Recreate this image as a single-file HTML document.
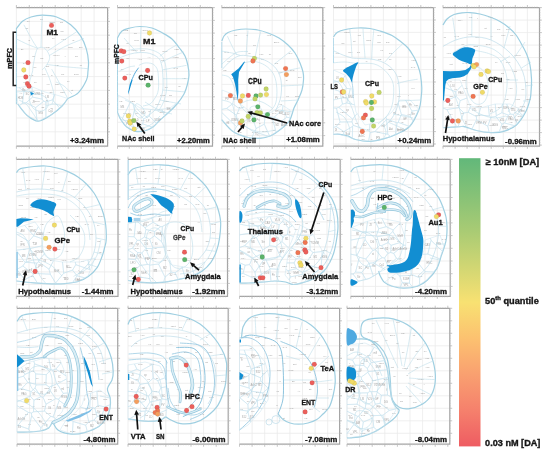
<!DOCTYPE html>
<html><head><meta charset="utf-8"><title>Figure</title>
<style>
html,body{margin:0;padding:0;background:#fff;}
svg{display:block;}
.tl text{font-weight:normal;fill:#a4a4a4;stroke:none;}
text{font-family:"Liberation Sans",Arial,sans-serif;font-weight:bold;fill:#151515;stroke:#151515;stroke-width:0.34px;}
</style></head><body>
<svg width="550" height="456" viewBox="0 0 550 456">
<defs>
<linearGradient id="cb" x1="0" y1="0" x2="0" y2="1">
<stop offset="0" stop-color="#62b87a"/>
<stop offset="0.25" stop-color="#a8cb74"/>
<stop offset="0.5" stop-color="#f8e172"/>
<stop offset="0.63" stop-color="#fcc070"/>
<stop offset="0.75" stop-color="#f9a070"/>
<stop offset="0.88" stop-color="#f57f6c"/>
<stop offset="1" stop-color="#ee5c62"/>
</linearGradient>
</defs>
<rect width="550" height="456" fill="#fff"/>
<rect x="16.4" y="7.6" width="91.2" height="138.6" fill="#fff"/>
<path d="M16.4,7.6V146.2M29.3,7.6V146.2M42.3,7.6V146.2M55.2,7.6V146.2M68.2,7.6V146.2M81.2,7.6V146.2M94.1,7.6V146.2M16.4,21.4H107.6M16.4,35.2H107.6M16.4,49.0H107.6M16.4,62.8H107.6M16.4,76.6H107.6M16.4,90.4H107.6M16.4,104.2H107.6M16.4,118.0H107.6M16.4,131.8H107.6" stroke="#ebebeb" stroke-width="0.8" fill="none"/>
<rect x="117.5" y="7.6" width="95.0" height="138.6" fill="#fff"/>
<path d="M117.5,7.6V146.2M129.3,7.6V146.2M141.2,7.6V146.2M153.0,7.6V146.2M164.8,7.6V146.2M176.7,7.6V146.2M188.5,7.6V146.2M200.3,7.6V146.2M117.5,20.4H212.5M117.5,33.1H212.5M117.5,45.9H212.5M117.5,58.6H212.5M117.5,71.3H212.5M117.5,84.1H212.5M117.5,96.8H212.5M117.5,109.6H212.5M117.5,122.3H212.5M117.5,135.1H212.5" stroke="#ebebeb" stroke-width="0.8" fill="none"/>
<rect x="221.8" y="7.6" width="101.0" height="138.6" fill="#fff"/>
<path d="M221.8,7.6V146.2M234.4,7.6V146.2M247.0,7.6V146.2M259.6,7.6V146.2M272.2,7.6V146.2M284.8,7.6V146.2M297.4,7.6V146.2M310.0,7.6V146.2M221.8,20.4H322.8M221.8,33.2H322.8M221.8,46.0H322.8M221.8,58.8H322.8M221.8,71.6H322.8M221.8,84.4H322.8M221.8,97.2H322.8M221.8,110.0H322.8M221.8,122.8H322.8M221.8,135.6H322.8" stroke="#ebebeb" stroke-width="0.8" fill="none"/>
<rect x="333.5" y="7.6" width="100.0" height="138.6" fill="#fff"/>
<path d="M333.5,7.6V146.2M346.0,7.6V146.2M358.4,7.6V146.2M370.9,7.6V146.2M383.4,7.6V146.2M395.9,7.6V146.2M408.3,7.6V146.2M420.8,7.6V146.2M333.5,20.0H433.5M333.5,32.4H433.5M333.5,44.8H433.5M333.5,57.2H433.5M333.5,69.6H433.5M333.5,82.0H433.5M333.5,94.4H433.5M333.5,106.8H433.5M333.5,119.2H433.5M333.5,131.6H433.5M333.5,144.0H433.5" stroke="#ebebeb" stroke-width="0.8" fill="none"/>
<rect x="443.0" y="7.6" width="96.5" height="138.6" fill="#fff"/>
<path d="M443.0,7.6V146.2M455.1,7.6V146.2M467.1,7.6V146.2M479.2,7.6V146.2M491.2,7.6V146.2M503.3,7.6V146.2M515.3,7.6V146.2M527.4,7.6V146.2M443.0,20.1H539.5M443.0,32.6H539.5M443.0,45.1H539.5M443.0,57.6H539.5M443.0,70.1H539.5M443.0,82.6H539.5M443.0,95.1H539.5M443.0,107.6H539.5M443.0,120.1H539.5M443.0,132.6H539.5" stroke="#ebebeb" stroke-width="0.8" fill="none"/>
<path d="M16.2,29.0 C17.2,27.7 20.0,23.2 22.5,21.2 C25.0,19.2 27.7,18.0 31.0,17.0 C34.3,16.0 38.1,15.1 42.4,15.1 C46.7,15.1 51.9,15.4 56.6,17.0 C61.3,18.6 66.7,21.6 70.7,24.8 C74.7,28.0 78.1,32.1 80.7,36.1 C83.3,40.1 85.0,44.6 86.3,48.9 C87.6,53.1 88.2,57.8 88.5,61.6 C88.8,65.5 88.2,68.9 87.9,72.0 C87.6,75.1 88.1,76.5 86.5,80.0 C84.9,83.5 81.3,89.7 78.2,92.8 C75.1,95.9 69.5,97.5 67.8,98.5" stroke="#9fcfe1" stroke-width="1.20" fill="none"/>
<path d="M67.8,98.5 C66.8,99.8 64.8,103.3 62.1,106.0 C59.4,108.7 55.6,112.0 51.7,114.5 C47.8,117.0 42.6,120.9 38.5,121.1 C34.4,121.3 30.6,118.3 27.2,115.5 C23.8,112.7 19.4,106.1 17.8,104.2" stroke="#9fcfe1" stroke-width="1.20" fill="none"/>
<path d="M16.4,29.0 C16.4,41.5 16.4,91.7 16.4,104.2" stroke="#9fcfe1" stroke-width="0.90" fill="none"/>
<g class="tl" font-size="2.3"><text x="26.8" y="21.7">Pn</text><text x="39.9" y="20.1">mlf</text><text x="49.5" y="22.7">S1BF</text><text x="59.9" y="22.9">S2</text><text x="25.4" y="29.4">S1</text><text x="48.0" y="29.9">RSG</text><text x="60.6" y="32.2">sm</text><text x="28.5" y="41.2">ic</text><text x="51.9" y="39.3">LV</text><text x="61.4" y="40.3">LPO</text><text x="72.0" y="40.8">IC</text><text x="20.8" y="49.5">S1</text><text x="44.6" y="48.4">HDB</text><text x="55.2" y="50.0">f</text><text x="67.9" y="48.3">MnR</text><text x="79.0" y="48.4">Ect</text><text x="32.2" y="56.9">sm</text><text x="40.2" y="58.7">SC</text><text x="52.7" y="55.7">V2MM</text><text x="64.7" y="56.6">f</text><text x="74.9" y="57.3">S1</text><text x="22.8" y="64.1">CA3</text><text x="33.3" y="67.5">M1</text><text x="45.9" y="66.7">Ect</text><text x="55.6" y="66.2">LSI</text><text x="79.7" y="66.3">cp</text><text x="28.8" y="75.7">CA3</text><text x="42.0" y="74.5">CM</text><text x="51.1" y="76.4">fr</text><text x="61.0" y="75.4">GP</text><text x="74.1" y="74.7">DLG</text><text x="23.3" y="82.9">cp</text><text x="34.3" y="83.0">DI</text><text x="46.6" y="84.8">VP</text><text x="54.9" y="85.1">PBP</text><text x="66.9" y="81.8">LV</text><text x="19.5" y="93.6">AV</text><text x="29.3" y="91.6">VPM</text><text x="40.5" y="93.7">Str</text><text x="49.6" y="92.8">Str</text><text x="60.3" y="92.5">LEnt</text><text x="71.3" y="90.9">st</text><text x="33.0" y="102.4">V2MM</text><text x="45.7" y="101.0">ac</text><text x="41.4" y="108.2">S2</text><text x="50.1" y="109.3">ICj</text></g>
<path d="M45.9,101.9 L52.4,99.9 L54.8,94.6 L45.0,92.0 L41.6,90.6 L42.0,99.1 L43.9,101.2 L45.9,101.9ZM45.9,101.9 L43.9,101.2 L35.6,107.6 L37.0,120.3 L38.5,121.0 L45.9,117.4 L45.9,101.9ZM32.0,87.5 L24.0,91.4 L22.3,103.6 L26.2,102.7 L32.5,97.1 L32.0,87.5ZM22.3,103.6 L19.0,105.7 L27.0,115.5 L37.0,120.3 L35.6,107.6 L26.2,102.7 L22.3,103.6ZM22.3,103.6 L24.0,91.4 L19.1,87.6 L16.4,88.0 L17.8,104.2 L19.0,105.7 L22.3,103.6ZM42.0,99.1 L32.5,97.1 L26.2,102.7 L35.6,107.6 L43.9,101.2 L42.0,99.1ZM41.6,90.6 L32.3,86.9 L32.0,87.5 L32.5,97.1 L42.0,99.1 L41.6,90.6ZM52.4,99.9 L45.9,101.9 L45.9,117.4 L51.7,114.5 L59.6,107.9 L52.4,99.9ZM52.4,99.9 L59.6,107.9 L62.0,106.0 L67.8,98.5 L60.0,96.0 L54.8,94.6 L52.4,99.9ZM24.0,91.4 L32.0,87.5 L32.3,86.9 L30.0,86.0 L19.1,87.6 L24.0,91.4Z" stroke="#c9e3ee" stroke-width="0.50" fill="none" stroke-linejoin="round"/>
<g class="tl" font-size="2.6"><text x="45.3" y="97.9">LSI</text><text x="38.5" y="113.5">MG</text><text x="25.5" y="95.3">SC</text><text x="17.7" y="98.5">HDB</text><text x="32.5" y="103.0">ZI</text><text x="34.5" y="94.9">MPA</text><text x="48.3" y="112.2">Cg1</text><text x="22.2" y="90.5">Re</text></g>
<path d="M23.9,24.8 C25.3,27.4 30.1,36.5 32.4,40.4 C34.6,44.3 36.6,46.9 37.4,48.2" stroke="#bedde9" stroke-width="0.60" fill="none"/>
<path d="M42.4,15.5 C42.2,17.9 41.7,24.7 41.5,30.0 C41.3,35.3 41.1,44.6 41.0,47.5" stroke="#bedde9" stroke-width="0.60" fill="none"/>
<path d="M16.4,39.0 C18.4,39.9 24.7,43.1 28.2,44.6 C31.7,46.1 35.9,47.6 37.4,48.2" stroke="#bedde9" stroke-width="0.60" fill="none"/>
<path d="M37.4,48.2 C38.2,48.1 40.9,46.9 42.4,47.3 C43.9,47.6 45.4,48.8 46.6,50.3 C47.8,51.8 49.1,54.2 49.5,56.0 C49.9,57.8 49.4,59.4 48.8,61.0 C48.2,62.6 47.0,64.4 45.9,65.9 C44.8,67.4 42.6,69.3 42.0,70.0" stroke="#bedde9" stroke-width="0.60" fill="none"/>
<path d="M37.4,48.2 C37.0,49.3 36.0,51.6 35.3,54.6 C34.6,57.6 33.6,63.0 33.1,65.9 C32.6,68.8 32.9,69.7 32.4,72.0 C31.9,74.3 30.6,77.2 30.0,80.0 C29.4,82.8 29.2,87.5 29.0,89.0" stroke="#bedde9" stroke-width="0.60" fill="none"/>
<path d="M47.5,51.0 C50.2,49.2 58.8,43.6 63.6,40.4 C68.4,37.2 74.3,33.3 76.4,31.9" stroke="#bedde9" stroke-width="0.60" fill="none"/>
<path d="M49.3,55.5 C52.1,53.9 60.2,48.8 66.0,46.0 C71.8,43.2 81.0,39.8 84.0,38.5" stroke="#bedde9" stroke-width="0.60" fill="none"/>
<path d="M47.0,64.5 C49.8,64.8 56.8,65.9 63.6,66.6 C70.4,67.3 83.9,68.3 88.0,68.7" stroke="#bedde9" stroke-width="0.60" fill="none"/>
<path d="M51.7,69.2 C53.1,71.7 57.3,79.1 60.0,84.0 C62.7,88.9 66.5,96.1 67.8,98.5" stroke="#bedde9" stroke-width="0.60" fill="none"/>
<path d="M45.0,68.0 C45.8,70.0 48.5,75.5 50.0,80.0 C51.5,84.5 53.7,91.0 54.0,95.0 C54.3,99.0 52.3,102.5 52.0,104.0" stroke="#bedde9" stroke-width="0.60" fill="none"/>
<path d="M16.4,91.9 C18.0,91.8 22.9,91.5 26.0,91.5 C29.1,91.5 33.5,91.9 35.0,92.0" stroke="#bedde9" stroke-width="0.60" fill="none"/>
<path d="M30.0,96.0 C31.3,94.7 35.3,93.7 38.0,94.0 C40.7,94.3 44.3,96.0 46.0,98.0 C47.7,100.0 48.7,103.8 48.0,106.0 C47.3,108.2 44.3,110.5 42.0,111.0 C39.7,111.5 36.0,110.5 34.0,109.0 C32.0,107.5 30.7,104.2 30.0,102.0 C29.3,99.8 28.7,97.3 30.0,96.0Z" stroke="#bedde9" stroke-width="0.60" fill="none"/>
<path d="M19.0,100.0 C20.2,100.7 23.8,102.0 26.0,104.0 C28.2,106.0 30.0,109.2 32.0,112.0 C34.0,114.8 37.0,119.5 38.0,121.0" stroke="#bedde9" stroke-width="0.60" fill="none"/>
<path d="M46.0,106.0 C47.3,105.7 51.3,104.0 54.0,104.0 C56.7,104.0 60.7,105.7 62.0,106.0" stroke="#bedde9" stroke-width="0.60" fill="none"/>
<path d="M56.0,82.0 C57.3,82.7 61.3,84.0 64.0,86.0 C66.7,88.0 70.7,92.7 72.0,94.0" stroke="#bedde9" stroke-width="0.60" fill="none"/>
<polygon points="30.3,91.8 34.2,93.6 30.8,95.6" fill="#128ed2"/>
<text x="46.4" y="35.0" font-size="8.0" textLength="11.6" lengthAdjust="spacingAndGlyphs">M1</text>
<text transform="translate(11.6,68.8) rotate(-90)" font-size="8.0" textLength="20.8" lengthAdjust="spacingAndGlyphs">mPFC</text>
<path d="M16.2,32.2H13.2V85.6H16.2" stroke="#222" stroke-width="1.5" fill="none"/>
<circle cx="51.5" cy="25.4" r="2.4" fill="#eb5f5b" stroke="#000" stroke-opacity="0.12" stroke-width="0.5"/>
<circle cx="28.0" cy="62.7" r="2.4" fill="#eb5f5b" stroke="#000" stroke-opacity="0.12" stroke-width="0.5"/>
<circle cx="23.8" cy="70.0" r="2.4" fill="#f0db68" stroke="#000" stroke-opacity="0.12" stroke-width="0.5"/>
<circle cx="25.8" cy="77.0" r="2.4" fill="#eb5f5b" stroke="#000" stroke-opacity="0.12" stroke-width="0.5"/>
<circle cx="27.4" cy="83.7" r="2.4" fill="#eb5f5b" stroke="#000" stroke-opacity="0.12" stroke-width="0.5"/>
<circle cx="29.0" cy="86.2" r="2.4" fill="#eb5f5b" stroke="#000" stroke-opacity="0.12" stroke-width="0.5"/>
<text x="70.0" y="143.0" font-size="8.0" textLength="34.0" lengthAdjust="spacingAndGlyphs">+3.24mm</text>
<path d="M117.5,38.0 C118.2,36.8 119.9,32.7 122.0,31.0 C124.1,29.3 127.0,28.8 130.0,28.0 C133.0,27.2 136.3,26.5 140.0,26.5 C143.7,26.5 148.2,26.9 152.0,28.0 C155.8,29.1 159.2,31.2 162.5,33.0 C165.8,34.8 169.2,36.5 172.0,39.0 C174.8,41.5 177.2,45.2 179.4,48.0 C181.6,50.8 183.6,53.2 185.0,56.0 C186.4,58.8 187.1,61.8 187.8,65.0 C188.5,68.2 189.1,71.8 189.0,75.0 C188.9,78.2 188.3,80.8 187.5,84.0 C186.7,87.2 185.8,90.7 184.0,94.0 C182.2,97.3 179.7,100.8 177.0,104.0 C174.3,107.2 170.8,110.3 168.0,113.0 C165.2,115.7 162.5,117.7 160.0,120.0 C157.5,122.3 155.6,125.2 153.0,127.0 C150.4,128.8 147.2,130.3 144.3,131.0 C141.4,131.7 138.4,132.0 135.5,131.3 C132.6,130.6 129.2,128.9 126.8,127.0 C124.4,125.1 122.5,122.3 121.0,120.0 C119.5,117.7 118.3,114.2 117.8,113.0" stroke="#9fcfe1" stroke-width="1.20" fill="none"/>
<path d="M117.5,38.0 C117.5,50.5 117.5,100.5 117.5,113.0" stroke="#9fcfe1" stroke-width="0.90" fill="none"/>
<g class="tl" font-size="2.3"><text x="123.5" y="31.3">HDB</text><text x="133.7" y="33.8">CM</text><text x="142.6" y="31.2">S1FL</text><text x="126.3" y="43.5">ns</text><text x="134.3" y="40.6">LPO</text><text x="145.9" y="40.4">ZI</text><text x="121.0" y="52.5">MG</text><text x="130.9" y="50.5">V2MM</text><text x="140.2" y="50.7">PnO</text><text x="162.5" y="51.6">RSG</text><text x="174.0" y="49.6">HDB</text><text x="126.3" y="58.7">GP</text><text x="137.6" y="59.5">APT</text><text x="147.6" y="58.3">AV</text><text x="160.9" y="60.6">M2</text><text x="172.0" y="58.3">AcbSh</text><text x="120.8" y="70.0">Tu</text><text x="173.2" y="69.2">CA3</text><text x="126.3" y="75.1">CA1</text><text x="182.3" y="78.5">V2L</text><text x="164.8" y="87.8">sm</text><text x="178.6" y="86.6">DI</text><text x="160.0" y="95.5">RMC</text><text x="168.9" y="95.7">mlf</text><text x="119.6" y="101.9">LD</text><text x="130.1" y="101.6">RSG</text><text x="155.3" y="105.4">S1FL</text><text x="164.4" y="101.6">PBP</text><text x="123.2" y="114.1">SC</text><text x="135.3" y="114.2">M1</text><text x="148.6" y="111.9">Rt</text><text x="159.5" y="113.0">S1BF</text><text x="130.4" y="122.0">V2MM</text><text x="141.0" y="121.4">RSA</text></g>
<path d="M134.5,109.8 L132.9,103.3 L130.6,101.7 L121.7,119.9 L131.7,121.6 L134.5,109.8ZM161.8,109.1 L155.0,110.0 L150.8,109.4 L149.3,116.2 L156.7,123.5 L164.7,116.1 L161.8,109.1ZM121.7,119.9 L130.6,101.7 L128.0,100.0 L118.0,95.0 L118.0,113.0 L121.0,120.0 L121.1,120.1 L121.7,119.9ZM135.0,130.7 L131.7,121.6 L121.7,119.9 L121.1,120.1 L127.0,127.0 L134.9,131.0 L135.0,130.7ZM134.5,109.8 L143.7,118.8 L149.3,116.2 L150.8,109.4 L140.0,108.0 L132.9,103.3 L134.5,109.8ZM143.7,118.8 L134.5,109.8 L131.7,121.6 L135.0,130.7 L142.7,123.9 L143.7,118.8ZM152.5,127.2 L153.0,127.0 L156.7,123.5 L149.3,116.2 L143.7,118.8 L142.7,123.9 L152.5,127.2ZM135.0,130.7 L134.9,131.0 L135.0,131.0 L144.0,131.0 L152.5,127.2 L142.7,123.9 L135.0,130.7ZM164.7,116.1 L168.0,113.0 L178.0,102.0 L170.0,108.0 L161.8,109.1 L164.7,116.1Z" stroke="#c9e3ee" stroke-width="0.50" fill="none" stroke-linejoin="round"/>
<g class="tl" font-size="2.6"><text x="126.2" y="115.8">LPO</text><text x="154.3" y="120.9">S1BF</text><text x="120.4" y="108.4">MS</text><text x="126.2" y="125.3">PBP</text><text x="141.4" y="114.0">MD</text><text x="135.2" y="121.2">LD</text><text x="146.3" y="122.1">LP</text><text x="140.3" y="130.0">SHi</text><text x="166.5" y="109.5">SHi</text></g>
<path d="M138.9,65.3 C139.9,64.9 142.7,63.2 144.9,63.0 C147.1,62.8 150.3,62.9 152.3,63.8 C154.3,64.7 155.8,66.3 156.8,68.3 C157.8,70.3 158.1,72.1 158.3,75.7 C158.6,79.3 158.9,86.3 158.3,90.0 C157.8,93.7 156.4,95.7 155.0,98.0 C153.6,100.3 152.0,102.7 150.0,104.0 C148.0,105.3 144.2,105.7 143.0,106.0" stroke="#bedde9" stroke-width="0.60" fill="none"/>
<path d="M119.5,57.8 C121.2,57.2 126.7,55.0 129.9,54.1 C133.1,53.2 135.7,52.7 138.9,52.6 C142.1,52.5 146.1,52.4 149.3,53.3 C152.5,54.2 156.3,56.0 158.3,57.8 C160.3,59.5 160.6,61.1 161.3,63.8 C162.1,66.5 162.6,69.8 162.8,74.2 C163.1,78.6 163.3,85.7 162.8,90.0 C162.3,94.3 161.3,96.7 160.0,100.0 C158.7,103.3 157.3,107.2 155.0,110.0 C152.7,112.8 147.5,115.8 146.0,117.0" stroke="#bedde9" stroke-width="0.70" fill="none"/>
<path d="M119.5,53.5 C121.2,52.9 126.8,50.8 130.0,50.0 C133.2,49.2 135.7,48.9 139.0,48.8 C142.3,48.7 146.5,48.6 150.0,49.5 C153.5,50.4 157.5,51.9 160.0,54.0 C162.5,56.1 163.7,58.7 164.8,62.0 C165.9,65.3 166.2,69.3 166.5,74.0 C166.8,78.7 167.0,85.3 166.5,90.0 C166.0,94.7 164.9,98.3 163.5,102.0 C162.1,105.7 158.9,110.3 158.0,112.0" stroke="#bedde9" stroke-width="0.60" fill="none"/>
<path d="M124.0,38.0 C125.2,39.3 128.8,43.5 131.0,46.0 C133.2,48.5 136.3,51.7 137.4,52.8" stroke="#bedde9" stroke-width="0.60" fill="none"/>
<path d="M141.0,27.0 C140.9,29.2 140.6,35.8 140.5,40.0 C140.4,44.2 140.4,50.0 140.4,52.0" stroke="#bedde9" stroke-width="0.60" fill="none"/>
<path d="M159.8,56.3 C161.2,55.2 165.0,52.0 168.0,50.0 C171.0,48.0 176.1,45.3 177.7,44.4" stroke="#bedde9" stroke-width="0.60" fill="none"/>
<path d="M161.6,62.3 C163.3,61.4 168.3,58.7 172.0,57.0 C175.7,55.3 181.8,52.8 183.7,51.9" stroke="#bedde9" stroke-width="0.60" fill="none"/>
<path d="M163.0,69.8 C165.0,69.4 171.1,68.2 175.0,67.5 C178.9,66.8 184.7,65.7 186.6,65.3" stroke="#bedde9" stroke-width="0.60" fill="none"/>
<path d="M163.0,78.7 C167.2,78.7 183.9,78.7 188.1,78.7" stroke="#bedde9" stroke-width="0.60" fill="none"/>
<path d="M162.8,90.0 C166.7,90.3 182.1,91.7 186.0,92.0" stroke="#bedde9" stroke-width="0.60" fill="none"/>
<path d="M160.0,100.0 C163.5,100.7 177.5,103.3 181.0,104.0" stroke="#bedde9" stroke-width="0.60" fill="none"/>
<path d="M155.0,110.0 C157.8,110.7 169.2,113.3 172.0,114.0" stroke="#bedde9" stroke-width="0.60" fill="none"/>
<path d="M119.5,71.3 C120.2,70.9 122.3,69.8 124.0,69.0 C125.7,68.2 128.1,67.3 129.9,66.8 C131.7,66.3 134.2,66.1 135.0,66.0" stroke="#bedde9" stroke-width="0.60" fill="none"/>
<path d="M120.6,116.4 C122.3,118.0 127.3,124.1 131.0,126.0 C134.7,127.9 139.2,128.1 142.6,127.8 C146.0,127.5 148.4,126.3 151.3,124.3 C154.2,122.3 158.6,117.4 160.0,116.0" stroke="#bedde9" stroke-width="0.60" fill="none"/>
<path d="M125.0,100.0 C126.3,100.7 130.5,102.0 133.0,104.0 C135.5,106.0 137.5,109.7 140.0,112.0 C142.5,114.3 146.7,117.0 148.0,118.0" stroke="#bedde9" stroke-width="0.60" fill="none"/>
<path d="M136.0,104.0 C137.2,103.0 140.5,105.3 142.0,107.0 C143.5,108.7 145.3,112.2 145.0,114.0 C144.7,115.8 141.7,118.2 140.0,118.0 C138.3,117.8 135.7,115.3 135.0,113.0 C134.3,110.7 134.8,105.0 136.0,104.0Z" stroke="#bedde9" stroke-width="0.60" fill="none"/>
<path d="M145.0,102.0 C146.7,103.0 151.7,106.3 155.0,108.0 C158.3,109.7 163.3,111.3 165.0,112.0" stroke="#bedde9" stroke-width="0.60" fill="none"/>
<path d="M138.6,67.7 C138.0,68.6 136.1,71.0 135.0,73.0 C133.9,75.0 132.5,78.4 132.0,79.5" stroke="#4aa3d6" stroke-width="0.90" fill="none"/>
<polygon points="131.8,79.0 129.8,84.0 128.2,92.0 128.0,94.8 129.6,90.0 131.2,84.5 132.6,80.0" fill="#128ed2"/>
<text x="143.0" y="44.3" font-size="8.0" textLength="12.4" lengthAdjust="spacingAndGlyphs">M1</text>
<text transform="translate(119.1,63.9) rotate(-90)" font-size="8.0" textLength="19.7" lengthAdjust="spacingAndGlyphs">mPFC</text>
<text x="138.6" y="79.7" font-size="8.0" textLength="14.4" lengthAdjust="spacingAndGlyphs">CPu</text>
<circle cx="149.5" cy="33.0" r="2.4" fill="#f0db68" stroke="#000" stroke-opacity="0.12" stroke-width="0.5"/>
<circle cx="121.2" cy="50.8" r="2.4" fill="#eb5f5b" stroke="#000" stroke-opacity="0.12" stroke-width="0.5"/>
<circle cx="123.8" cy="51.7" r="2.4" fill="#eb5f5b" stroke="#000" stroke-opacity="0.12" stroke-width="0.5"/>
<circle cx="121.8" cy="61.1" r="2.4" fill="#eb5f5b" stroke="#000" stroke-opacity="0.12" stroke-width="0.5"/>
<circle cx="147.6" cy="70.5" r="2.4" fill="#eb5f5b" stroke="#000" stroke-opacity="0.12" stroke-width="0.5"/>
<circle cx="124.8" cy="78.1" r="2.4" fill="#eb5f5b" stroke="#000" stroke-opacity="0.12" stroke-width="0.5"/>
<circle cx="148.1" cy="85.2" r="2.4" fill="#5bb36a" stroke="#000" stroke-opacity="0.12" stroke-width="0.5"/>
<circle cx="128.4" cy="116.0" r="2.4" fill="#f0db68" stroke="#000" stroke-opacity="0.12" stroke-width="0.5"/>
<circle cx="129.8" cy="121.2" r="2.4" fill="#f0db68" stroke="#000" stroke-opacity="0.12" stroke-width="0.5"/>
<circle cx="130.3" cy="123.0" r="2.4" fill="#f0db68" stroke="#000" stroke-opacity="0.12" stroke-width="0.5"/>
<circle cx="133.8" cy="120.6" r="2.4" fill="#9cc967" stroke="#000" stroke-opacity="0.12" stroke-width="0.5"/>
<circle cx="134.2" cy="129.1" r="2.4" fill="#f0db68" stroke="#000" stroke-opacity="0.12" stroke-width="0.5"/>
<path d="M144.8,133.5L139.0,125.4" stroke="#111" stroke-width="1.70"/>
<polygon points="136.4,121.7 141.2,124.4 137.4,127.1" fill="#111"/>
<text x="122.0" y="141.4" font-size="8.0" textLength="32.4" lengthAdjust="spacingAndGlyphs">NAc shell</text>
<text x="177.0" y="142.6" font-size="8.0" textLength="32.8" lengthAdjust="spacingAndGlyphs">+2.20mm</text>
<path d="M221.8,41.0 C222.2,40.2 223.0,37.4 224.0,36.0 C225.0,34.6 226.0,33.5 228.0,32.5 C230.0,31.5 233.0,30.6 236.0,30.0 C239.0,29.4 242.3,29.0 246.0,29.0 C249.7,29.0 254.3,29.3 258.0,30.0 C261.7,30.7 264.5,31.7 268.0,33.0 C271.5,34.3 275.7,36.0 279.0,38.0 C282.3,40.0 285.3,42.5 288.0,45.0 C290.7,47.5 293.0,50.0 295.0,53.0 C297.0,56.0 298.7,59.8 300.0,63.0 C301.3,66.2 302.4,69.2 303.0,72.0 C303.6,74.8 303.7,77.0 303.5,80.0 C303.3,83.0 302.9,86.7 302.0,90.0 C301.1,93.3 299.3,97.0 298.0,100.0 C296.7,103.0 295.4,104.6 294.0,108.0 C292.6,111.4 291.8,116.9 289.6,120.4 C287.4,124.0 283.9,126.7 280.7,129.3 C277.5,131.9 273.7,134.5 270.2,136.0 C266.7,137.5 263.5,138.1 259.8,138.3 C256.1,138.6 252.4,138.6 247.9,137.5 C243.4,136.4 237.4,134.6 233.0,131.6 C228.6,128.6 223.6,121.6 221.7,119.6" stroke="#9fcfe1" stroke-width="1.20" fill="none"/>
<g class="tl" font-size="2.3"><text x="234.2" y="36.1">M2</text><text x="246.4" y="35.5">ic</text><text x="266.7" y="36.2">VLG</text><text x="253.0" y="45.6">Re</text><text x="273.8" y="42.9">S1FL</text><text x="224.4" y="52.8">PAG</text><text x="248.2" y="53.9">cp</text><text x="259.1" y="54.8">VPL</text><text x="268.8" y="55.2">GI</text><text x="288.6" y="54.4">SHi</text><text x="227.5" y="62.4">Pn</text><text x="261.3" y="60.3">LV</text><text x="274.8" y="63.9">DG</text><text x="223.2" y="70.9">MD</text><text x="279.5" y="72.7">Pn</text><text x="289.8" y="71.3">DLG</text><text x="231.7" y="78.7">PV</text><text x="285.7" y="80.7">st</text><text x="298.0" y="78.1">Ect</text><text x="231.3" y="98.4">DI</text><text x="286.2" y="97.2">Po</text><text x="294.9" y="97.0">Sub</text><text x="238.4" y="107.9">CA1</text><text x="279.6" y="105.2">ns</text><text x="237.0" y="113.7">GI</text><text x="262.0" y="116.1">DLG</text><text x="272.0" y="114.4">CA1</text><text x="281.8" y="114.9">V2L</text><text x="226.6" y="121.8">V1</text><text x="238.4" y="125.0">GP</text><text x="247.4" y="122.2">mlf</text><text x="259.1" y="123.9">ic</text><text x="271.4" y="123.3">Cg1</text><text x="281.3" y="123.1">LPO</text><text x="239.2" y="132.9">ml</text><text x="251.7" y="133.2">CA1</text><text x="261.9" y="131.5">RMC</text><text x="272.9" y="130.9">cp</text></g>
<path d="M289.7,117.8 L290.0,110.0 L283.0,105.6 L282.5,109.7 L286.8,117.2 L289.7,117.8ZM272.1,117.3 L265.2,114.9 L264.3,124.2 L269.6,136.1 L270.0,136.0 L276.1,132.2 L272.1,117.3ZM254.2,132.1 L241.4,124.0 L238.1,124.9 L236.4,126.6 L233.7,131.9 L248.0,137.5 L251.9,137.7 L254.2,132.1ZM226.6,108.4 L232.7,103.7 L234.8,94.9 L222.0,90.0 L221.8,109.4 L226.6,108.4ZM236.4,115.2 L226.6,108.4 L221.8,109.4 L221.8,112.5 L236.4,126.6 L238.1,124.9 L236.4,115.2ZM239.3,108.7 L232.7,103.7 L226.6,108.4 L236.4,115.2 L239.3,108.7ZM268.4,136.3 L269.6,136.1 L264.3,124.2 L256.1,128.5 L254.8,131.8 L268.4,136.3ZM232.7,103.7 L239.3,108.7 L244.2,107.1 L240.0,104.0 L235.0,95.0 L234.8,94.9 L232.7,103.7ZM251.8,115.8 L256.1,128.5 L264.3,124.2 L265.2,114.9 L264.1,113.4 L255.0,115.0 L253.2,113.7 L251.8,115.8ZM239.3,108.7 L236.4,115.2 L238.1,124.9 L241.4,124.0 L251.8,115.8 L253.2,113.7 L244.2,107.1 L239.3,108.7ZM281.5,121.1 L274.2,117.1 L272.1,117.3 L276.1,132.2 L280.7,129.3 L282.1,127.9 L281.5,121.1ZM254.2,132.1 L254.8,131.8 L256.1,128.5 L251.8,115.8 L241.4,124.0 L254.2,132.1ZM236.4,126.6 L221.8,112.5 L221.7,119.6 L233.0,131.6 L233.7,131.9 L236.4,126.6ZM282.5,109.7 L274.2,117.1 L281.5,121.1 L286.8,117.2 L282.5,109.7ZM254.8,131.8 L254.2,132.1 L251.9,137.7 L260.0,138.0 L268.4,136.3 L254.8,131.8ZM286.8,117.2 L281.5,121.1 L282.1,127.9 L289.6,120.4 L289.7,117.8 L286.8,117.2ZM265.2,114.9 L272.1,117.3 L274.2,117.1 L282.5,109.7 L283.0,105.6 L282.0,105.0 L272.0,112.0 L264.1,113.4 L265.2,114.9Z" stroke="#c9e3ee" stroke-width="0.50" fill="none" stroke-linejoin="round"/>
<g class="tl" font-size="2.6"><text x="284.8" y="114.6">S1J</text><text x="239.9" y="130.2">f</text><text x="225.3" y="100.3">PV</text><text x="230.9" y="121.1">V2MM</text><text x="233.1" y="100.3">MD</text><text x="256.5" y="121.0">Pn</text><text x="275.4" y="125.5">M2</text><text x="247.4" y="120.9">MD</text><text x="226.4" y="124.1">mt</text><text x="279.0" y="114.4">AM</text><text x="255.2" y="135.2">ICj</text><text x="281.2" y="125.5">AcbC</text><text x="274.9" y="111.8">sm</text></g>
<path d="M221.9,69.8 C223.4,68.2 228.1,62.8 231.2,60.4 C234.3,58.0 237.1,56.1 240.5,55.5 C243.9,54.9 248.4,56.0 251.7,56.5 C254.9,57.0 257.2,57.6 260.0,58.5 C262.8,59.4 265.8,60.3 268.5,62.0 C271.2,63.7 274.0,65.8 276.0,68.5 C278.0,71.2 279.6,74.4 280.5,78.0 C281.4,81.6 281.6,86.3 281.5,90.0 C281.4,93.7 280.9,96.7 280.0,100.0 C279.1,103.3 276.7,108.3 276.0,110.0" stroke="#bedde9" stroke-width="0.70" fill="none"/>
<path d="M242.4,63.2 C244.3,62.9 249.9,61.1 253.6,61.4 C257.3,61.7 261.5,63.1 264.8,65.1 C268.1,67.1 271.2,70.2 273.2,73.5 C275.1,76.8 275.9,80.4 276.5,84.7 C277.1,89.0 277.1,95.7 276.5,99.6 C275.9,103.5 274.8,105.6 273.0,108.0 C271.2,110.4 267.2,113.0 266.0,114.0" stroke="#bedde9" stroke-width="0.60" fill="none"/>
<path d="M221.9,51.1 C223.6,51.4 228.9,52.3 232.0,53.0 C235.1,53.7 239.1,55.1 240.5,55.5" stroke="#bedde9" stroke-width="0.60" fill="none"/>
<path d="M221.9,64.0 C223.2,62.8 227.3,59.0 230.0,57.0 C232.7,55.0 235.0,52.9 238.0,52.0 C241.0,51.1 246.3,51.6 248.0,51.5" stroke="#bedde9" stroke-width="0.60" fill="none"/>
<path d="M227.5,36.2 C228.2,37.8 230.4,42.9 232.0,46.0 C233.6,49.1 236.0,53.4 236.8,54.9" stroke="#bedde9" stroke-width="0.60" fill="none"/>
<path d="M248.0,30.6 C247.8,32.5 247.3,37.9 247.0,42.0 C246.7,46.1 246.2,53.0 246.1,55.2" stroke="#bedde9" stroke-width="0.60" fill="none"/>
<path d="M261.0,30.6 C260.5,32.7 258.9,38.8 258.0,43.0 C257.1,47.2 255.8,53.8 255.4,56.0" stroke="#bedde9" stroke-width="0.60" fill="none"/>
<path d="M290.9,51.1 C289.4,52.2 284.8,55.8 282.0,58.0 C279.2,60.2 275.4,63.2 274.1,64.2" stroke="#bedde9" stroke-width="0.60" fill="none"/>
<path d="M300.2,67.9 C298.5,68.2 293.6,69.1 290.0,70.0 C286.4,70.9 280.7,72.9 278.8,73.5" stroke="#bedde9" stroke-width="0.60" fill="none"/>
<path d="M302.0,85.0 C298.6,85.2 284.9,85.8 281.5,86.0" stroke="#bedde9" stroke-width="0.60" fill="none"/>
<path d="M299.0,100.0 C296.0,100.2 284.0,100.8 281.0,101.0" stroke="#bedde9" stroke-width="0.60" fill="none"/>
<path d="M293.0,112.0 C290.5,111.7 280.5,110.3 278.0,110.0" stroke="#bedde9" stroke-width="0.60" fill="none"/>
<path d="M221.8,42.0 C221.8,46.3 221.8,63.7 221.8,68.0" stroke="#b5daea" stroke-width="1.00" fill="none"/>
<path d="M222.0,75.0 C223.3,75.5 227.7,75.2 230.0,78.0 C232.3,80.8 234.3,87.7 236.0,92.0 C237.7,96.3 238.3,100.7 240.0,104.0 C241.7,107.3 243.3,109.7 246.0,112.0 C248.7,114.3 254.3,117.0 256.0,118.0" stroke="#bedde9" stroke-width="0.60" fill="none"/>
<path d="M240.0,104.0 C241.7,103.3 246.3,100.3 250.0,100.0 C253.7,99.7 258.3,100.7 262.0,102.0 C265.7,103.3 270.3,107.0 272.0,108.0" stroke="#bedde9" stroke-width="0.60" fill="none"/>
<path d="M250.0,108.0 C250.5,106.3 256.0,105.3 258.0,106.0 C260.0,106.7 262.5,110.3 262.0,112.0 C261.5,113.7 257.0,116.7 255.0,116.0 C253.0,115.3 249.5,109.7 250.0,108.0Z" stroke="#bedde9" stroke-width="0.60" fill="none"/>
<path d="M222.0,100.0 C223.7,100.7 229.7,101.0 232.0,104.0 C234.3,107.0 233.3,114.0 236.0,118.0 C238.7,122.0 243.7,125.7 248.0,128.0 C252.3,130.3 257.5,131.7 262.0,132.0 C266.5,132.3 272.8,130.3 275.0,130.0" stroke="#bedde9" stroke-width="0.60" fill="none"/>
<polygon points="244.3,61.4 238.5,68.5 231.2,74.2 233.0,77.0 235.0,84.0 236.5,92.0 237.7,101.0 238.4,92.0 238.2,80.0 239.0,72.0 244.9,62.0" fill="#128ed2"/>
<text x="248.0" y="83.7" font-size="8.6" textLength="13.6" lengthAdjust="spacingAndGlyphs">CPu</text>
<circle cx="254.4" cy="58.5" r="2.4" fill="#c2d567" stroke="#000" stroke-opacity="0.12" stroke-width="0.5"/>
<circle cx="252.9" cy="61.0" r="2.4" fill="#ef7552" stroke="#000" stroke-opacity="0.12" stroke-width="0.5"/>
<circle cx="285.6" cy="68.6" r="2.4" fill="#ef7552" stroke="#000" stroke-opacity="0.12" stroke-width="0.5"/>
<circle cx="286.4" cy="74.6" r="2.4" fill="#f39e5e" stroke="#000" stroke-opacity="0.12" stroke-width="0.5"/>
<circle cx="230.4" cy="95.6" r="2.4" fill="#ef7552" stroke="#000" stroke-opacity="0.12" stroke-width="0.5"/>
<circle cx="242.5" cy="96.0" r="2.4" fill="#f0db68" stroke="#000" stroke-opacity="0.12" stroke-width="0.5"/>
<circle cx="248.3" cy="95.4" r="2.4" fill="#eb5f5b" stroke="#000" stroke-opacity="0.12" stroke-width="0.5"/>
<circle cx="240.4" cy="101.0" r="2.4" fill="#f39e5e" stroke="#000" stroke-opacity="0.12" stroke-width="0.5"/>
<circle cx="256.0" cy="96.0" r="2.4" fill="#5bb36a" stroke="#000" stroke-opacity="0.12" stroke-width="0.5"/>
<circle cx="255.0" cy="98.9" r="2.4" fill="#c2d567" stroke="#000" stroke-opacity="0.12" stroke-width="0.5"/>
<circle cx="260.6" cy="95.1" r="2.4" fill="#c2d567" stroke="#000" stroke-opacity="0.12" stroke-width="0.5"/>
<circle cx="266.4" cy="94.6" r="2.4" fill="#f0db68" stroke="#000" stroke-opacity="0.12" stroke-width="0.5"/>
<circle cx="266.1" cy="89.0" r="2.4" fill="#c2d567" stroke="#000" stroke-opacity="0.12" stroke-width="0.5"/>
<circle cx="257.8" cy="106.8" r="2.4" fill="#5bb36a" stroke="#000" stroke-opacity="0.12" stroke-width="0.5"/>
<circle cx="257.0" cy="112.6" r="2.4" fill="#c2d567" stroke="#000" stroke-opacity="0.12" stroke-width="0.5"/>
<circle cx="260.4" cy="112.9" r="2.4" fill="#c2d567" stroke="#000" stroke-opacity="0.12" stroke-width="0.5"/>
<circle cx="267.5" cy="114.6" r="2.4" fill="#5bb36a" stroke="#000" stroke-opacity="0.12" stroke-width="0.5"/>
<circle cx="248.2" cy="116.4" r="2.4" fill="#c2d567" stroke="#000" stroke-opacity="0.12" stroke-width="0.5"/>
<circle cx="253.9" cy="119.9" r="2.4" fill="#5bb36a" stroke="#000" stroke-opacity="0.12" stroke-width="0.5"/>
<circle cx="240.5" cy="123.0" r="2.4" fill="#f39e5e" stroke="#000" stroke-opacity="0.12" stroke-width="0.5"/>
<circle cx="242.0" cy="121.0" r="2.4" fill="#c2d567" stroke="#000" stroke-opacity="0.12" stroke-width="0.5"/>
<path d="M287.0,123.0L251.6,113.0" stroke="#111" stroke-width="1.70"/>
<polygon points="247.3,111.8 252.7,110.9 251.5,115.4" fill="#111"/>
<text x="289.0" y="126.0" font-size="8.0" textLength="32.0" lengthAdjust="spacingAndGlyphs">NAc core</text>
<path d="M238.0,132.0L242.1,127.1" stroke="#111" stroke-width="1.70"/>
<polygon points="245.0,123.6 243.6,128.9 240.0,126.0" fill="#111"/>
<text x="223.0" y="142.6" font-size="8.0" textLength="32.9" lengthAdjust="spacingAndGlyphs">NAc shell</text>
<text x="286.2" y="142.3" font-size="8.0" textLength="33.6" lengthAdjust="spacingAndGlyphs">+1.08mm</text>
<path d="M333.5,37.0 C333.9,36.4 334.9,34.5 336.0,33.5 C337.1,32.5 338.0,31.8 340.0,31.0 C342.0,30.2 345.0,29.5 348.0,29.0 C351.0,28.5 354.3,28.1 358.0,28.0 C361.7,27.9 366.3,28.0 370.0,28.5 C373.7,29.0 376.3,29.8 380.0,31.0 C383.7,32.2 388.7,33.8 392.0,35.5 C395.3,37.2 397.3,38.9 400.0,41.0 C402.7,43.1 405.7,45.3 408.0,48.0 C410.3,50.7 412.3,54.0 414.0,57.0 C415.7,60.0 416.9,63.0 418.0,66.0 C419.1,69.0 419.9,71.3 420.5,75.0 C421.1,78.7 421.7,84.3 421.8,88.0 C421.9,91.7 421.7,93.4 421.2,97.0 C420.7,100.6 420.9,104.7 419.0,109.5 C417.1,114.3 413.7,121.9 410.0,126.0 C406.3,130.1 401.2,131.9 397.0,134.0 C392.8,136.1 389.0,137.4 384.5,138.6 C380.0,139.8 374.8,141.2 370.0,141.4 C365.2,141.6 359.2,140.4 355.5,139.5 C351.8,138.6 350.6,136.9 348.0,136.0 C345.4,135.1 342.4,134.6 340.0,134.3 C337.6,134.0 334.6,134.3 333.5,134.3" stroke="#9fcfe1" stroke-width="1.20" fill="none"/>
<g class="tl" font-size="2.3"><text x="344.2" y="32.9">MEnt</text><text x="357.7" y="35.7">opt</text><text x="377.6" y="36.4">DG</text><text x="341.2" y="43.8">GP</text><text x="352.9" y="42.4">mt</text><text x="366.2" y="41.4">SNC</text><text x="377.3" y="43.4">MD</text><text x="386.0" y="43.2">DG</text><text x="334.9" y="54.2">APT</text><text x="348.2" y="52.7">MPA</text><text x="357.0" y="53.2">sm</text><text x="380.4" y="51.3">LP</text><text x="389.1" y="53.9">S1</text><text x="365.7" y="62.3">ic</text><text x="377.8" y="60.2">MD</text><text x="389.1" y="60.3">ac</text><text x="411.2" y="61.3">VPM</text><text x="345.5" y="68.4">V2MM</text><text x="388.5" y="69.8">S1J</text><text x="410.8" y="67.9">CA1</text><text x="397.6" y="77.3">V2L</text><text x="411.6" y="88.9">Pn</text><text x="343.1" y="97.7">CM</text><text x="397.3" y="97.3">M2</text><text x="408.1" y="95.6">f</text><text x="394.5" y="104.9">sm</text><text x="402.5" y="106.5">SHi</text><text x="414.1" y="106.4">Cg1</text><text x="340.1" y="113.0">V2MM</text><text x="397.3" y="115.4">st</text><text x="407.3" y="115.3">AM</text><text x="335.0" y="124.5">S1FL</text><text x="355.3" y="124.2">Re</text><text x="388.9" y="122.1">M1</text><text x="401.0" y="122.7">IG</text><text x="341.8" y="131.7">Re</text><text x="367.1" y="130.1">Po</text><text x="376.7" y="132.7">MG</text><text x="388.7" y="130.3">Po</text><text x="397.4" y="130.3">DLG</text><text x="361.4" y="140.0">SC</text><text x="370.4" y="139.8">ZI</text></g>
<path d="M352.6,119.1 L352.0,121.9 L353.2,125.3 L369.2,131.0 L369.8,124.0 L365.0,125.0 L357.1,113.6 L352.6,119.1ZM343.9,131.6 L343.5,135.5 L352.3,138.4 L352.6,126.4 L343.9,131.6ZM352.6,119.1 L338.8,107.4 L336.4,108.2 L340.1,122.0 L352.0,121.9 L352.6,119.1ZM401.4,114.5 L410.4,116.4 L412.0,111.0 L405.5,100.0 L400.0,100.0 L398.1,102.9 L401.4,114.5ZM357.1,113.6 L356.0,112.0 L354.7,104.9 L346.8,103.0 L342.5,104.1 L338.8,107.4 L352.6,119.1 L357.1,113.6ZM397.1,122.8 L395.4,134.6 L397.0,134.0 L409.4,126.4 L398.1,122.3 L397.1,122.8ZM390.5,136.4 L395.4,134.6 L397.1,122.8 L386.7,119.2 L386.6,119.5 L387.8,134.3 L390.5,136.4ZM336.4,108.2 L338.8,107.4 L342.5,104.1 L339.9,91.4 L333.5,89.3 L333.5,107.9 L336.4,108.2ZM341.5,80.7 L347.1,88.5 L350.3,88.8 L351.3,88.4 L345.2,75.5 L341.5,80.7ZM386.7,119.2 L397.1,122.8 L398.1,122.3 L401.4,114.5 L398.1,102.9 L392.0,112.0 L385.8,117.1 L386.7,119.2ZM410.4,116.4 L401.4,114.5 L398.1,122.3 L409.4,126.4 L410.0,126.0 L412.8,120.9 L410.4,116.4ZM386.7,119.2 L385.8,117.1 L380.0,122.0 L369.8,124.0 L369.2,131.0 L370.1,132.7 L374.8,131.6 L386.6,119.5 L386.7,119.2ZM386.6,119.5 L374.8,131.6 L387.8,134.3 L386.6,119.5ZM387.8,134.3 L374.8,131.6 L370.1,132.7 L368.6,141.2 L370.0,141.4 L384.5,138.6 L390.5,136.4 L387.8,134.3ZM333.5,107.9 L333.5,127.5 L336.2,126.5 L340.1,122.0 L336.4,108.2 L333.5,107.9ZM339.9,91.4 L347.1,88.5 L341.5,80.7 L333.5,82.1 L333.5,89.3 L339.9,91.4ZM343.9,131.6 L336.2,126.5 L333.5,127.5 L333.5,134.3 L340.0,134.3 L343.5,135.5 L343.9,131.6ZM354.7,104.9 L352.0,90.0 L351.3,88.4 L350.3,88.8 L346.8,103.0 L354.7,104.9ZM370.1,132.7 L369.2,131.0 L353.2,125.3 L352.6,126.4 L352.3,138.4 L355.5,139.5 L368.6,141.2 L370.1,132.7ZM339.9,91.4 L342.5,104.1 L346.8,103.0 L350.3,88.8 L347.1,88.5 L339.9,91.4ZM352.0,121.9 L340.1,122.0 L336.2,126.5 L343.9,131.6 L352.6,126.4 L353.2,125.3 L352.0,121.9ZM345.2,75.5 L345.0,75.0 L333.5,70.0 L333.5,82.1 L341.5,80.7 L345.2,75.5ZM412.8,120.9 L418.7,110.1 L412.0,111.0 L410.4,116.4 L412.8,120.9ZM418.7,110.1 L419.0,109.5 L410.0,100.0 L405.5,100.0 L412.0,111.0 L418.7,110.1Z" stroke="#c9e3ee" stroke-width="0.50" fill="none" stroke-linejoin="round"/>
<g class="tl" font-size="2.6"><text x="345.6" y="134.5">Sub</text><text x="401.9" y="107.9">V2L</text><text x="346.1" y="110.7">cp</text><text x="397.1" y="131.2">AcbSh</text><text x="389.3" y="129.5">Ect</text><text x="334.9" y="98.8">PV</text><text x="393.3" y="114.2">ml</text><text x="403.1" y="119.6">GP</text><text x="381.4" y="126.6">mlf</text><text x="375.9" y="138.5">IPN</text><text x="334.7" y="130.6">DI</text><text x="348.3" y="97.5">SNC</text><text x="358.5" y="136.6">AcbC</text><text x="342.2" y="98.2">ic</text><text x="335.9" y="79.1">LV</text><text x="411.5" y="114.7">Str</text><text x="408.9" y="105.8">Pir</text></g>
<path d="M333.5,50.7 C335.1,51.4 340.1,53.9 343.2,55.1 C346.3,56.3 349.4,57.4 352.0,58.0 C354.6,58.6 354.9,58.2 358.5,58.5 C362.1,58.8 369.1,58.5 373.9,59.5 C378.6,60.5 383.2,61.9 387.0,64.5 C390.8,67.1 394.4,70.3 396.5,75.0 C398.6,79.7 399.4,87.0 399.5,92.4 C399.6,97.9 398.2,103.4 397.0,107.7 C395.8,112.0 394.2,114.8 392.0,118.0 C389.8,121.2 385.3,125.5 384.0,127.0" stroke="#bedde9" stroke-width="0.70" fill="none"/>
<path d="M333.5,62.8 C335.4,62.7 341.2,61.9 345.0,62.0 C348.8,62.1 351.5,63.0 356.3,63.3 C361.1,63.6 369.1,62.7 373.9,63.9 C378.6,65.1 381.7,67.5 384.8,70.4 C387.9,73.3 391.0,77.4 392.5,81.4 C394.0,85.4 393.8,90.2 393.6,94.6 C393.4,99.0 392.7,104.0 391.4,107.7 C390.1,111.4 388.2,114.3 386.0,117.0 C383.8,119.7 379.3,122.8 378.0,124.0" stroke="#bedde9" stroke-width="0.60" fill="none"/>
<path d="M349.7,28.8 C349.9,30.7 350.6,35.3 351.0,40.0 C351.4,44.7 351.8,54.2 352.0,57.0" stroke="#bedde9" stroke-width="0.60" fill="none"/>
<path d="M362.9,27.7 C363.1,30.4 363.6,38.9 364.0,44.0 C364.4,49.1 364.9,56.1 365.1,58.5" stroke="#bedde9" stroke-width="0.60" fill="none"/>
<path d="M373.9,28.8 C373.7,31.3 372.9,38.9 372.5,44.0 C372.1,49.1 371.8,56.7 371.7,59.2" stroke="#bedde9" stroke-width="0.60" fill="none"/>
<path d="M402.4,44.1 C400.8,45.6 395.9,50.0 393.0,53.0 C390.1,56.0 386.2,60.5 384.8,62.0" stroke="#bedde9" stroke-width="0.60" fill="none"/>
<path d="M417.7,79.2 C415.9,79.5 410.4,80.3 407.0,81.0 C403.6,81.7 398.7,83.2 397.0,83.6" stroke="#bedde9" stroke-width="0.60" fill="none"/>
<path d="M420.5,100.0 C416.8,100.2 402.2,100.8 398.5,101.0" stroke="#bedde9" stroke-width="0.60" fill="none"/>
<path d="M413.0,118.0 C409.7,117.3 396.3,114.7 393.0,114.0" stroke="#bedde9" stroke-width="0.60" fill="none"/>
<path d="M404.0,129.0 C401.3,127.8 390.7,123.2 388.0,122.0" stroke="#bedde9" stroke-width="0.60" fill="none"/>
<path d="M333.5,38.0 C333.5,42.2 333.5,58.8 333.5,63.0" stroke="#b5daea" stroke-width="1.00" fill="none"/>
<path d="M333.5,80.0 C334.6,80.7 337.9,81.3 340.0,84.0 C342.1,86.7 344.0,92.0 346.0,96.0 C348.0,100.0 350.3,104.0 352.0,108.0 C353.7,112.0 354.3,116.0 356.0,120.0 C357.7,124.0 361.0,130.0 362.0,132.0" stroke="#bedde9" stroke-width="0.60" fill="none"/>
<path d="M333.5,100.0 C335.4,99.7 341.9,97.3 345.0,98.0 C348.1,98.7 350.8,103.0 352.0,104.0" stroke="#bedde9" stroke-width="0.60" fill="none"/>
<path d="M336.0,112.0 C337.5,113.0 342.7,115.0 345.0,118.0 C347.3,121.0 349.5,127.0 350.0,130.0 C350.5,133.0 348.3,135.0 348.0,136.0" stroke="#bedde9" stroke-width="0.60" fill="none"/>
<path d="M383.0,124.0 C383.5,125.3 385.8,129.7 386.0,132.0 C386.2,134.3 384.3,137.0 384.0,138.0" stroke="#bedde9" stroke-width="0.60" fill="none"/>
<path d="M343.0,70.5 C343.3,69.4 346.3,68.0 348.0,67.0 C349.7,66.0 351.3,65.3 353.0,64.5 C354.7,63.7 357.7,61.9 358.2,62.3 C358.7,62.7 356.7,65.2 356.0,67.0 C355.3,68.8 354.6,71.0 354.0,73.0 C353.4,75.0 352.8,77.4 352.5,79.0 C352.2,80.6 352.5,82.8 352.0,82.5 C351.5,82.2 350.5,79.0 349.5,77.5 C348.5,76.0 347.1,74.7 346.0,73.5 C344.9,72.3 342.7,71.6 343.0,70.5Z" fill="#128ed2"/>
<path d="M352.0,82.0 C352.2,83.3 352.8,87.3 353.0,90.0 C353.2,92.7 353.0,96.7 353.0,98.0" stroke="#9fcde4" stroke-width="0.80" fill="none"/>
<text x="330.4" y="88.6" font-size="8.0" textLength="7.6" lengthAdjust="spacingAndGlyphs">LS</text>
<text x="365.0" y="86.0" font-size="8.0" textLength="14.0" lengthAdjust="spacingAndGlyphs">CPu</text>
<circle cx="341.6" cy="80.0" r="2.4" fill="#f0db68" stroke="#000" stroke-opacity="0.12" stroke-width="0.5"/>
<circle cx="342.4" cy="92.0" r="2.4" fill="#ef7552" stroke="#000" stroke-opacity="0.12" stroke-width="0.5"/>
<circle cx="343.6" cy="92.0" r="2.4" fill="#f0db68" stroke="#000" stroke-opacity="0.12" stroke-width="0.5"/>
<circle cx="379.1" cy="92.4" r="2.4" fill="#c2d567" stroke="#000" stroke-opacity="0.12" stroke-width="0.5"/>
<circle cx="371.8" cy="96.0" r="2.4" fill="#f0db68" stroke="#000" stroke-opacity="0.12" stroke-width="0.5"/>
<circle cx="365.6" cy="101.6" r="2.4" fill="#f0db68" stroke="#000" stroke-opacity="0.12" stroke-width="0.5"/>
<circle cx="366.3" cy="103.1" r="2.4" fill="#f0db68" stroke="#000" stroke-opacity="0.12" stroke-width="0.5"/>
<circle cx="374.5" cy="102.0" r="2.4" fill="#f0db68" stroke="#000" stroke-opacity="0.12" stroke-width="0.5"/>
<circle cx="371.4" cy="102.5" r="2.4" fill="#5bb36a" stroke="#000" stroke-opacity="0.12" stroke-width="0.5"/>
<circle cx="371.6" cy="108.5" r="2.4" fill="#c2d567" stroke="#000" stroke-opacity="0.12" stroke-width="0.5"/>
<circle cx="365.4" cy="115.1" r="2.4" fill="#eb5f5b" stroke="#000" stroke-opacity="0.12" stroke-width="0.5"/>
<circle cx="363.5" cy="117.9" r="2.4" fill="#ef7552" stroke="#000" stroke-opacity="0.12" stroke-width="0.5"/>
<circle cx="372.3" cy="120.0" r="2.4" fill="#5bb36a" stroke="#000" stroke-opacity="0.12" stroke-width="0.5"/>
<circle cx="373.6" cy="126.1" r="2.4" fill="#c2d567" stroke="#000" stroke-opacity="0.12" stroke-width="0.5"/>
<circle cx="362.3" cy="131.5" r="2.4" fill="#ef7552" stroke="#000" stroke-opacity="0.12" stroke-width="0.5"/>
<text x="397.6" y="143.0" font-size="8.0" textLength="33.6" lengthAdjust="spacingAndGlyphs">+0.24mm</text>
<path d="M443.0,25.0 C443.7,24.0 445.2,20.8 447.0,19.0 C448.8,17.2 451.5,15.5 454.0,14.5 C456.5,13.5 459.3,13.1 462.0,12.8 C464.7,12.5 467.0,12.4 470.0,12.6 C473.0,12.8 476.7,13.3 480.0,14.0 C483.3,14.7 486.7,15.8 490.0,17.0 C493.3,18.2 497.0,19.8 500.0,21.5 C503.0,23.2 505.3,24.8 508.0,27.0 C510.7,29.2 513.7,32.0 516.0,35.0 C518.3,38.0 520.2,41.7 522.0,45.0 C523.8,48.3 525.7,51.7 527.0,55.0 C528.3,58.3 529.2,61.0 530.0,65.0 C530.8,69.0 531.3,74.5 531.5,79.0 C531.7,83.5 531.2,88.6 531.0,92.0 C530.8,95.4 530.9,96.1 530.0,99.5 C529.1,102.9 527.8,108.0 525.5,112.3 C523.2,116.5 520.0,121.8 516.4,125.0 C512.8,128.2 507.8,130.1 503.6,131.4 C499.4,132.7 495.5,132.8 491.0,132.6 C486.5,132.4 480.6,131.5 476.4,130.5 C472.1,129.5 467.9,127.5 465.5,126.8 C463.1,126.1 464.1,126.4 461.8,126.5 C459.6,126.6 455.0,127.0 452.0,127.2 C449.0,127.4 445.0,127.6 443.6,127.7" stroke="#9fcfe1" stroke-width="1.20" fill="none"/>
<g class="tl" font-size="2.3"><text x="457.7" y="20.9">RSA</text><text x="468.8" y="18.2">MS</text><text x="477.2" y="19.1">f</text><text x="488.1" y="18.2">APT</text><text x="484.4" y="28.7">Rt</text><text x="497.1" y="29.6">SC</text><text x="505.9" y="29.7">IPN</text><text x="443.7" y="38.1">ml</text><text x="454.2" y="36.7">CA3</text><text x="468.4" y="34.9">MG</text><text x="475.6" y="38.0">Rh</text><text x="489.9" y="36.6">AV</text><text x="501.3" y="35.6">RSA</text><text x="509.9" y="36.2">RSA</text><text x="461.4" y="45.0">ICj</text><text x="473.4" y="47.3">SNC</text><text x="485.8" y="44.8">DLG</text><text x="446.5" y="54.1">VLG</text><text x="514.0" y="56.3">V2MM</text><text x="449.6" y="64.8">opt</text><text x="462.5" y="63.7">PAG</text><text x="494.9" y="62.6">LV</text><text x="505.7" y="62.7">PRh</text><text x="455.4" y="73.1">PRh</text><text x="500.9" y="73.5">SC</text><text x="512.3" y="72.1">HDB</text><text x="448.1" y="81.5">AM</text><text x="461.9" y="81.1">PBP</text><text x="505.8" y="79.5">V2L</text><text x="525.2" y="82.7">mt</text><text x="454.6" y="90.0">IC</text><text x="463.2" y="89.2">APT</text><text x="508.3" y="89.0">APT</text><text x="521.4" y="90.2">ICj</text><text x="449.4" y="96.9">Cg1</text><text x="505.1" y="99.8">MD</text><text x="515.6" y="100.3">PBP</text><text x="525.7" y="100.2">LEnt</text><text x="456.5" y="106.2">Tu</text><text x="466.9" y="105.3">PRh</text><text x="475.6" y="107.1">V2MM</text><text x="497.8" y="107.6">CM</text><text x="511.2" y="108.8">DI</text><text x="519.8" y="107.3">MEnt</text><text x="449.8" y="115.4">PV</text><text x="461.2" y="114.0">S2</text><text x="475.3" y="116.2">RMC</text><text x="506.6" y="116.7">MEnt</text><text x="517.6" y="117.0">Cg1</text><text x="445.4" y="126.4">V1</text><text x="466.4" y="124.5">AcbC</text><text x="489.4" y="125.5">RMC</text><text x="501.2" y="126.8">AcbC</text><text x="508.8" y="123.3">AID</text></g>
<path d="M476.5,119.7 L476.4,116.6 L468.2,112.3 L463.8,113.0 L457.9,126.8 L462.0,126.5 L471.8,129.3 L476.5,119.7ZM463.8,113.0 L458.8,107.7 L446.8,109.5 L456.7,126.8 L457.9,126.8 L463.8,113.0ZM471.8,129.3 L476.0,130.5 L489.1,132.3 L487.8,126.2 L476.5,119.7 L471.8,129.3ZM517.8,110.5 L522.6,115.4 L525.0,112.0 L518.4,108.5 L517.8,110.5ZM504.6,123.0 L514.5,125.7 L516.0,125.0 L517.0,123.6 L513.3,114.4 L510.3,114.1 L508.4,115.1 L504.6,123.0ZM468.2,112.3 L476.4,116.6 L478.6,114.9 L480.7,107.8 L480.0,108.0 L470.6,106.1 L468.2,112.3ZM487.8,126.2 L490.9,117.2 L489.4,116.0 L478.6,114.9 L476.4,116.6 L476.5,119.7 L487.8,126.2ZM501.9,124.2 L495.9,116.5 L490.9,117.2 L487.8,126.2 L489.1,132.3 L491.0,132.6 L499.4,131.5 L501.9,124.2ZM488.3,105.8 L480.7,107.8 L478.6,114.9 L489.4,116.0 L488.3,105.8ZM517.8,110.5 L513.3,114.4 L517.0,123.6 L522.6,115.4 L517.8,110.5ZM446.8,109.5 L458.8,107.7 L460.1,100.6 L456.2,96.4 L443.0,102.1 L443.0,108.1 L446.8,109.5ZM455.8,91.8 L462.1,85.2 L460.0,80.0 L446.0,80.0 L444.9,87.7 L455.8,91.8ZM501.9,124.2 L499.4,131.5 L503.0,131.0 L514.5,125.7 L504.6,123.0 L501.9,124.2ZM513.3,114.4 L517.8,110.5 L518.4,108.5 L510.0,104.0 L506.7,104.0 L510.3,114.1 L513.3,114.4ZM501.9,112.7 L508.4,115.1 L510.3,114.1 L506.7,104.0 L503.1,104.0 L501.9,112.7ZM446.8,109.5 L443.0,108.1 L443.0,127.7 L456.7,126.8 L446.8,109.5ZM455.8,91.8 L456.2,96.4 L460.1,100.6 L467.1,98.0 L466.0,95.0 L462.1,85.2 L455.8,91.8ZM456.2,96.4 L455.8,91.8 L444.9,87.7 L443.0,100.0 L443.0,102.1 L456.2,96.4ZM501.9,112.7 L503.1,104.0 L495.2,104.0 L496.3,115.7 L501.9,112.7ZM495.9,116.5 L496.3,115.7 L495.2,104.0 L495.0,104.0 L488.3,105.8 L489.4,116.0 L490.9,117.2 L495.9,116.5ZM501.9,124.2 L504.6,123.0 L508.4,115.1 L501.9,112.7 L496.3,115.7 L495.9,116.5 L501.9,124.2ZM460.1,100.6 L458.8,107.7 L463.8,113.0 L468.2,112.3 L470.6,106.1 L470.0,106.0 L467.1,98.0 L460.1,100.6Z" stroke="#c9e3ee" stroke-width="0.50" fill="none" stroke-linejoin="round"/>
<g class="tl" font-size="2.6"><text x="464.7" y="124.1">ZI</text><text x="454.3" y="120.9">opt</text><text x="476.0" y="123.9">VPM</text><text x="518.5" y="112.2">MEnt</text><text x="508.3" y="120.0">PAG</text><text x="472.1" y="111.1">V2L</text><text x="483.1" y="123.9">PV</text><text x="492.4" y="126.2">RSG</text><text x="515.1" y="120.5">cp</text><text x="448.7" y="105.9">AM</text><text x="450.5" y="87.4">LSI</text><text x="502.1" y="129.3">RMC</text><text x="510.9" y="110.5">V2L</text><text x="502.9" y="109.4">S1FL</text><text x="444.9" y="119.2">DLG</text><text x="458.2" y="94.4">PAG</text><text x="489.8" y="111.8">V1</text><text x="499.8" y="120.7">V2L</text></g>
<path d="M443.0,46.4 C445.1,45.3 451.1,41.6 455.9,40.0 C460.7,38.4 465.9,36.8 471.8,36.8 C477.7,36.8 484.6,37.3 491.0,40.0 C497.4,42.7 504.7,47.5 510.0,52.8 C515.3,58.1 520.1,65.0 522.8,71.9 C525.5,78.8 526.1,88.2 526.0,94.2 C525.9,100.2 524.0,104.0 522.0,108.0 C520.0,112.0 515.3,116.3 514.0,118.0" stroke="#bedde9" stroke-width="0.70" fill="none"/>
<path d="M452.7,52.8 C454.2,51.9 458.8,48.8 462.0,47.5 C465.2,46.2 466.4,44.4 471.8,44.8 C477.2,45.1 487.7,46.1 494.1,49.6 C500.5,53.1 506.3,59.7 510.0,65.5 C513.7,71.3 515.6,78.8 516.4,84.6 C517.2,90.4 516.2,95.9 514.8,100.5 C513.4,105.1 509.1,110.1 508.0,112.0" stroke="#bedde9" stroke-width="0.60" fill="none"/>
<path d="M476.0,50.5 C478.3,51.1 485.9,52.3 490.0,54.0 C494.1,55.7 497.7,56.7 500.5,60.7 C503.3,64.7 506.1,72.1 506.9,78.2 C507.7,84.3 506.4,92.4 505.3,97.4 C504.2,102.4 502.6,105.2 500.0,108.0 C497.4,110.8 491.7,113.0 490.0,114.0" stroke="#bedde9" stroke-width="0.60" fill="none"/>
<path d="M470.0,70.0 C472.3,67.7 477.2,66.7 480.0,68.0 C482.8,69.3 485.7,74.0 487.0,78.0 C488.3,82.0 488.5,88.0 488.0,92.0 C487.5,96.0 486.0,100.0 484.0,102.0 C482.0,104.0 478.5,105.0 476.0,104.0 C473.5,103.0 470.7,99.7 469.0,96.0 C467.3,92.3 465.8,86.3 466.0,82.0 C466.2,77.7 467.7,72.3 470.0,70.0Z" stroke="#bedde9" stroke-width="0.60" fill="none"/>
<path d="M452.7,17.7 C453.2,21.4 455.4,36.3 455.9,40.0" stroke="#bedde9" stroke-width="0.60" fill="none"/>
<path d="M471.8,13.0 C471.8,17.0 471.8,32.8 471.8,36.8" stroke="#bedde9" stroke-width="0.60" fill="none"/>
<path d="M491.0,17.0 C491.0,20.8 491.0,36.2 491.0,40.0" stroke="#bedde9" stroke-width="0.60" fill="none"/>
<path d="M510.0,26.0 C509.0,29.7 505.0,44.3 504.0,48.0" stroke="#bedde9" stroke-width="0.60" fill="none"/>
<path d="M525.0,42.0 C523.2,44.7 515.8,55.3 514.0,58.0" stroke="#bedde9" stroke-width="0.60" fill="none"/>
<path d="M531.0,62.0 C529.4,63.0 523.1,67.0 521.5,68.0" stroke="#bedde9" stroke-width="0.60" fill="none"/>
<path d="M533.0,85.0 C531.8,85.2 526.8,85.8 525.5,86.0" stroke="#bedde9" stroke-width="0.60" fill="none"/>
<path d="M530.0,101.0 C528.8,101.0 524.2,101.0 523.0,101.0" stroke="#bedde9" stroke-width="0.60" fill="none"/>
<path d="M522.0,116.0 C520.7,115.3 515.3,112.7 514.0,112.0" stroke="#bedde9" stroke-width="0.60" fill="none"/>
<path d="M510.0,56.0 C508.3,57.0 501.7,61.0 500.0,62.0" stroke="#bedde9" stroke-width="0.60" fill="none"/>
<path d="M518.0,80.0 C516.2,80.0 508.8,80.0 507.0,80.0" stroke="#bedde9" stroke-width="0.60" fill="none"/>
<path d="M446.0,82.0 C447.0,83.3 450.0,86.3 452.0,90.0 C454.0,93.7 456.3,99.3 458.0,104.0 C459.7,108.7 460.7,114.3 462.0,118.0 C463.3,121.7 465.3,124.7 466.0,126.0" stroke="#bedde9" stroke-width="0.60" fill="none"/>
<path d="M470.0,108.0 C471.7,109.0 476.0,112.3 480.0,114.0 C484.0,115.7 489.7,117.7 494.0,118.0 C498.3,118.3 504.0,116.3 506.0,116.0" stroke="#bedde9" stroke-width="0.60" fill="none"/>
<path d="M452.7,54.1 C452.9,52.8 456.1,51.4 457.8,50.3 C459.5,49.2 461.0,48.2 462.9,47.7 C464.8,47.2 467.3,47.2 469.3,47.5 C471.3,47.8 474.1,48.6 475.0,49.6 C475.9,50.6 474.8,52.0 474.4,53.5 C474.0,55.0 472.9,56.7 472.4,58.5 C471.9,60.3 472.4,63.5 471.6,64.3 C470.8,65.0 469.1,63.5 467.4,63.0 C465.7,62.5 463.4,62.0 461.6,61.1 C459.8,60.2 458.0,59.1 456.5,57.9 C455.0,56.7 452.5,55.4 452.7,54.1Z" fill="#128ed2"/>
<polygon points="471.8,63.5 469.3,67.4 465.4,70.0 459.1,71.1 450.2,71.2 443.0,71.0 443.0,100.5 444.0,100.5 444.6,92.0 445.3,85.0 446.3,81.2 448.5,79.3 452.2,78.3 459.9,77.6 464.0,76.2 467.6,74.0 470.5,69.6 472.6,65.0" fill="#128ed2"/>
<text x="488.3" y="82.2" font-size="8.0" textLength="13.9" lengthAdjust="spacingAndGlyphs">CPu</text>
<text x="473.3" y="89.1" font-size="8.0" textLength="14.4" lengthAdjust="spacingAndGlyphs">GPe</text>
<circle cx="473.3" cy="65.5" r="2.4" fill="#f0db68" stroke="#000" stroke-opacity="0.12" stroke-width="0.5"/>
<circle cx="476.6" cy="64.6" r="2.4" fill="#f39e5e" stroke="#000" stroke-opacity="0.12" stroke-width="0.5"/>
<circle cx="474.1" cy="66.8" r="2.4" fill="#f0db68" stroke="#000" stroke-opacity="0.12" stroke-width="0.5"/>
<circle cx="487.1" cy="71.0" r="2.4" fill="#f0db68" stroke="#000" stroke-opacity="0.12" stroke-width="0.5"/>
<circle cx="488.5" cy="71.6" r="2.4" fill="#f0db68" stroke="#000" stroke-opacity="0.12" stroke-width="0.5"/>
<circle cx="481.0" cy="74.4" r="2.4" fill="#f0db68" stroke="#000" stroke-opacity="0.12" stroke-width="0.5"/>
<circle cx="482.4" cy="92.3" r="2.4" fill="#f0db68" stroke="#000" stroke-opacity="0.12" stroke-width="0.5"/>
<circle cx="473.1" cy="96.4" r="2.4" fill="#ef7552" stroke="#000" stroke-opacity="0.12" stroke-width="0.5"/>
<circle cx="447.8" cy="100.5" r="2.4" fill="#eb5f5b" stroke="#000" stroke-opacity="0.12" stroke-width="0.5"/>
<circle cx="452.4" cy="121.0" r="2.4" fill="#eb5f5b" stroke="#000" stroke-opacity="0.12" stroke-width="0.5"/>
<circle cx="458.2" cy="121.0" r="2.4" fill="#f39e5e" stroke="#000" stroke-opacity="0.12" stroke-width="0.5"/>
<path d="M445.5,133.0L447.6,119.4" stroke="#111" stroke-width="1.70"/>
<polygon points="448.3,115.0 449.8,120.3 445.3,119.6" fill="#111"/>
<text x="442.7" y="141.4" font-size="8.0" textLength="52.2" lengthAdjust="spacingAndGlyphs">Hypothalamus</text>
<text x="505.1" y="143.6" font-size="8.0" textLength="31.6" lengthAdjust="spacingAndGlyphs">-0.96mm</text>
<rect x="16.4" y="159.4" width="101.6" height="136.9" fill="#fff"/>
<path d="M16.4,159.4V296.3M29.0,159.4V296.3M41.6,159.4V296.3M54.2,159.4V296.3M66.8,159.4V296.3M79.4,159.4V296.3M92.0,159.4V296.3M104.6,159.4V296.3M16.4,171.9H118.0M16.4,184.4H118.0M16.4,196.9H118.0M16.4,209.4H118.0M16.4,221.9H118.0M16.4,234.4H118.0M16.4,246.9H118.0M16.4,259.4H118.0M16.4,271.9H118.0M16.4,284.4H118.0" stroke="#ebebeb" stroke-width="0.8" fill="none"/>
<rect x="128.0" y="159.4" width="99.5" height="136.9" fill="#fff"/>
<path d="M128.0,159.4V296.3M140.5,159.4V296.3M153.0,159.4V296.3M165.5,159.4V296.3M178.0,159.4V296.3M190.5,159.4V296.3M203.0,159.4V296.3M215.5,159.4V296.3M128.0,171.8H227.5M128.0,184.2H227.5M128.0,196.6H227.5M128.0,209.0H227.5M128.0,221.4H227.5M128.0,233.8H227.5M128.0,246.2H227.5M128.0,258.6H227.5M128.0,271.0H227.5M128.0,283.4H227.5" stroke="#ebebeb" stroke-width="0.8" fill="none"/>
<rect x="239.5" y="159.4" width="100.7" height="136.9" fill="#fff"/>
<path d="M239.5,159.4V296.3M252.0,159.4V296.3M264.5,159.4V296.3M277.0,159.4V296.3M289.5,159.4V296.3M302.0,159.4V296.3M314.5,159.4V296.3M327.0,159.4V296.3M239.5,171.9H340.2M239.5,184.4H340.2M239.5,196.9H340.2M239.5,209.4H340.2M239.5,221.9H340.2M239.5,234.4H340.2M239.5,246.9H340.2M239.5,259.4H340.2M239.5,271.9H340.2M239.5,284.4H340.2" stroke="#ebebeb" stroke-width="0.8" fill="none"/>
<rect x="350.8" y="159.4" width="99.4" height="136.9" fill="#fff"/>
<path d="M350.8,159.4V296.3M363.2,159.4V296.3M375.5,159.4V296.3M387.9,159.4V296.3M400.2,159.4V296.3M412.6,159.4V296.3M425.0,159.4V296.3M437.3,159.4V296.3M350.8,172.1H450.2M350.8,184.8H450.2M350.8,197.5H450.2M350.8,210.2H450.2M350.8,222.9H450.2M350.8,235.6H450.2M350.8,248.3H450.2M350.8,261.0H450.2M350.8,273.7H450.2M350.8,286.4H450.2" stroke="#ebebeb" stroke-width="0.8" fill="none"/>
<path d="M16.4,172.7 C16.8,172.2 17.9,170.2 19.0,169.5 C20.1,168.8 20.2,168.7 22.7,168.2 C25.2,167.7 30.2,166.9 34.0,166.5 C37.8,166.1 41.7,165.8 45.5,166.0 C49.3,166.2 53.2,167.1 57.0,168.0 C60.8,168.9 64.5,170.1 68.0,171.6 C71.5,173.1 74.9,174.9 78.0,177.0 C81.1,179.1 83.7,181.3 86.4,184.0 C89.1,186.7 91.7,189.6 94.0,193.0 C96.3,196.4 98.4,201.0 100.0,204.5 C101.6,208.0 102.5,210.6 103.5,214.0 C104.5,217.4 105.2,220.7 105.7,225.0 C106.2,229.3 106.4,236.2 106.2,240.0 C106.0,243.8 105.1,245.6 104.5,248.0 C103.9,250.4 103.9,251.3 102.7,254.5 C101.5,257.7 99.7,263.7 97.3,267.3 C94.9,270.9 91.5,274.0 88.2,276.4 C84.9,278.8 81.2,280.6 77.3,281.8 C73.3,283.0 69.7,283.3 64.5,283.6 C59.4,283.9 51.9,283.8 46.4,283.6 C40.9,283.5 36.8,283.1 31.8,282.7 C26.8,282.3 19.0,281.3 16.4,281.0" stroke="#9fcfe1" stroke-width="1.20" fill="none"/>
<g class="tl" font-size="2.3"><text x="21.2" y="172.5">Cg1</text><text x="42.8" y="171.9">V2MM</text><text x="54.1" y="173.5">opt</text><text x="25.7" y="180.8">CA3</text><text x="34.5" y="179.8">VLG</text><text x="47.0" y="179.8">Rt</text><text x="58.1" y="183.1">ic</text><text x="67.8" y="182.0">GP</text><text x="18.3" y="190.3">Ect</text><text x="27.0" y="189.0">Tu</text><text x="49.9" y="189.0">IPN</text><text x="61.0" y="190.9">IC</text><text x="71.3" y="189.8">V2MM</text><text x="81.0" y="189.9">fr</text><text x="26.0" y="198.8">Pn</text><text x="36.7" y="199.1">APT</text><text x="48.3" y="197.8">S1BF</text><text x="57.5" y="200.1">M1</text><text x="78.3" y="199.0">Sub</text><text x="18.4" y="206.4">SNC</text><text x="30.0" y="207.7">MS</text><text x="42.4" y="209.5">CM</text><text x="83.2" y="208.2">IC</text><text x="20.9" y="218.4">RMC</text><text x="34.4" y="217.8">VP</text><text x="44.0" y="215.0">ICj</text><text x="75.4" y="216.5">LSI</text><text x="88.7" y="217.4">Pir</text><text x="97.8" y="217.1">S1BF</text><text x="28.4" y="227.1">S1J</text><text x="40.4" y="224.5">LSI</text><text x="84.4" y="224.9">CA1</text><text x="96.9" y="226.0">LV</text><text x="37.1" y="235.2">S1FL</text><text x="46.5" y="232.5">AID</text><text x="89.9" y="235.2">mlf</text><text x="20.3" y="241.5">ml</text><text x="32.4" y="243.2">st</text><text x="97.2" y="241.5">M2</text><text x="23.1" y="250.3">cc</text><text x="33.8" y="252.2">Po</text><text x="45.2" y="250.7">MEnt</text><text x="53.4" y="250.1">AcbSh</text><text x="64.7" y="252.4">AID</text><text x="98.8" y="252.6">LD</text><text x="18.7" y="261.7">VPL</text><text x="27.4" y="258.7">IPN</text><text x="40.4" y="259.0">LV</text><text x="49.7" y="261.4">S1</text><text x="60.7" y="261.4">AcbC</text><text x="71.7" y="258.7">V2MM</text><text x="81.3" y="261.9">PV</text><text x="94.8" y="259.5">f</text><text x="24.0" y="269.7">V1</text><text x="36.3" y="268.4">LV</text><text x="67.6" y="267.9">V2L</text><text x="78.5" y="270.9">f</text><text x="21.9" y="279.6">CA3</text><text x="30.7" y="277.3">SC</text><text x="41.3" y="279.3">APT</text><text x="62.8" y="277.7">ICj</text><text x="75.5" y="280.0">V2MM</text></g>
<path d="M63.7,273.2 L55.6,283.0 L55.6,283.6 L64.5,283.6 L72.7,282.4 L77.1,275.8 L72.5,270.1 L63.7,273.2ZM16.4,269.4 L16.4,281.0 L24.3,281.9 L24.6,279.6 L16.8,269.4 L16.4,269.4ZM89.7,269.5 L75.8,264.7 L72.5,270.1 L77.1,275.8 L84.6,277.8 L88.0,276.0 L90.3,270.1 L89.7,269.5ZM24.6,279.6 L24.3,281.9 L31.8,282.7 L37.4,283.0 L32.8,275.5 L24.6,279.6ZM75.8,264.7 L75.3,262.0 L62.5,262.0 L63.7,273.2 L72.5,270.1 L75.8,264.7ZM29.8,248.6 L29.9,248.9 L39.0,260.2 L44.7,253.4 L42.0,250.0 L42.0,245.8 L29.8,248.6ZM29.7,248.5 L28.8,241.3 L16.4,234.0 L16.4,250.2 L29.7,248.5ZM25.8,262.3 L25.2,262.7 L22.8,266.0 L33.3,274.0 L33.9,273.4 L36.8,263.1 L25.8,262.3ZM28.8,241.3 L33.7,235.8 L33.6,235.5 L24.5,225.4 L16.4,228.0 L16.4,234.0 L28.8,241.3ZM33.7,235.8 L28.8,241.3 L29.7,248.5 L29.8,248.6 L42.0,245.8 L42.0,238.7 L33.7,235.8ZM22.8,266.0 L16.8,269.4 L24.6,279.6 L32.8,275.5 L33.3,274.0 L22.8,266.0ZM25.2,262.7 L25.8,262.3 L29.9,248.9 L29.8,248.6 L29.7,248.5 L16.4,250.2 L16.4,250.4 L25.2,262.7ZM33.9,273.4 L50.3,274.2 L49.0,269.2 L38.7,261.9 L36.8,263.1 L33.9,273.4ZM33.6,235.5 L33.7,235.8 L42.0,238.7 L42.0,232.0 L38.3,226.7 L33.6,235.5ZM55.6,283.0 L63.7,273.2 L62.5,262.0 L62.0,262.0 L53.6,260.6 L49.0,269.2 L50.3,274.2 L55.6,283.0ZM29.9,248.9 L25.8,262.3 L36.8,263.1 L38.7,261.9 L39.0,260.2 L29.9,248.9ZM38.7,261.9 L49.0,269.2 L53.6,260.6 L50.0,260.0 L44.7,253.4 L39.0,260.2 L38.7,261.9ZM33.3,274.0 L32.8,275.5 L37.4,283.0 L46.4,283.6 L55.6,283.6 L55.6,283.0 L50.3,274.2 L33.9,273.4 L33.3,274.0ZM77.1,275.8 L72.7,282.4 L77.0,281.8 L84.6,277.8 L77.1,275.8ZM16.8,269.4 L22.8,266.0 L25.2,262.7 L16.4,250.4 L16.4,269.4 L16.8,269.4ZM33.6,235.5 L38.3,226.7 L35.0,222.0 L24.5,225.4 L33.6,235.5ZM90.3,270.1 L95.0,258.0 L88.0,259.9 L89.7,269.5 L90.3,270.1ZM89.7,269.5 L88.0,259.9 L80.0,262.0 L75.3,262.0 L75.8,264.7 L89.7,269.5Z" stroke="#c9e3ee" stroke-width="0.50" fill="none" stroke-linejoin="round"/>
<g class="tl" font-size="2.6"><text x="64.3" y="280.1">AID</text><text x="16.0" y="275.5">IPN</text><text x="79.5" y="274.0">MG</text><text x="66.1" y="268.4">M1</text><text x="35.3" y="252.7">V2MM</text><text x="20.3" y="245.9">IPN</text><text x="28.8" y="270.7">mlf</text><text x="20.5" y="232.0">AM</text><text x="33.0" y="244.6">CM</text><text x="21.9" y="272.7">V2MM</text><text x="21.7" y="257.3">MS</text><text x="37.8" y="267.2">LPO</text><text x="35.8" y="234.7">V2MM</text><text x="54.0" y="272.2">MnR</text><text x="28.8" y="255.5">V2MM</text><text x="43.5" y="262.3">GI</text><text x="75.1" y="280.8">CA1</text><text x="30.3" y="232.1">RMC</text></g>
<path d="M16.4,192.0 C18.0,191.7 22.4,190.5 26.0,190.0 C29.6,189.5 33.7,189.0 38.0,189.0 C42.3,189.0 47.3,189.3 52.0,190.0 C56.7,190.7 61.7,191.3 66.0,193.0 C70.3,194.7 74.3,197.0 78.0,200.0 C81.7,203.0 85.3,207.0 88.0,211.0 C90.7,215.0 92.7,219.5 94.0,224.0 C95.3,228.5 96.0,233.3 96.0,238.0 C96.0,242.7 95.3,247.7 94.0,252.0 C92.7,256.3 90.7,260.3 88.0,264.0 C85.3,267.7 79.7,272.3 78.0,274.0" stroke="#bedde9" stroke-width="0.70" fill="none"/>
<path d="M16.4,196.0 C18.7,195.7 25.1,194.3 30.0,194.0 C34.9,193.7 41.0,193.7 46.0,194.0 C51.0,194.3 55.7,194.7 60.0,196.0 C64.3,197.3 68.3,199.3 72.0,202.0 C75.7,204.7 79.3,208.0 82.0,212.0 C84.7,216.0 86.7,221.3 88.0,226.0 C89.3,230.7 89.7,237.7 90.0,240.0" stroke="#bedde9" stroke-width="0.60" fill="none"/>
<path d="M51.8,218.6 C53.9,217.4 56.9,214.4 59.0,216.8 C61.1,219.2 63.9,227.4 64.5,233.2 C65.1,239.0 64.2,247.2 62.7,251.4 C61.2,255.6 58.2,257.7 55.5,258.6 C52.8,259.5 48.5,258.6 46.4,256.8 C44.3,255.0 43.2,251.6 42.7,247.7 C42.2,243.8 43.0,237.1 43.6,233.2 C44.2,229.2 45.0,226.4 46.4,224.0 C47.8,221.6 49.7,219.8 51.8,218.6Z" stroke="#bedde9" stroke-width="0.60" fill="none"/>
<path d="M70.0,215.0 C72.1,217.4 80.3,224.7 82.7,229.5 C85.1,234.3 85.1,239.4 84.5,244.0 C83.9,248.6 81.4,253.8 79.0,256.8 C76.6,259.8 71.5,261.1 70.0,262.0" stroke="#bedde9" stroke-width="0.60" fill="none"/>
<path d="M22.7,168.2 C23.2,171.8 25.4,186.4 26.0,190.0" stroke="#bedde9" stroke-width="0.60" fill="none"/>
<path d="M45.5,166.0 C44.9,169.8 42.6,185.2 42.0,189.0" stroke="#bedde9" stroke-width="0.60" fill="none"/>
<path d="M68.0,171.6 C67.0,175.0 63.0,188.6 62.0,192.0" stroke="#bedde9" stroke-width="0.60" fill="none"/>
<path d="M86.4,184.0 C84.3,186.3 76.1,195.7 74.0,198.0" stroke="#bedde9" stroke-width="0.60" fill="none"/>
<path d="M100.0,204.5 C97.5,205.1 87.5,207.4 85.0,208.0" stroke="#bedde9" stroke-width="0.60" fill="none"/>
<path d="M105.7,225.0 C103.6,224.5 95.1,222.5 93.0,222.0" stroke="#bedde9" stroke-width="0.60" fill="none"/>
<path d="M106.0,240.0 C104.3,239.7 97.7,238.3 96.0,238.0" stroke="#bedde9" stroke-width="0.60" fill="none"/>
<path d="M102.7,254.5 C101.2,254.1 95.5,252.4 94.0,252.0" stroke="#bedde9" stroke-width="0.60" fill="none"/>
<path d="M97.0,267.0 C95.5,266.5 89.5,264.5 88.0,264.0" stroke="#bedde9" stroke-width="0.60" fill="none"/>
<path d="M16.4,232.0 C17.7,232.7 21.7,233.3 24.0,236.0 C26.3,238.7 28.3,243.7 30.0,248.0 C31.7,252.3 32.3,257.3 34.0,262.0 C35.7,266.7 38.0,272.4 40.0,276.0 C42.0,279.6 45.0,282.3 46.0,283.6" stroke="#bedde9" stroke-width="0.60" fill="none"/>
<path d="M26.0,262.0 C28.0,261.7 33.7,259.3 38.0,260.0 C42.3,260.7 48.0,263.3 52.0,266.0 C56.0,268.7 60.3,274.3 62.0,276.0" stroke="#bedde9" stroke-width="0.60" fill="none"/>
<path d="M100.9,240.0 C100.4,242.0 98.9,249.0 98.0,252.0 C97.1,255.0 97.2,255.3 95.5,258.0 C93.8,260.7 91.7,264.9 88.0,268.0 C84.3,271.1 76.0,275.0 73.6,276.4" stroke="#bedde9" stroke-width="0.60" fill="none"/>
<path d="M30.4,204.8 C30.8,203.8 33.1,201.9 34.8,201.0 C36.4,200.1 38.3,199.5 40.3,199.3 C42.3,199.1 44.7,199.4 46.9,199.9 C49.1,200.4 52.0,201.4 53.5,202.1 C55.0,202.8 55.9,203.4 56.2,204.3 C56.5,205.2 55.6,206.2 55.1,207.5 C54.6,208.8 53.7,210.5 53.5,211.9 C53.3,213.3 54.4,215.3 54.0,215.8 C53.6,216.3 52.7,215.4 51.3,214.7 C49.9,214.0 48.0,212.4 45.8,211.4 C43.6,210.4 40.3,209.3 38.1,208.6 C35.9,207.9 33.9,207.6 32.6,207.0 C31.3,206.4 30.0,205.8 30.4,204.8Z" fill="#128ed2"/>
<polygon points="16.4,219.0 20.6,218.3 27.2,218.5 33.7,219.6 28.3,220.7 23.9,221.8 20.0,225.1 17.8,226.7 16.4,226.7" fill="#128ed2"/>
<rect x="16.4" y="252" width="1.4" height="26" fill="#8cc6e6"/>
<text x="66.4" y="232.0" font-size="8.0" textLength="13.6" lengthAdjust="spacingAndGlyphs">CPu</text>
<text x="54.5" y="243.1" font-size="8.0" textLength="15.5" lengthAdjust="spacingAndGlyphs">GPe</text>
<circle cx="54.4" cy="225.1" r="2.4" fill="#f0db68" stroke="#000" stroke-opacity="0.12" stroke-width="0.5"/>
<circle cx="45.6" cy="238.4" r="2.4" fill="#f0db68" stroke="#000" stroke-opacity="0.12" stroke-width="0.5"/>
<circle cx="49.1" cy="247.3" r="2.4" fill="#f39e5e" stroke="#000" stroke-opacity="0.12" stroke-width="0.5"/>
<circle cx="54.9" cy="249.1" r="2.4" fill="#eb5f5b" stroke="#000" stroke-opacity="0.12" stroke-width="0.5"/>
<circle cx="35.1" cy="271.5" r="2.4" fill="#eb5f5b" stroke="#000" stroke-opacity="0.12" stroke-width="0.5"/>
<path d="M22.7,285.5L25.1,274.6" stroke="#111" stroke-width="1.70"/>
<polygon points="26.0,270.2 27.2,275.6 22.7,274.6" fill="#111"/>
<text x="18.2" y="294.2" font-size="8.0" textLength="52.7" lengthAdjust="spacingAndGlyphs">Hypothalamus</text>
<text x="81.8" y="294.2" font-size="8.0" textLength="31.8" lengthAdjust="spacingAndGlyphs">-1.44mm</text>
<path d="M128.0,175.0 C128.5,174.2 129.8,171.7 131.0,170.5 C132.2,169.3 132.8,168.8 135.5,168.0 C138.2,167.2 142.8,166.0 147.0,165.5 C151.2,165.0 155.8,164.6 160.5,164.8 C165.2,165.0 170.1,165.4 175.0,166.5 C179.9,167.6 186.2,169.7 190.0,171.6 C193.8,173.5 195.3,175.5 198.0,178.0 C200.7,180.5 203.7,183.4 206.0,186.4 C208.3,189.4 210.1,192.6 212.0,196.0 C213.9,199.4 215.9,202.6 217.3,206.8 C218.7,211.1 220.2,216.2 220.6,221.5 C221.0,226.8 220.2,233.7 219.5,238.7 C218.8,243.7 217.7,247.6 216.3,251.5 C214.9,255.4 213.2,259.1 210.9,262.3 C208.6,265.5 205.5,268.6 202.3,270.9 C199.1,273.2 195.5,274.8 191.6,276.2 C187.7,277.6 182.6,278.6 178.7,279.5 C174.8,280.4 171.6,281.1 168.0,281.6 C164.4,282.1 160.8,282.5 157.2,282.7 C153.6,282.9 150.1,282.9 146.5,282.7 C142.9,282.5 138.8,282.0 135.7,281.6 C132.6,281.2 129.3,280.7 128.0,280.5" stroke="#9fcfe1" stroke-width="1.20" fill="none"/>
<g class="tl" font-size="2.3"><text x="138.7" y="171.5">AcbSh</text><text x="153.1" y="170.3">PBP</text><text x="160.7" y="169.8">st</text><text x="171.9" y="170.3">AcbSh</text><text x="136.1" y="178.9">VLG</text><text x="144.6" y="178.6">st</text><text x="155.1" y="179.0">RMC</text><text x="178.3" y="179.2">CA1</text><text x="188.2" y="179.4">PAG</text><text x="130.9" y="187.6">ac</text><text x="142.7" y="187.3">ml</text><text x="151.2" y="188.4">RSG</text><text x="161.1" y="187.4">LSI</text><text x="172.1" y="189.8">S1BF</text><text x="184.0" y="188.5">M1</text><text x="197.6" y="188.4">Str</text><text x="136.7" y="196.1">mt</text><text x="145.3" y="196.3">mt</text><text x="156.3" y="197.5">Pn</text><text x="170.1" y="196.4">LD</text><text x="188.9" y="196.9">opt</text><text x="142.8" y="208.1">fr</text><text x="152.3" y="206.2">MG</text><text x="162.0" y="204.9">MS</text><text x="173.2" y="207.0">st</text><text x="184.3" y="205.0">S1</text><text x="195.0" y="205.4">VLG</text><text x="206.7" y="206.0">GI</text><text x="137.7" y="214.6">PAG</text><text x="149.8" y="215.3">Sub</text><text x="157.9" y="217.2">ICj</text><text x="203.2" y="214.3">GP</text><text x="144.3" y="223.1">PnO</text><text x="155.3" y="226.2">V2L</text><text x="197.2" y="223.0">AV</text><text x="211.3" y="224.6">MnR</text><text x="138.0" y="234.1">V1</text><text x="149.0" y="232.7">IG</text><text x="159.6" y="234.9">MG</text><text x="212.0" y="233.2">S2</text><text x="142.6" y="240.6">MEnt</text><text x="152.3" y="242.9">f</text><text x="205.4" y="241.6">Cg1</text><text x="134.6" y="249.1">Sub</text><text x="145.2" y="250.5">sm</text><text x="154.4" y="249.4">cc</text><text x="167.2" y="250.8">LSI</text><text x="138.7" y="257.9">VP</text><text x="151.8" y="259.1">SNR</text><text x="163.3" y="261.0">SC</text><text x="183.0" y="261.2">V2MM</text><text x="193.8" y="260.1">S1FL</text><text x="208.1" y="259.0">PnO</text><text x="133.8" y="268.0">IPN</text><text x="154.0" y="269.9">S2</text><text x="199.2" y="268.3">Str</text><text x="129.0" y="276.7">M1</text><text x="139.8" y="278.2">Po</text><text x="148.5" y="278.5">PAG</text><text x="172.7" y="275.2">AID</text><text x="185.1" y="276.0">SNC</text></g>
<path d="M141.8,253.0 L147.5,264.4 L149.6,264.9 L152.3,248.4 L145.9,248.5 L141.8,253.0ZM162.3,226.5 L161.6,241.7 L164.1,247.1 L165.1,247.6 L166.0,230.0 L168.6,223.2 L162.3,226.5ZM154.7,231.4 L160.6,226.7 L153.1,222.3 L145.0,227.7 L145.9,229.5 L154.7,231.4ZM175.0,272.8 L171.0,272.1 L165.0,277.1 L163.7,282.0 L168.0,281.6 L178.3,279.6 L175.0,272.8ZM153.1,222.3 L160.6,226.7 L162.3,226.5 L168.6,223.2 L172.0,214.0 L165.0,215.0 L151.8,217.6 L153.1,222.3ZM137.2,240.3 L132.7,248.2 L137.7,252.6 L141.8,253.0 L145.9,248.5 L139.6,240.2 L137.2,240.3ZM134.2,236.8 L137.2,240.3 L139.6,240.2 L144.5,237.0 L145.9,229.5 L145.0,227.7 L137.1,221.5 L135.6,221.9 L134.2,236.8ZM145.9,248.5 L152.3,248.4 L152.9,247.9 L149.7,239.2 L144.5,237.0 L139.6,240.2 L145.9,248.5ZM144.5,237.0 L149.7,239.2 L154.5,235.9 L154.7,231.4 L145.9,229.5 L144.5,237.0ZM182.2,267.6 L185.2,277.7 L191.6,276.0 L194.2,274.5 L191.9,267.2 L190.0,268.0 L182.4,266.7 L182.2,267.6ZM182.4,266.7 L172.0,265.0 L169.7,260.1 L171.0,272.1 L175.0,272.8 L182.2,267.6 L182.4,266.7ZM194.2,274.5 L202.0,270.0 L205.0,262.0 L191.9,267.2 L194.2,274.5ZM165.0,277.1 L171.0,272.1 L169.7,260.1 L168.0,256.4 L158.5,264.0 L165.0,277.1ZM149.7,239.2 L152.9,247.9 L164.1,247.1 L161.6,241.7 L154.5,235.9 L149.7,239.2ZM132.7,248.2 L137.2,240.3 L134.2,236.8 L128.0,236.5 L128.0,249.6 L132.7,248.2ZM165.0,277.1 L158.5,264.0 L149.7,265.1 L149.6,278.7 L151.5,282.7 L157.2,282.7 L163.7,282.0 L165.0,277.1ZM175.0,272.8 L178.3,279.6 L178.7,279.5 L185.2,277.7 L182.2,267.6 L175.0,272.8ZM161.6,241.7 L162.3,226.5 L160.6,226.7 L154.7,231.4 L154.5,235.9 L161.6,241.7ZM139.4,276.9 L136.2,269.0 L128.0,270.6 L128.0,280.5 L134.5,281.4 L139.4,276.9ZM135.5,259.7 L140.1,265.5 L147.5,264.4 L141.8,253.0 L137.7,252.6 L135.5,259.7ZM140.1,265.5 L135.5,259.7 L128.0,259.0 L128.0,270.6 L136.2,269.0 L140.1,265.5ZM128.0,249.6 L128.0,259.0 L135.5,259.7 L137.7,252.6 L132.7,248.2 L128.0,249.6ZM149.6,278.7 L139.4,276.9 L134.5,281.4 L135.7,281.6 L146.5,282.7 L151.5,282.7 L149.6,278.7ZM140.1,265.5 L136.2,269.0 L139.4,276.9 L149.6,278.7 L149.7,265.1 L149.6,264.9 L147.5,264.4 L140.1,265.5ZM149.7,265.1 L158.5,264.0 L168.0,256.4 L165.0,250.0 L165.1,247.6 L164.1,247.1 L152.9,247.9 L152.3,248.4 L149.6,264.9 L149.7,265.1ZM153.1,222.3 L151.8,217.6 L150.0,218.0 L137.1,221.5 L145.0,227.7 L153.1,222.3ZM134.2,236.8 L135.6,221.9 L128.0,224.0 L128.0,236.5 L134.2,236.8Z" stroke="#c9e3ee" stroke-width="0.50" fill="none" stroke-linejoin="round"/>
<g class="tl" font-size="2.6"><text x="145.1" y="259.7">PBP</text><text x="161.3" y="236.9">f</text><text x="169.4" y="275.9">S2</text><text x="158.6" y="221.0">AV</text><text x="136.3" y="245.3">cp</text><text x="137.4" y="234.2">MG</text><text x="144.5" y="245.1">DG</text><text x="185.7" y="272.3">Str</text><text x="194.9" y="269.6">PBP</text><text x="163.0" y="269.1">M2</text><text x="154.7" y="245.4">IG</text><text x="129.0" y="245.3">VPL</text><text x="153.4" y="272.1">MS</text><text x="155.8" y="234.7">MPA</text><text x="130.6" y="274.7">S2</text><text x="137.5" y="257.4">M2</text><text x="130.4" y="263.6">LPO</text><text x="129.9" y="256.8">RSA</text><text x="141.2" y="273.9">MnR</text><text x="156.5" y="254.2">CM</text><text x="142.8" y="226.0">MG</text><text x="128.9" y="231.3">Po</text></g>
<path d="M128.0,186.0 C130.0,185.7 135.3,184.3 140.0,184.0 C144.7,183.7 150.7,183.5 156.0,184.0 C161.3,184.5 167.0,185.7 172.0,187.0 C177.0,188.3 181.7,189.8 186.0,192.0 C190.3,194.2 194.7,197.0 198.0,200.0 C201.3,203.0 204.0,206.0 206.0,210.0 C208.0,214.0 209.3,219.3 210.0,224.0 C210.7,228.7 210.7,233.7 210.0,238.0 C209.3,242.3 208.0,246.3 206.0,250.0 C204.0,253.7 199.3,258.3 198.0,260.0" stroke="#bedde9" stroke-width="0.70" fill="none"/>
<path d="M128.0,190.0 C130.3,189.8 137.0,189.2 142.0,189.0 C147.0,188.8 153.0,188.5 158.0,189.0 C163.0,189.5 167.7,190.5 172.0,192.0 C176.3,193.5 180.3,195.7 184.0,198.0 C187.7,200.3 191.3,202.7 194.0,206.0 C196.7,209.3 198.7,213.7 200.0,218.0 C201.3,222.3 201.7,229.7 202.0,232.0" stroke="#bedde9" stroke-width="0.60" fill="none"/>
<path d="M134.0,206.0 C134.9,204.5 137.8,202.7 140.0,201.5 C142.2,200.3 145.1,199.0 147.0,198.8 C148.9,198.6 150.6,199.4 151.3,200.3 C152.0,201.2 152.1,202.9 151.0,204.2 C149.9,205.4 147.1,206.7 145.0,207.8 C142.9,208.9 140.2,210.6 138.5,211.0 C136.8,211.4 135.2,211.3 134.5,210.5 C133.8,209.7 133.1,207.5 134.0,206.0Z" stroke="#93c6dc" stroke-width="3.00" fill="none" stroke-linecap="round"/>
<path d="M134.0,206.0 C134.9,204.5 137.8,202.7 140.0,201.5 C142.2,200.3 145.1,199.0 147.0,198.8 C148.9,198.6 150.6,199.4 151.3,200.3 C152.0,201.2 152.1,202.9 151.0,204.2 C149.9,205.4 147.1,206.7 145.0,207.8 C142.9,208.9 140.2,210.6 138.5,211.0 C136.8,211.4 135.2,211.3 134.5,210.5 C133.8,209.7 133.1,207.5 134.0,206.0Z" stroke="#d9edf5" stroke-width="1.70" fill="none" stroke-linecap="round"/>
<path d="M128.2,208.0 C128.8,207.0 129.7,204.1 131.5,202.0 C133.3,199.9 136.4,197.1 139.2,195.4 C141.9,193.8 145.1,192.8 148.0,192.1 C150.9,191.4 155.2,191.6 156.7,191.5" stroke="#9ccbe2" stroke-width="0.90" fill="none"/>
<path d="M129.3,198.7 C131.5,197.3 137.6,192.0 142.5,190.4 C147.4,188.8 154.1,189.0 159.0,189.3 C163.9,189.6 168.5,190.6 172.0,192.0 C175.5,193.4 178.7,197.0 180.0,198.0" stroke="#b0d6e8" stroke-width="0.80" fill="none"/>
<path d="M130.4,213.0 C131.9,213.4 135.4,215.5 139.2,215.7 C143.0,215.9 149.6,214.1 153.4,214.0 C157.2,213.9 159.4,214.9 162.2,215.1 C164.9,215.3 168.6,215.1 169.9,215.1" stroke="#9ccbe2" stroke-width="0.90" fill="none"/>
<rect x="133.7" y="217.9" width="6.6" height="3.3" fill="#a9d3ec"/>
<path d="M128.2,160V200" stroke="#b5daea" stroke-width="1.2"/>
<path d="M128.0,222.0 C130.0,222.0 136.0,222.7 140.0,222.0 C144.0,221.3 148.3,219.7 152.0,218.0 C155.7,216.3 158.7,213.3 162.0,212.0 C165.3,210.7 170.3,210.3 172.0,210.0" stroke="#bedde9" stroke-width="0.60" fill="none"/>
<path d="M166.0,226.0 C168.0,222.0 172.7,222.0 176.0,222.0 C179.3,222.0 183.3,223.0 186.0,226.0 C188.7,229.0 191.0,235.0 192.0,240.0 C193.0,245.0 193.0,251.7 192.0,256.0 C191.0,260.3 188.7,264.0 186.0,266.0 C183.3,268.0 179.0,269.0 176.0,268.0 C173.0,267.0 170.0,263.7 168.0,260.0 C166.0,256.3 164.3,251.7 164.0,246.0 C163.7,240.3 164.0,230.0 166.0,226.0Z" stroke="#bedde9" stroke-width="0.60" fill="none"/>
<path d="M148.0,232.0 C149.7,229.0 153.3,227.3 156.0,228.0 C158.7,228.7 162.3,232.0 164.0,236.0 C165.7,240.0 166.7,247.7 166.0,252.0 C165.3,256.3 162.7,261.0 160.0,262.0 C157.3,263.0 152.3,260.7 150.0,258.0 C147.7,255.3 146.3,250.3 146.0,246.0 C145.7,241.7 146.3,235.0 148.0,232.0Z" stroke="#bedde9" stroke-width="0.60" fill="none"/>
<path d="M135.5,168.0 C135.9,170.7 137.6,181.3 138.0,184.0" stroke="#bedde9" stroke-width="0.60" fill="none"/>
<path d="M160.5,164.8 C160.1,168.0 158.4,180.8 158.0,184.0" stroke="#bedde9" stroke-width="0.60" fill="none"/>
<path d="M190.0,171.6 C188.3,174.7 181.7,186.9 180.0,190.0" stroke="#bedde9" stroke-width="0.60" fill="none"/>
<path d="M206.0,186.4 C204.0,188.3 196.0,196.1 194.0,198.0" stroke="#bedde9" stroke-width="0.60" fill="none"/>
<path d="M217.3,206.8 C215.1,207.3 206.2,209.5 204.0,210.0" stroke="#bedde9" stroke-width="0.60" fill="none"/>
<path d="M220.6,221.5 C218.8,221.9 211.8,223.6 210.0,224.0" stroke="#bedde9" stroke-width="0.60" fill="none"/>
<path d="M219.5,238.7 C217.9,238.6 211.6,238.1 210.0,238.0" stroke="#bedde9" stroke-width="0.60" fill="none"/>
<path d="M216.3,251.5 C214.6,251.2 207.7,250.2 206.0,250.0" stroke="#bedde9" stroke-width="0.60" fill="none"/>
<path d="M215.2,243.0 C213.8,245.8 210.2,255.5 206.6,260.1 C203.0,264.8 198.1,268.6 193.7,270.9 C189.3,273.2 182.3,273.5 180.0,274.0" stroke="#bedde9" stroke-width="0.60" fill="none"/>
<path d="M128.0,250.0 C129.3,251.0 133.7,253.3 136.0,256.0 C138.3,258.7 139.7,262.7 142.0,266.0 C144.3,269.3 147.7,273.3 150.0,276.0 C152.3,278.7 155.0,281.0 156.0,282.0" stroke="#bedde9" stroke-width="0.60" fill="none"/>
<path d="M150.7,194.3 C151.8,194.2 156.2,194.7 159.0,195.4 C161.8,196.1 165.3,197.4 167.7,198.7 C170.1,200.0 172.2,201.6 173.2,203.0 C174.2,204.4 173.9,205.9 173.7,207.4 C173.5,208.9 172.3,210.8 172.1,211.8 C171.9,212.8 173.0,213.3 172.7,213.5 C172.4,213.7 171.5,213.6 170.5,212.9 C169.5,212.2 168.2,210.4 166.6,209.1 C165.0,207.8 162.8,206.8 161.1,205.2 C159.4,203.6 158.2,201.4 156.7,199.8 C155.2,198.2 153.3,196.8 152.3,195.9 C151.3,195.0 149.6,194.4 150.7,194.3Z" fill="#128ed2"/>
<polygon points="128.0,216.8 131.5,217.0 132.2,219.5 131.8,222.3 128.0,222.3" fill="#128ed2"/>
<text x="180.6" y="230.8" font-size="8.0" textLength="13.5" lengthAdjust="spacingAndGlyphs">CPu</text>
<text x="173.0" y="240.4" font-size="8.0" textLength="12.5" lengthAdjust="spacingAndGlyphs" style="fill:#3a3a3a;stroke:#3a3a3a">GPe</text>
<circle cx="184.5" cy="252.2" r="2.4" fill="#eb5f5b" stroke="#000" stroke-opacity="0.12" stroke-width="0.5"/>
<circle cx="184.7" cy="259.7" r="2.4" fill="#5bb36a" stroke="#000" stroke-opacity="0.12" stroke-width="0.5"/>
<circle cx="134.0" cy="269.8" r="2.4" fill="#5bb36a" stroke="#000" stroke-opacity="0.12" stroke-width="0.5"/>
<circle cx="138.3" cy="279.5" r="2.4" fill="#eb5f5b" stroke="#000" stroke-opacity="0.12" stroke-width="0.5"/>
<path d="M199.0,270.2L193.4,265.3" stroke="#111" stroke-width="1.70"/>
<polygon points="190.0,262.3 195.3,263.9 192.2,267.3" fill="#111"/>
<text x="185.0" y="279.0" font-size="8.0" textLength="35.7" lengthAdjust="spacingAndGlyphs">Amygdala</text>
<path d="M132.7,285.0L134.3,278.9" stroke="#111" stroke-width="1.70"/>
<polygon points="135.5,274.6 136.4,280.0 132.0,278.8" fill="#111"/>
<text x="130.5" y="293.6" font-size="8.0" textLength="52.2" lengthAdjust="spacingAndGlyphs">Hypothalamus</text>
<text x="192.3" y="293.6" font-size="8.0" textLength="32.9" lengthAdjust="spacingAndGlyphs">-1.92mm</text>
<path d="M239.5,171.0 C239.9,170.6 241.0,169.2 242.0,168.5 C243.0,167.8 243.0,167.3 245.7,166.6 C248.4,165.8 253.6,164.6 258.0,164.0 C262.4,163.4 267.7,163.2 272.4,163.3 C277.1,163.4 281.7,163.7 286.0,164.3 C290.3,164.9 293.6,165.1 298.0,167.0 C302.4,168.9 308.2,172.7 312.4,176.0 C316.6,179.3 319.9,182.9 323.2,186.8 C326.5,190.7 329.9,195.2 332.2,199.4 C334.4,203.6 335.7,207.6 336.7,212.0 C337.7,216.4 338.0,221.3 338.0,226.0 C338.0,230.7 337.2,235.7 336.5,240.0 C335.8,244.3 335.1,248.3 334.0,252.0 C332.9,255.7 331.7,258.8 330.0,262.0 C328.3,265.2 326.7,268.2 324.0,271.0 C321.3,273.8 317.7,276.5 314.0,278.5 C310.3,280.5 305.5,281.9 302.0,282.9 C298.5,283.9 295.8,284.6 293.0,284.5 C290.2,284.4 288.6,282.6 285.5,282.0 C282.4,281.4 278.3,281.0 274.7,281.0 C271.1,281.0 268.3,281.7 264.0,282.0 C259.7,282.3 253.0,282.8 248.9,283.0 C244.8,283.2 241.1,283.0 239.5,283.0" stroke="#9fcfe1" stroke-width="1.20" fill="none"/>
<path d="M290.8,168.8 C293.2,169.8 300.8,172.6 305.0,175.0 C309.2,177.4 312.4,179.7 316.0,183.2 C319.6,186.7 324.0,191.0 326.8,195.8 C329.6,200.6 331.6,206.3 333.0,212.0 C334.4,217.7 334.9,224.5 334.9,230.0 C334.9,235.5 334.0,240.7 333.0,245.0 C332.0,249.3 330.7,252.5 329.0,256.0 C327.3,259.5 325.8,262.8 323.0,266.0 C320.2,269.2 313.8,273.5 312.0,275.0" stroke="#b0d6e8" stroke-width="0.80" fill="none"/>
<g class="tl" font-size="2.3"><text x="242.3" y="168.4">Pir</text><text x="250.0" y="171.1">MG</text><text x="263.1" y="169.7">Str</text><text x="273.8" y="171.5">V2MM</text><text x="283.4" y="168.0">APT</text><text x="295.4" y="171.5">DG</text><text x="244.4" y="180.3">VPM</text><text x="257.4" y="177.3">LV</text><text x="299.6" y="179.8">ml</text><text x="240.0" y="189.1">f</text><text x="251.6" y="186.5">PAG</text><text x="262.6" y="185.6">SNR</text><text x="276.1" y="189.1">fr</text><text x="294.8" y="189.4">AID</text><text x="305.8" y="188.6">HDB</text><text x="319.0" y="189.1">st</text><text x="246.7" y="194.7">S2</text><text x="259.6" y="196.4">GP</text><text x="269.5" y="194.9">ic</text><text x="278.7" y="194.9">Re</text><text x="290.1" y="195.5">SC</text><text x="300.6" y="197.6">AV</text><text x="311.7" y="198.2">Rh</text><text x="323.3" y="195.7">GI</text><text x="241.6" y="203.7">Rh</text><text x="253.6" y="205.7">ZI</text><text x="264.6" y="206.0">fr</text><text x="276.0" y="204.9">AcbC</text><text x="285.5" y="203.5">MD</text><text x="297.1" y="203.2">S1FL</text><text x="307.8" y="207.0">MD</text><text x="318.7" y="205.9">LD</text><text x="329.0" y="204.6">Rt</text><text x="245.5" y="215.5">MG</text><text x="254.9" y="213.1">IC</text><text x="268.3" y="214.9">SNR</text><text x="278.5" y="215.7">MEnt</text><text x="289.6" y="212.3">Pn</text><text x="301.9" y="215.3">MEnt</text><text x="322.1" y="214.7">CM</text><text x="241.7" y="222.7">MS</text><text x="249.6" y="223.6">PBP</text><text x="283.4" y="224.7">CA1</text><text x="294.8" y="224.6">RSG</text><text x="305.4" y="224.0">Rt</text><text x="316.8" y="223.8">mlf</text><text x="326.7" y="221.4">RMC</text><text x="250.2" y="230.0">DG</text><text x="272.7" y="233.2">CM</text><text x="281.5" y="233.4">LV</text><text x="294.4" y="229.8">SC</text><text x="306.0" y="229.8">LV</text><text x="315.4" y="230.8">PnO</text><text x="240.0" y="241.9">LSI</text><text x="250.8" y="239.2">LPO</text><text x="272.6" y="241.4">HDB</text><text x="297.4" y="240.2">Pir</text><text x="309.4" y="242.0">cp</text><text x="317.3" y="239.0">S1J</text><text x="327.7" y="241.8">AM</text><text x="247.5" y="248.8">IC</text><text x="258.0" y="251.0">SC</text><text x="269.2" y="250.2">Ect</text><text x="280.0" y="249.0">PRh</text><text x="290.3" y="251.0">ZI</text><text x="300.4" y="248.0">Tu</text><text x="313.6" y="249.7">fr</text><text x="321.4" y="250.6">MEnt</text><text x="240.8" y="258.7">MPA</text><text x="253.0" y="259.7">RMC</text><text x="295.7" y="257.2">HDB</text><text x="308.8" y="257.8">IC</text><text x="320.2" y="257.6">LV</text><text x="259.0" y="266.6">LPO</text><text x="269.1" y="267.3">S1J</text><text x="281.9" y="267.0">MEnt</text><text x="291.1" y="268.1">DLG</text><text x="301.3" y="268.3">Tu</text><text x="314.2" y="267.6">MD</text><text x="242.2" y="276.6">LV</text><text x="251.2" y="276.7">VPL</text><text x="276.0" y="277.3">S1J</text><text x="286.7" y="274.3">Cg1</text><text x="297.7" y="276.5">VLG</text><text x="307.0" y="273.7">ml</text><text x="291.9" y="282.9">MnR</text></g>
<path d="M255.0,272.3 L249.6,264.6 L245.2,265.2 L243.0,273.4 L255.3,278.9 L255.7,277.5 L255.0,272.3ZM288.4,247.8 L290.0,245.0 L293.5,236.4 L287.5,234.6 L282.8,236.5 L282.0,241.6 L288.4,247.8ZM248.8,222.7 L250.0,233.1 L253.5,237.2 L256.4,237.6 L259.0,235.1 L258.0,226.6 L248.8,222.7ZM250.0,233.1 L248.8,222.7 L247.3,220.0 L239.5,222.0 L239.5,234.9 L250.0,233.1ZM253.5,237.2 L250.0,233.1 L239.5,234.9 L239.5,247.6 L244.6,245.7 L253.5,237.2ZM278.9,269.3 L280.0,262.0 L282.5,257.7 L280.4,256.5 L265.6,259.2 L270.2,268.8 L278.9,269.3ZM272.4,222.4 L279.2,224.7 L282.8,221.3 L283.4,219.4 L275.0,216.0 L269.9,216.5 L272.4,222.4ZM259.0,235.1 L256.4,237.6 L262.7,249.9 L269.6,245.7 L270.2,233.7 L268.2,232.2 L259.0,235.1ZM293.5,236.4 L296.0,230.0 L292.7,225.6 L288.4,227.9 L287.5,234.6 L293.5,236.4ZM282.0,241.6 L275.8,246.5 L280.4,256.5 L282.5,257.7 L288.4,247.8 L282.0,241.6ZM269.9,269.3 L255.7,277.5 L255.3,278.9 L255.6,282.6 L264.0,282.0 L271.0,281.5 L269.9,269.3ZM282.8,221.3 L288.4,227.9 L292.7,225.6 L290.0,222.0 L283.4,219.4 L282.8,221.3ZM261.8,252.6 L262.7,249.9 L256.4,237.6 L253.5,237.2 L244.6,245.7 L261.8,252.6ZM270.2,233.7 L269.6,245.7 L275.8,246.5 L282.0,241.6 L282.8,236.5 L278.1,232.8 L270.2,233.7ZM278.1,232.8 L282.8,236.5 L287.5,234.6 L288.4,227.9 L282.8,221.3 L279.2,224.7 L278.1,232.8ZM280.4,256.5 L275.8,246.5 L269.6,245.7 L262.7,249.9 L261.8,252.6 L261.7,253.9 L264.6,258.5 L265.6,259.2 L280.4,256.5ZM239.5,262.7 L239.5,274.3 L243.0,273.4 L245.2,265.2 L239.5,262.7ZM252.2,258.3 L261.7,253.9 L261.8,252.6 L244.6,245.7 L239.5,247.6 L239.5,250.4 L252.2,258.3ZM271.0,281.5 L277.0,281.0 L278.9,269.3 L270.2,268.8 L269.9,269.3 L271.0,281.5ZM239.5,274.3 L239.5,283.0 L249.0,283.0 L255.6,282.6 L255.3,278.9 L243.0,273.4 L239.5,274.3ZM270.2,268.8 L265.6,259.2 L264.6,258.5 L255.0,272.3 L255.7,277.5 L269.9,269.3 L270.2,268.8ZM262.8,223.6 L258.0,226.6 L259.0,235.1 L268.2,232.2 L267.8,229.6 L262.8,223.6ZM262.8,223.0 L268.7,216.6 L257.3,217.8 L262.8,223.0ZM261.7,253.9 L252.2,258.3 L249.6,264.6 L255.0,272.3 L264.6,258.5 L261.7,253.9ZM245.2,265.2 L249.6,264.6 L252.2,258.3 L239.5,250.4 L239.5,262.7 L245.2,265.2ZM269.9,216.5 L268.7,216.6 L262.8,223.0 L262.8,223.6 L267.8,229.6 L272.4,222.4 L269.9,216.5ZM262.8,223.0 L257.3,217.8 L255.0,218.0 L247.3,220.0 L248.8,222.7 L258.0,226.6 L262.8,223.6 L262.8,223.0ZM267.8,229.6 L268.2,232.2 L270.2,233.7 L278.1,232.8 L279.2,224.7 L272.4,222.4 L267.8,229.6Z" stroke="#c9e3ee" stroke-width="0.50" fill="none" stroke-linejoin="round"/>
<g class="tl" font-size="2.6"><text x="284.9" y="240.0">M1</text><text x="241.8" y="242.5">PBP</text><text x="271.5" y="266.4">AID</text><text x="274.8" y="221.3">VLG</text><text x="261.6" y="242.7">Str</text><text x="288.9" y="233.3">ic</text><text x="279.6" y="253.2">APT</text><text x="264.0" y="274.4">DLG</text><text x="285.7" y="224.8">f</text><text x="251.2" y="242.7">MD</text><text x="273.7" y="240.0">LPO</text><text x="267.6" y="252.3">AID</text><text x="239.3" y="270.3">Pn</text><text x="247.6" y="252.5">ac</text><text x="271.7" y="276.2">Pn</text><text x="261.9" y="265.0">VP</text><text x="259.9" y="229.1">AcbC</text><text x="260.1" y="221.4">Pn</text><text x="254.2" y="262.5">Po</text><text x="240.2" y="255.4">Rh</text><text x="264.8" y="224.3">CA3</text><text x="271.6" y="228.1">LV</text></g>
<path d="M304.7,248.5 L310.2,250.1 L309.5,236.1 L297.3,235.0 L297.0,236.2 L304.7,248.5ZM312.8,234.7 L310.0,230.0 L300.0,225.0 L297.3,235.0 L309.5,236.1 L312.8,234.7ZM303.0,274.2 L290.6,276.9 L289.1,279.9 L293.0,284.5 L302.0,282.9 L306.1,281.4 L303.0,274.2ZM290.6,276.9 L303.0,274.2 L302.8,272.6 L296.4,268.7 L288.0,270.6 L290.6,276.9ZM321.0,268.7 L307.1,264.7 L302.8,272.6 L303.0,274.2 L306.1,281.4 L314.0,278.5 L322.8,271.9 L321.0,268.7ZM299.7,251.7 L304.7,248.5 L297.0,236.2 L296.0,240.0 L291.7,248.1 L299.7,251.7ZM309.5,236.1 L310.2,250.1 L313.0,252.5 L322.2,251.5 L322.7,251.1 L322.0,250.0 L312.8,234.7 L309.5,236.1ZM302.8,272.6 L307.1,264.7 L307.0,261.9 L299.1,258.0 L296.1,258.8 L294.1,262.9 L296.4,268.7 L302.8,272.6ZM304.7,248.5 L299.7,251.7 L299.1,258.0 L307.0,261.9 L313.0,252.5 L310.2,250.1 L304.7,248.5ZM288.0,270.6 L296.4,268.7 L294.1,262.9 L286.8,262.9 L285.8,269.5 L288.0,270.6ZM321.0,268.7 L322.2,251.5 L313.0,252.5 L307.0,261.9 L307.1,264.7 L321.0,268.7ZM290.6,276.9 L288.0,270.6 L285.8,269.5 L285.0,275.0 L289.1,279.9 L290.6,276.9ZM294.1,262.9 L296.1,258.8 L289.1,253.0 L288.0,255.0 L286.8,262.9 L294.1,262.9ZM322.8,271.9 L324.0,271.0 L330.0,262.0 L322.7,251.1 L322.2,251.5 L321.0,268.7 L322.8,271.9ZM296.1,258.8 L299.1,258.0 L299.7,251.7 L291.7,248.1 L289.1,253.0 L296.1,258.8Z" stroke="#c9e3ee" stroke-width="0.50" fill="none" stroke-linejoin="round"/>
<g class="tl" font-size="2.6"><text x="302.8" y="243.4">AV</text><text x="302.2" y="233.3">PRh</text><text x="294.8" y="279.4">f</text><text x="293.5" y="274.4">MnR</text><text x="295.4" y="245.0">MEnt</text><text x="311.3" y="244.0">V2MM</text><text x="298.3" y="267.7">sm</text><text x="313.4" y="258.2">M1</text><text x="288.3" y="257.9">PV</text><text x="321.7" y="257.7">RSG</text></g>
<path d="M330.6,206.5 C330.5,208.8 330.4,215.1 330.0,220.0 C329.6,224.9 328.6,232.2 328.0,236.0 C327.4,239.8 327.3,239.7 326.3,243.0 C325.3,246.3 324.1,252.2 322.0,256.0 C319.9,259.8 317.0,263.3 314.0,266.0 C311.0,268.7 305.7,271.0 304.0,272.0" stroke="#bedde9" stroke-width="0.70" fill="none"/>
<path d="M294.0,196.0 C295.1,198.8 299.1,207.9 300.5,212.9 C301.9,217.9 303.1,221.5 302.7,225.8 C302.3,230.1 300.9,234.4 298.4,238.7 C295.9,243.0 290.8,247.3 287.6,251.6 C284.4,255.9 280.8,260.6 279.0,264.5 C277.2,268.4 276.9,272.4 276.9,275.3 C276.9,278.2 278.6,280.6 279.0,281.7" stroke="#bedde9" stroke-width="0.80" fill="none"/>
<path d="M239.5,196.0 C241.3,194.3 246.2,188.4 250.3,186.1 C254.4,183.8 259.0,182.8 264.1,182.3 C269.2,181.8 275.9,181.8 281.0,183.0 C286.1,184.2 290.8,187.3 294.8,189.5 C298.8,191.7 301.5,193.2 305.0,196.0 C308.5,198.8 312.8,202.0 316.0,206.0 C319.2,210.0 322.7,217.7 324.0,220.0" stroke="#a8d2e6" stroke-width="0.80" fill="none"/>
<path d="M242.6,201.5 C244.4,199.6 249.1,192.4 253.4,190.0 C257.8,187.6 263.6,187.3 268.7,187.2 C273.8,187.1 280.2,188.2 284.1,189.5 C288.0,190.8 289.9,193.2 292.0,195.0 C294.1,196.8 296.2,199.2 297.0,200.0" stroke="#b0d6e8" stroke-width="0.60" fill="none"/>
<path d="M244.1,206.1 C244.6,204.8 245.4,200.7 247.0,198.5 C248.6,196.3 251.1,194.3 253.4,193.0 C255.7,191.7 258.4,191.2 261.0,190.8 C263.6,190.4 266.0,190.3 268.7,190.5 C271.4,190.7 274.4,191.4 277.0,192.0 C279.6,192.6 282.2,193.3 284.1,194.3 C286.0,195.3 287.5,196.6 288.5,197.8 C289.5,199.0 290.0,200.0 290.2,201.3 C290.4,202.6 290.5,204.5 289.5,205.5 C288.5,206.5 285.9,207.4 284.0,207.5 C282.1,207.6 279.0,206.2 278.0,206.0" stroke="#93c6dc" stroke-width="3.30" fill="none" stroke-linecap="round"/>
<path d="M244.1,206.1 C244.6,204.8 245.4,200.7 247.0,198.5 C248.6,196.3 251.1,194.3 253.4,193.0 C255.7,191.7 258.4,191.2 261.0,190.8 C263.6,190.4 266.0,190.3 268.7,190.5 C271.4,190.7 274.4,191.4 277.0,192.0 C279.6,192.6 282.2,193.3 284.1,194.3 C286.0,195.3 287.5,196.6 288.5,197.8 C289.5,199.0 290.0,200.0 290.2,201.3 C290.4,202.6 290.5,204.5 289.5,205.5 C288.5,206.5 285.9,207.4 284.0,207.5 C282.1,207.6 279.0,206.2 278.0,206.0" stroke="#d9edf5" stroke-width="2.00" fill="none" stroke-linecap="round"/>
<path d="M257.0,207.5 C257.9,207.0 260.7,205.2 262.6,204.3 C264.6,203.4 266.6,202.4 268.7,201.8 C270.8,201.2 273.0,200.7 274.9,201.0 C276.8,201.3 279.1,203.1 280.0,203.5" stroke="#93c6dc" stroke-width="2.70" fill="none" stroke-linecap="round"/>
<path d="M257.0,207.5 C257.9,207.0 260.7,205.2 262.6,204.3 C264.6,203.4 266.6,202.4 268.7,201.8 C270.8,201.2 273.0,200.7 274.9,201.0 C276.8,201.3 279.1,203.1 280.0,203.5" stroke="#d9edf5" stroke-width="1.40" fill="none" stroke-linecap="round"/>
<path d="M245.7,212.2 C248.2,211.7 256.1,209.4 261.0,209.2 C265.9,208.9 270.3,209.7 274.9,210.7 C279.5,211.7 285.2,213.4 288.7,215.3 C292.2,217.2 294.8,220.9 296.0,222.0" stroke="#9ccbe2" stroke-width="0.90" fill="none"/>
<path d="M244.0,214.0 C245.7,214.0 250.7,214.3 254.0,214.0 C257.3,213.7 260.3,212.0 264.0,212.0 C267.7,212.0 272.3,212.7 276.0,214.0 C279.7,215.3 283.3,218.0 286.0,220.0 C288.7,222.0 291.0,225.0 292.0,226.0" stroke="#bedde9" stroke-width="0.60" fill="none"/>
<path d="M239.5,224.0 C241.2,224.3 246.2,225.7 250.0,226.0 C253.8,226.3 258.0,225.3 262.0,226.0 C266.0,226.7 270.3,228.0 274.0,230.0 C277.7,232.0 282.3,236.7 284.0,238.0" stroke="#bedde9" stroke-width="0.60" fill="none"/>
<path d="M254.0,236.0 C256.7,234.0 262.0,231.7 266.0,232.0 C270.0,232.3 275.3,235.0 278.0,238.0 C280.7,241.0 282.3,246.7 282.0,250.0 C281.7,253.3 279.0,256.3 276.0,258.0 C273.0,259.7 267.7,260.7 264.0,260.0 C260.3,259.3 256.3,256.7 254.0,254.0 C251.7,251.3 250.0,247.0 250.0,244.0 C250.0,241.0 251.3,238.0 254.0,236.0Z" stroke="#bedde9" stroke-width="0.60" fill="none"/>
<path d="M239.5,250.0 C241.2,251.0 246.9,253.7 250.0,256.0 C253.1,258.3 256.0,260.7 258.0,264.0 C260.0,267.3 261.0,273.2 262.0,276.0 C263.0,278.8 263.7,280.2 264.0,281.0" stroke="#bedde9" stroke-width="0.60" fill="none"/>
<path d="M245.7,166.6 C246.4,169.2 249.3,179.4 250.0,182.0" stroke="#bedde9" stroke-width="0.60" fill="none"/>
<path d="M272.4,163.3 C272.0,166.1 270.4,177.2 270.0,180.0" stroke="#bedde9" stroke-width="0.60" fill="none"/>
<path d="M299.0,167.7 C297.8,170.6 293.2,182.1 292.0,185.0" stroke="#bedde9" stroke-width="0.60" fill="none"/>
<path d="M321.2,183.3 C319.0,185.1 310.2,192.2 308.0,194.0" stroke="#bedde9" stroke-width="0.60" fill="none"/>
<path d="M334.5,207.7 C332.4,208.1 324.1,209.6 322.0,210.0" stroke="#bedde9" stroke-width="0.60" fill="none"/>
<path d="M335.5,230.0 C334.2,230.3 329.2,231.7 328.0,232.0" stroke="#bedde9" stroke-width="0.60" fill="none"/>
<path d="M331.7,253.8 C330.4,253.2 325.3,250.6 324.0,250.0" stroke="#bedde9" stroke-width="0.60" fill="none"/>
<path d="M295.2,199.5 C295.5,198.6 296.8,199.8 297.5,200.5 C298.2,201.2 298.9,202.4 299.5,204.0 C300.1,205.6 300.7,207.9 301.0,210.0 C301.3,212.1 301.7,215.2 301.5,216.5 C301.3,217.8 300.7,218.6 300.0,218.0 C299.3,217.4 298.2,215.0 297.5,213.0 C296.8,211.0 295.9,208.2 295.5,206.0 C295.1,203.8 294.9,200.4 295.2,199.5Z" fill="#128ed2"/>
<path d="M239.5,211.5 C239.8,209.8 241.0,211.2 241.5,212.0 C242.0,212.8 242.5,214.4 242.5,216.0 C242.5,217.6 242.0,220.5 241.5,221.5 C241.0,222.5 239.8,223.7 239.5,222.0 C239.2,220.3 239.2,213.2 239.5,211.5Z" fill="#128ed2"/>
<rect x="239.5" y="264.5" width="1.3" height="18" fill="#128ed2"/>
<text x="318.5" y="187.0" font-size="8.0" textLength="13.8" lengthAdjust="spacingAndGlyphs">CPu</text>
<path d="M323.8,192.6L311.6,230.1" stroke="#111" stroke-width="1.70"/>
<polygon points="310.2,234.4 309.6,228.9 313.9,230.4" fill="#111"/>
<text x="247.8" y="234.0" font-size="8.0" textLength="35.1" lengthAdjust="spacingAndGlyphs">Thalamus</text>
<circle cx="273.6" cy="239.8" r="2.4" fill="#eb5f5b" stroke="#000" stroke-opacity="0.12" stroke-width="0.5"/>
<circle cx="305.9" cy="238.3" r="2.4" fill="#f0db68" stroke="#000" stroke-opacity="0.12" stroke-width="0.5"/>
<circle cx="305.2" cy="242.6" r="2.4" fill="#ef7552" stroke="#000" stroke-opacity="0.12" stroke-width="0.5"/>
<circle cx="297.9" cy="252.7" r="2.4" fill="#ef7552" stroke="#000" stroke-opacity="0.12" stroke-width="0.5"/>
<circle cx="304.8" cy="249.9" r="2.4" fill="#eb5f5b" stroke="#000" stroke-opacity="0.12" stroke-width="0.5"/>
<circle cx="305.9" cy="252.0" r="2.4" fill="#eb5f5b" stroke="#000" stroke-opacity="0.12" stroke-width="0.5"/>
<circle cx="262.2" cy="257.0" r="2.4" fill="#5bb36a" stroke="#000" stroke-opacity="0.12" stroke-width="0.5"/>
<circle cx="299.9" cy="262.8" r="2.4" fill="#f0db68" stroke="#000" stroke-opacity="0.12" stroke-width="0.5"/>
<circle cx="301.0" cy="265.2" r="2.4" fill="#f0db68" stroke="#000" stroke-opacity="0.12" stroke-width="0.5"/>
<circle cx="321.0" cy="267.7" r="2.4" fill="#eb5f5b" stroke="#000" stroke-opacity="0.12" stroke-width="0.5"/>
<circle cx="260.3" cy="277.8" r="2.4" fill="#eb5f5b" stroke="#000" stroke-opacity="0.12" stroke-width="0.5"/>
<circle cx="262.9" cy="277.8" r="2.4" fill="#eb5f5b" stroke="#000" stroke-opacity="0.12" stroke-width="0.5"/>
<path d="M314.5,272.0L307.8,264.3" stroke="#111" stroke-width="1.70"/>
<polygon points="304.8,260.9 309.8,263.2 306.4,266.2" fill="#111"/>
<text x="302.2" y="279.4" font-size="8.0" textLength="36.0" lengthAdjust="spacingAndGlyphs">Amygdala</text>
<path d="M258.6,286.0L256.3,281.4" stroke="#111" stroke-width="1.70"/>
<polygon points="254.3,277.4 258.6,280.8 254.5,282.9" fill="#111"/>
<text x="306.4" y="294.0" font-size="8.0" textLength="31.8" lengthAdjust="spacingAndGlyphs">-3.12mm</text>
<path d="M350.8,171.8 C351.2,171.3 352.1,169.8 353.0,169.0 C353.9,168.2 353.6,167.6 356.4,167.0 C359.2,166.4 365.5,165.6 370.0,165.2 C374.5,164.8 379.1,164.5 383.6,164.8 C388.1,165.1 392.4,165.5 397.0,166.8 C401.6,168.1 407.1,170.6 411.4,172.8 C415.7,175.0 419.4,177.5 422.8,180.2 C426.2,182.9 429.2,185.9 431.9,188.8 C434.6,191.8 436.9,194.7 438.8,197.9 C440.7,201.1 442.1,205.0 443.3,208.2 C444.5,211.4 445.4,214.0 446.0,217.0 C446.6,220.0 446.9,222.9 447.0,226.4 C447.1,229.9 446.9,234.6 446.5,238.0 C446.1,241.4 445.2,244.1 444.3,247.0 C443.4,249.9 442.7,251.8 441.4,255.4 C440.1,259.1 439.0,264.7 436.6,268.9 C434.2,273.1 430.1,277.6 426.9,280.5 C423.7,283.4 421.1,284.9 417.3,286.2 C413.5,287.5 408.0,288.2 403.8,288.2 C399.6,288.2 395.4,287.2 392.2,286.2 C389.0,285.2 386.6,284.3 384.5,282.4 C382.4,280.5 380.6,276.6 379.7,274.7 C378.8,272.8 378.9,271.4 378.8,270.8" stroke="#9fcfe1" stroke-width="1.20" fill="none"/>
<g class="tl" font-size="2.3"><text x="373.2" y="171.6">ac</text><text x="398.6" y="171.1">AcbC</text><text x="358.3" y="181.1">IG</text><text x="369.7" y="181.8">PAG</text><text x="392.1" y="178.4">V2MM</text><text x="400.1" y="179.1">AID</text><text x="414.4" y="178.2">Rt</text><text x="361.9" y="188.6">IG</text><text x="385.1" y="187.2">CM</text><text x="396.6" y="190.0">Re</text><text x="408.2" y="187.5">LP</text><text x="415.8" y="189.0">Sub</text><text x="428.5" y="190.1">MnR</text><text x="370.7" y="198.8">CM</text><text x="379.2" y="197.5">S1J</text><text x="390.0" y="199.1">LEnt</text><text x="400.3" y="198.9">sm</text><text x="414.1" y="197.8">CA1</text><text x="424.2" y="196.1">cc</text><text x="364.8" y="205.6">LPO</text><text x="373.5" y="205.3">ICj</text><text x="383.5" y="204.8">mlf</text><text x="395.6" y="204.7">LEnt</text><text x="406.0" y="206.8">IG</text><text x="419.4" y="205.8">PBP</text><text x="429.2" y="207.4">mlf</text><text x="380.3" y="213.9">Pir</text><text x="402.0" y="215.3">f</text><text x="413.8" y="214.1">DG</text><text x="425.4" y="217.2">Rh</text><text x="437.8" y="215.6">opt</text><text x="373.9" y="223.1">cc</text><text x="387.4" y="224.0">VLG</text><text x="398.5" y="224.9">CA1</text><text x="428.8" y="224.6">APT</text><text x="441.2" y="222.5">CM</text><text x="371.1" y="233.2">VP</text><text x="380.9" y="234.1">S1BF</text><text x="404.9" y="231.4">LD</text><text x="424.0" y="231.2">Pir</text><text x="436.1" y="234.0">Sub</text><text x="374.4" y="239.9">AM</text><text x="382.8" y="240.2">AcbSh</text><text x="397.3" y="241.7">Po</text><text x="407.2" y="242.5">LV</text><text x="418.9" y="243.7">MG</text><text x="441.6" y="240.2">CA1</text><text x="379.9" y="248.9">RSA</text><text x="391.6" y="250.9">MPA</text><text x="401.5" y="248.8">ml</text><text x="413.3" y="249.4">Tu</text><text x="387.9" y="260.6">RSA</text><text x="398.7" y="258.5">VP</text><text x="407.8" y="261.3">IG</text><text x="418.5" y="258.1">MG</text><text x="392.6" y="266.2">M1</text><text x="402.5" y="268.3">RMC</text><text x="416.0" y="269.2">ICj</text><text x="388.6" y="278.0">PAG</text><text x="407.7" y="275.8">RMC</text><text x="417.8" y="277.2">PnO</text></g>
<path d="M359.4,257.2 L365.8,259.0 L372.8,250.4 L365.1,239.6 L356.9,255.4 L359.4,257.2ZM381.8,218.4 L380.0,218.0 L374.2,219.5 L378.8,228.7 L386.2,226.7 L381.8,218.4ZM379.5,245.3 L375.5,249.6 L382.1,257.7 L384.5,258.0 L387.9,253.3 L381.5,245.7 L379.5,245.3ZM393.7,253.4 L403.8,245.1 L399.9,242.6 L391.1,245.3 L390.7,252.5 L393.7,253.4ZM369.0,263.2 L361.8,272.4 L365.7,279.3 L369.0,278.5 L373.3,276.0 L369.0,263.2ZM361.8,272.4 L355.5,272.1 L353.0,274.0 L358.4,281.2 L365.7,279.3 L361.8,272.4ZM396.4,258.3 L401.4,260.2 L405.0,258.0 L405.7,245.4 L403.8,245.1 L393.7,253.4 L396.4,258.3ZM355.5,272.1 L361.8,272.4 L369.0,263.2 L369.0,263.2 L365.8,259.0 L359.4,257.2 L355.5,272.1ZM387.9,253.3 L384.5,258.0 L388.0,266.2 L396.4,258.3 L393.7,253.4 L390.7,252.5 L387.9,253.3ZM391.1,245.3 L388.1,242.6 L381.5,245.7 L387.9,253.3 L390.7,252.5 L391.1,245.3ZM378.8,228.7 L374.2,219.5 L367.6,221.3 L365.8,233.6 L366.3,235.0 L376.2,236.0 L378.8,228.7ZM353.0,274.0 L350.8,274.0 L350.8,283.4 L357.6,281.4 L358.4,281.2 L353.0,274.0ZM372.8,250.4 L375.5,249.6 L379.5,245.3 L377.0,236.7 L376.2,236.0 L366.3,235.0 L365.1,237.3 L365.1,239.6 L372.8,250.4ZM400.3,222.8 L400.0,222.0 L381.8,218.4 L386.2,226.7 L393.2,230.0 L400.3,222.8ZM369.0,263.2 L373.2,262.9 L382.1,257.7 L375.5,249.6 L372.8,250.4 L365.8,259.0 L369.0,263.2ZM373.2,262.9 L369.0,263.2 L369.0,263.2 L373.3,276.0 L380.0,272.0 L385.0,269.5 L373.2,262.9ZM399.9,242.6 L392.9,231.5 L389.5,234.6 L388.1,242.6 L391.1,245.3 L399.9,242.6ZM377.0,236.7 L389.5,234.6 L392.9,231.5 L393.2,230.0 L386.2,226.7 L378.8,228.7 L376.2,236.0 L377.0,236.7ZM388.0,266.2 L388.0,268.0 L392.0,266.0 L401.4,260.2 L396.4,258.3 L388.0,266.2ZM389.5,234.6 L377.0,236.7 L379.5,245.3 L381.5,245.7 L388.1,242.6 L389.5,234.6ZM365.1,237.3 L366.3,235.0 L365.8,233.6 L351.7,227.6 L350.8,228.0 L350.8,240.1 L365.1,237.3ZM405.7,245.4 L406.0,240.0 L400.3,222.8 L393.2,230.0 L392.9,231.5 L399.9,242.6 L403.8,245.1 L405.7,245.4ZM350.8,254.2 L350.8,274.0 L353.0,274.0 L355.5,272.1 L359.4,257.2 L356.9,255.4 L350.8,254.2ZM365.8,233.6 L367.6,221.3 L365.0,222.0 L351.7,227.6 L365.8,233.6ZM356.9,255.4 L365.1,239.6 L365.1,237.3 L350.8,240.1 L350.8,254.2 L356.9,255.4ZM388.0,266.2 L384.5,258.0 L382.1,257.7 L373.2,262.9 L385.0,269.5 L388.0,268.0 L388.0,266.2Z" stroke="#c9e3ee" stroke-width="0.50" fill="none" stroke-linejoin="round"/>
<g class="tl" font-size="2.6"><text x="363.1" y="246.0">LD</text><text x="377.7" y="224.1">Ect</text><text x="392.5" y="249.9">AcbC</text><text x="365.5" y="268.8">Po</text><text x="357.1" y="277.7">Str</text><text x="399.5" y="250.4">AcbSh</text><text x="358.6" y="268.7">SC</text><text x="386.8" y="263.2">Pn</text><text x="385.1" y="250.1">S2</text><text x="369.5" y="226.0">ZI</text><text x="370.4" y="243.4">DG</text><text x="389.3" y="225.8">Re</text><text x="372.0" y="255.0">st</text><text x="372.2" y="267.4">Re</text><text x="390.6" y="239.6">MS</text><text x="381.7" y="234.1">PAG</text><text x="380.7" y="240.6">AcbC</text><text x="355.9" y="235.3">M1</text><text x="397.6" y="236.7">MnR</text><text x="351.6" y="265.6">f</text><text x="360.2" y="225.8">PV</text><text x="353.5" y="248.1">ac</text><text x="379.2" y="265.6">Cg1</text></g>
<path d="M399.8,275.9 L402.2,282.6 L409.4,283.2 L409.9,275.5 L399.8,275.9ZM431.0,240.4 L430.4,238.2 L425.0,240.0 L424.0,250.0 L422.6,254.3 L427.8,254.1 L431.0,240.4ZM431.0,240.4 L427.8,254.1 L439.8,258.9 L441.0,255.0 L442.4,251.2 L431.0,240.4ZM431.0,240.4 L442.4,251.2 L444.0,247.0 L440.0,235.0 L430.4,238.2 L431.0,240.4ZM402.2,282.6 L400.3,287.4 L404.0,288.0 L412.4,286.7 L409.4,283.2 L402.2,282.6ZM427.8,254.1 L422.6,254.3 L420.0,262.0 L418.5,263.5 L425.0,271.7 L433.7,272.0 L437.0,268.0 L439.8,258.9 L427.8,254.1ZM411.2,274.4 L419.7,277.8 L425.0,271.7 L418.5,263.5 L412.0,270.0 L411.1,270.2 L411.2,274.4ZM402.2,282.6 L399.8,275.9 L396.7,273.6 L395.0,274.0 L385.0,282.0 L392.0,286.0 L400.3,287.4 L402.2,282.6ZM399.8,275.9 L409.9,275.5 L411.2,274.4 L411.1,270.2 L396.7,273.6 L399.8,275.9ZM409.4,283.2 L412.4,286.7 L417.0,286.0 L419.5,284.5 L419.7,277.8 L411.2,274.4 L409.9,275.5 L409.4,283.2ZM419.7,277.8 L419.5,284.5 L427.0,280.0 L433.7,272.0 L425.0,271.7 L419.7,277.8Z" stroke="#c9e3ee" stroke-width="0.50" fill="none" stroke-linejoin="round"/>
<g class="tl" font-size="2.6"><text x="402.8" y="280.3">S1BF</text><text x="424.7" y="246.2">CA3</text><text x="436.2" y="244.7">PRh</text><text x="403.6" y="286.0">VPL</text><text x="426.4" y="263.8">RMC</text><text x="392.3" y="280.0">Po</text><text x="405.0" y="272.9">ZI</text></g>
<path d="M378.8,272.8 C377.2,273.8 372.6,277.1 369.1,278.5 C365.6,279.9 360.7,280.6 357.6,281.4 C354.6,282.2 351.9,283.1 350.8,283.4" stroke="#bedde9" stroke-width="0.60" fill="none"/>
<path d="M350.8,186.0 C353.0,185.3 359.1,183.0 364.0,182.0 C368.9,181.0 374.7,180.0 380.0,180.0 C385.3,180.0 391.0,180.7 396.0,182.0 C401.0,183.3 405.7,185.7 410.0,188.0 C414.3,190.3 418.3,192.7 422.0,196.0 C425.7,199.3 429.3,203.7 432.0,208.0 C434.7,212.3 437.0,217.0 438.0,222.0 C439.0,227.0 438.7,232.7 438.0,238.0 C437.3,243.3 435.7,249.3 434.0,254.0 C432.3,258.7 430.7,262.3 428.0,266.0 C425.3,269.7 419.7,274.3 418.0,276.0" stroke="#bedde9" stroke-width="0.70" fill="none"/>
<path d="M350.8,190.0 C353.3,189.5 360.8,187.7 366.0,187.0 C371.2,186.3 376.7,185.8 382.0,186.0 C387.3,186.2 393.3,186.7 398.0,188.0 C402.7,189.3 408.0,193.0 410.0,194.0" stroke="#bedde9" stroke-width="0.60" fill="none"/>
<path d="M352.0,201.0 C352.5,201.8 354.0,204.5 355.0,206.0 C356.0,207.5 356.8,209.2 358.1,210.0 C359.4,210.8 361.3,211.8 362.8,211.1 C364.3,210.4 366.0,208.3 367.0,206.0 C368.0,203.7 367.8,199.5 368.6,197.1 C369.5,194.7 370.4,192.7 372.1,191.3 C373.9,190.0 376.0,189.2 379.1,189.0 C382.2,188.8 387.2,189.1 390.7,190.1 C394.2,191.1 397.3,192.9 400.0,194.8 C402.7,196.8 405.2,199.3 407.0,201.8 C408.8,204.3 410.0,207.4 410.5,209.9 C411.0,212.4 410.6,215.3 410.0,216.9 C409.4,218.5 407.5,218.9 407.0,219.3" stroke="#93c6dc" stroke-width="3.60" fill="none" stroke-linecap="round"/>
<path d="M352.0,201.0 C352.5,201.8 354.0,204.5 355.0,206.0 C356.0,207.5 356.8,209.2 358.1,210.0 C359.4,210.8 361.3,211.8 362.8,211.1 C364.3,210.4 366.0,208.3 367.0,206.0 C368.0,203.7 367.8,199.5 368.6,197.1 C369.5,194.7 370.4,192.7 372.1,191.3 C373.9,190.0 376.0,189.2 379.1,189.0 C382.2,188.8 387.2,189.1 390.7,190.1 C394.2,191.1 397.3,192.9 400.0,194.8 C402.7,196.8 405.2,199.3 407.0,201.8 C408.8,204.3 410.0,207.4 410.5,209.9 C411.0,212.4 410.6,215.3 410.0,216.9 C409.4,218.5 407.5,218.9 407.0,219.3" stroke="#d9edf5" stroke-width="2.30" fill="none" stroke-linecap="round"/>
<path d="M377.9,207.6 C379.1,207.0 382.6,204.9 384.9,204.1 C387.2,203.3 389.6,202.8 391.9,203.0 C394.2,203.2 396.8,204.0 398.9,205.3 C401.0,206.7 403.3,209.2 404.7,211.1 C406.1,213.0 406.6,215.9 407.0,216.9" stroke="#93c6dc" stroke-width="2.80" fill="none" stroke-linecap="round"/>
<path d="M377.9,207.6 C379.1,207.0 382.6,204.9 384.9,204.1 C387.2,203.3 389.6,202.8 391.9,203.0 C394.2,203.2 396.8,204.0 398.9,205.3 C401.0,206.7 403.3,209.2 404.7,211.1 C406.1,213.0 406.6,215.9 407.0,216.9" stroke="#d9edf5" stroke-width="1.50" fill="none" stroke-linecap="round"/>
<path d="M379.1,211.1 C381.0,210.8 387.2,209.4 390.7,209.4 C394.2,209.4 397.7,210.0 400.0,211.1 C402.3,212.2 403.9,215.0 404.7,215.8" stroke="#93c6dc" stroke-width="2.50" fill="none" stroke-linecap="round"/>
<path d="M379.1,211.1 C381.0,210.8 387.2,209.4 390.7,209.4 C394.2,209.4 397.7,210.0 400.0,211.1 C402.3,212.2 403.9,215.0 404.7,215.8" stroke="#d9edf5" stroke-width="1.20" fill="none" stroke-linecap="round"/>
<path d="M377.9,203.0 C377.7,204.3 377.0,209.8 376.8,211.1" stroke="#9ccbe2" stroke-width="1.00" fill="none"/>
<path d="M352.3,215.8 C353.9,216.0 358.1,217.4 361.6,216.9 C365.1,216.4 369.4,213.7 373.3,212.8 C377.2,211.9 383.0,211.9 384.9,211.7" stroke="#93c6dc" stroke-width="2.40" fill="none" stroke-linecap="round"/>
<path d="M352.3,215.8 C353.9,216.0 358.1,217.4 361.6,216.9 C365.1,216.4 369.4,213.7 373.3,212.8 C377.2,211.9 383.0,211.9 384.9,211.7" stroke="#d9edf5" stroke-width="1.10" fill="none" stroke-linecap="round"/>
<path d="M350.8,196.0 C351.8,195.6 354.6,194.8 357.0,193.6 C359.4,192.4 362.4,190.3 365.1,189.0 C367.8,187.7 370.0,186.2 373.3,185.5 C376.6,184.8 381.0,184.5 384.9,184.9 C388.8,185.3 393.1,186.4 396.6,187.8 C400.1,189.2 403.2,191.3 405.9,193.6 C408.6,195.9 411.7,200.4 412.9,201.8" stroke="#a8d2e6" stroke-width="0.80" fill="none"/>
<path d="M352.0,230.0 C354.0,230.3 359.7,231.7 364.0,232.0 C368.3,232.3 373.3,231.3 378.0,232.0 C382.7,232.7 388.0,234.0 392.0,236.0 C396.0,238.0 400.3,242.7 402.0,244.0" stroke="#bedde9" stroke-width="0.60" fill="none"/>
<path d="M360.0,236.0 C361.7,232.7 363.3,231.3 366.0,232.0 C368.7,232.7 374.0,236.0 376.0,240.0 C378.0,244.0 378.7,251.7 378.0,256.0 C377.3,260.3 374.7,264.7 372.0,266.0 C369.3,267.3 364.7,266.3 362.0,264.0 C359.3,261.7 356.3,256.7 356.0,252.0 C355.7,247.3 358.3,239.3 360.0,236.0Z" stroke="#bedde9" stroke-width="0.60" fill="none"/>
<path d="M406.0,222.0 C405.7,225.0 405.0,234.3 404.0,240.0 C403.0,245.7 402.0,252.0 400.0,256.0 C398.0,260.0 394.7,262.0 392.0,264.0 C389.3,266.0 386.0,266.7 384.0,268.0 C382.0,269.3 380.7,271.3 380.0,272.0" stroke="#bedde9" stroke-width="0.60" fill="none"/>
<path d="M356.4,167.0 C357.0,169.5 359.4,179.5 360.0,182.0" stroke="#bedde9" stroke-width="0.60" fill="none"/>
<path d="M383.6,164.8 C383.3,167.3 382.3,177.5 382.0,180.0" stroke="#bedde9" stroke-width="0.60" fill="none"/>
<path d="M409.8,170.7 C408.5,173.1 403.3,182.6 402.0,185.0" stroke="#bedde9" stroke-width="0.60" fill="none"/>
<path d="M431.6,187.0 C429.7,188.5 421.9,194.5 420.0,196.0" stroke="#bedde9" stroke-width="0.60" fill="none"/>
<path d="M443.6,206.7 C441.7,207.2 433.9,209.4 432.0,210.0" stroke="#bedde9" stroke-width="0.60" fill="none"/>
<path d="M447.0,226.4 C445.5,226.3 439.5,226.1 438.0,226.0" stroke="#bedde9" stroke-width="0.60" fill="none"/>
<path d="M446.0,244.0 C444.3,244.0 437.7,244.0 436.0,244.0" stroke="#bedde9" stroke-width="0.60" fill="none"/>
<path d="M440.0,260.0 C438.3,259.7 431.7,258.3 430.0,258.0" stroke="#bedde9" stroke-width="0.60" fill="none"/>
<path d="M413.6,211.0 C414.1,209.8 415.1,209.8 415.8,211.0 C416.5,212.2 417.0,215.2 417.8,218.0 C418.6,220.8 419.6,224.6 420.5,228.0 C421.4,231.4 422.8,235.4 423.2,238.7 C423.6,242.0 423.2,245.1 423.0,248.0 C422.8,250.9 422.6,253.3 421.8,256.0 C421.0,258.7 420.0,261.9 418.3,264.1 C416.6,266.3 414.2,267.9 411.5,269.2 C408.8,270.5 405.1,271.3 401.9,271.9 C398.7,272.5 394.4,272.8 392.2,272.8 C389.9,272.8 389.2,272.5 388.4,271.8 C387.6,271.1 387.2,269.7 387.4,268.9 C387.6,268.1 389.5,267.6 389.4,267.0 C389.2,266.4 386.0,265.7 386.5,265.4 C387.0,265.1 389.6,265.4 392.2,265.0 C394.8,264.6 399.4,264.1 401.9,263.1 C404.4,262.1 405.9,260.9 407.2,259.0 C408.4,257.1 408.8,254.5 409.4,252.0 C410.0,249.5 410.5,246.2 410.8,244.0 C411.1,241.8 411.1,241.0 411.3,238.7 C411.5,236.4 411.8,232.3 412.0,230.0 C412.2,227.7 412.5,227.0 412.7,225.0 C412.9,223.0 412.9,220.3 413.0,218.0 C413.1,215.7 413.1,212.2 413.6,211.0Z" fill="#128ed2"/>
<polygon points="350.8,209.8 353.0,209.5 354.9,212.0 355.0,215.7 353.6,218.0 354.0,221.0 352.6,225.0 351.5,227.8 350.8,228.0" fill="#128ed2"/>
<path d="M350.8,279.5 C351.4,278.6 353.6,279.7 354.7,280.2 C355.8,280.7 357.8,281.8 357.6,282.6 C357.4,283.4 354.8,284.8 353.7,285.2 C352.6,285.6 351.3,286.2 350.8,285.3 C350.3,284.4 350.2,280.4 350.8,279.5Z" fill="#128ed2"/>
<text x="377.5" y="199.7" font-size="8.0" textLength="14.9" lengthAdjust="spacingAndGlyphs">HPC</text>
<text x="428.4" y="225.3" font-size="8.0" textLength="14.2" lengthAdjust="spacingAndGlyphs">Au1</text>
<circle cx="384.3" cy="207.4" r="2.4" fill="#5bb36a" stroke="#000" stroke-opacity="0.12" stroke-width="0.5"/>
<circle cx="438.6" cy="214.8" r="2.4" fill="#eb5f5b" stroke="#000" stroke-opacity="0.12" stroke-width="0.5"/>
<circle cx="436.4" cy="216.6" r="2.4" fill="#f0db68" stroke="#000" stroke-opacity="0.12" stroke-width="0.5"/>
<text x="415.0" y="293.6" font-size="8.0" textLength="32.0" lengthAdjust="spacingAndGlyphs">-4.20mm</text>
<rect x="459" y="158.2" width="21.5" height="288.2" fill="url(#cb)"/>
<text x="485.7" y="165.0" font-size="8.8" textLength="53.5" lengthAdjust="spacingAndGlyphs">&#8805; 10nM [DA]</text>
<text x="485.1" y="303.6" font-size="8.8" textLength="53.7" lengthAdjust="spacingAndGlyphs">50<tspan font-size="5.6" dy="-3.3">th</tspan><tspan dy="3.3"> quantile</tspan></text>
<text x="485.1" y="445.8" font-size="8.8" textLength="55.3" lengthAdjust="spacingAndGlyphs">0.03 nM [DA]</text>
<rect x="17.0" y="308.3" width="100.7" height="135.9" fill="#fff"/>
<path d="M17.0,308.3V444.2M29.6,308.3V444.2M42.2,308.3V444.2M54.8,308.3V444.2M67.4,308.3V444.2M80.0,308.3V444.2M92.6,308.3V444.2M105.2,308.3V444.2M17.0,320.8H117.7M17.0,333.3H117.7M17.0,345.8H117.7M17.0,358.3H117.7M17.0,370.8H117.7M17.0,383.3H117.7M17.0,395.8H117.7M17.0,408.3H117.7M17.0,420.8H117.7M17.0,433.3H117.7" stroke="#ebebeb" stroke-width="0.8" fill="none"/>
<rect x="128.0" y="308.3" width="100.2" height="135.9" fill="#fff"/>
<path d="M128.0,308.3V444.2M140.6,308.3V444.2M153.2,308.3V444.2M165.8,308.3V444.2M178.4,308.3V444.2M191.0,308.3V444.2M203.6,308.3V444.2M216.2,308.3V444.2M128.0,320.8H228.2M128.0,333.3H228.2M128.0,345.8H228.2M128.0,358.3H228.2M128.0,370.8H228.2M128.0,383.3H228.2M128.0,395.8H228.2M128.0,408.3H228.2M128.0,420.8H228.2M128.0,433.3H228.2" stroke="#ebebeb" stroke-width="0.8" fill="none"/>
<rect x="239.5" y="308.3" width="100.1" height="135.9" fill="#fff"/>
<path d="M239.5,308.3V444.2M252.1,308.3V444.2M264.7,308.3V444.2M277.3,308.3V444.2M289.9,308.3V444.2M302.5,308.3V444.2M315.1,308.3V444.2M327.7,308.3V444.2M239.5,320.8H339.6M239.5,333.3H339.6M239.5,345.8H339.6M239.5,358.3H339.6M239.5,370.8H339.6M239.5,383.3H339.6M239.5,395.8H339.6M239.5,408.3H339.6M239.5,420.8H339.6M239.5,433.3H339.6" stroke="#ebebeb" stroke-width="0.8" fill="none"/>
<rect x="347.0" y="308.3" width="102.8" height="135.9" fill="#fff"/>
<path d="M347.0,308.3V444.2M359.6,308.3V444.2M372.2,308.3V444.2M384.8,308.3V444.2M397.4,308.3V444.2M410.0,308.3V444.2M422.6,308.3V444.2M435.2,308.3V444.2M347.0,320.8H449.8M347.0,333.3H449.8M347.0,345.8H449.8M347.0,358.3H449.8M347.0,370.8H449.8M347.0,383.3H449.8M347.0,395.8H449.8M347.0,408.3H449.8M347.0,420.8H449.8M347.0,433.3H449.8" stroke="#ebebeb" stroke-width="0.8" fill="none"/>
<path d="M17.0,321.4 C17.8,320.4 19.0,317.0 21.7,315.6 C24.4,314.2 28.2,313.8 33.3,313.3 C38.4,312.8 46.1,312.1 52.5,312.7 C58.9,313.2 65.4,314.2 71.8,316.6 C78.2,319.0 85.5,322.9 91.0,327.2 C96.5,331.5 101.2,337.5 104.6,342.6 C108.0,347.7 109.9,353.2 111.3,358.0 C112.7,362.8 113.1,367.8 113.2,371.5 C113.3,375.2 113.0,377.1 112.0,380.0 C111.0,382.9 107.7,385.8 107.4,388.9 C107.1,392.0 109.9,395.3 110.3,398.5 C110.7,401.7 110.6,405.0 110.0,408.2 C109.4,411.4 108.4,414.8 106.5,417.8 C104.6,420.9 102.3,424.1 98.8,426.5 C95.3,428.9 89.8,431.0 85.3,432.3 C80.8,433.6 76.3,434.5 71.8,434.2 C67.3,433.9 61.5,432.4 58.3,430.3 C55.1,428.2 53.5,423.1 52.5,421.7" stroke="#9fcfe1" stroke-width="1.20" fill="none"/>
<path d="M52.5,421.7 C51.9,422.8 50.8,426.4 48.7,428.0 C46.6,429.6 43.5,430.3 40.0,431.0 C36.5,431.7 31.8,431.8 28.0,432.0 C24.2,432.2 18.8,432.0 17.0,432.0" stroke="#9fcfe1" stroke-width="1.20" fill="none"/>
<g class="tl" font-size="2.3"><text x="19.2" y="319.6">V2MM</text><text x="31.8" y="319.9">Sub</text><text x="53.5" y="318.7">Tu</text><text x="63.9" y="318.8">DG</text><text x="44.0" y="328.3">LSI</text><text x="56.3" y="327.4">Po</text><text x="68.6" y="327.1">SNR</text><text x="79.0" y="328.7">Pir</text><text x="87.3" y="328.4">MD</text><text x="32.1" y="337.6">Sub</text><text x="42.0" y="335.4">HDB</text><text x="55.0" y="338.7">LPO</text><text x="65.2" y="336.3">Cg1</text><text x="86.3" y="335.9">MS</text><text x="26.5" y="345.8">LSI</text><text x="45.4" y="345.9">mlf</text><text x="57.8" y="344.4">PBP</text><text x="70.1" y="347.2">LSI</text><text x="78.0" y="344.1">RSG</text><text x="92.1" y="346.9">S1FL</text><text x="20.3" y="353.8">Sub</text><text x="30.1" y="353.4">Rt</text><text x="64.2" y="355.9">IG</text><text x="73.7" y="356.2">S2</text><text x="88.4" y="353.6">ICj</text><text x="96.9" y="354.1">MnR</text><text x="26.3" y="364.0">RSA</text><text x="47.3" y="363.1">VPM</text><text x="56.4" y="362.8">DLG</text><text x="66.4" y="363.0">Pn</text><text x="80.9" y="363.9">RMC</text><text x="91.6" y="364.6">SC</text><text x="101.2" y="364.3">LEnt</text><text x="20.8" y="371.7">MnR</text><text x="31.1" y="372.0">V1</text><text x="41.5" y="370.4">SC</text><text x="53.4" y="371.7">CM</text><text x="65.2" y="373.0">SNC</text><text x="72.3" y="371.4">fr</text><text x="85.6" y="371.2">HDB</text><text x="105.4" y="372.4">PBP</text><text x="35.8" y="379.0">Re</text><text x="44.1" y="382.6">cp</text><text x="57.8" y="381.5">LV</text><text x="67.6" y="382.3">MD</text><text x="78.9" y="382.0">MnR</text><text x="100.4" y="380.3">Re</text><text x="20.8" y="389.6">S1J</text><text x="44.4" y="389.1">RSG</text><text x="53.6" y="388.1">ac</text><text x="66.8" y="388.4">st</text><text x="87.3" y="391.5">HDB</text><text x="97.3" y="391.5">LPO</text><text x="25.4" y="399.9">RMC</text><text x="35.5" y="399.5">HDB</text><text x="47.8" y="399.5">IPN</text><text x="70.5" y="398.2">fr</text><text x="91.1" y="398.2">MEnt</text><text x="103.3" y="399.9">Sub</text><text x="20.2" y="407.4">MS</text><text x="32.6" y="406.8">ZI</text><text x="42.3" y="407.2">MG</text><text x="53.1" y="406.4">ic</text><text x="64.2" y="407.5">MG</text><text x="85.1" y="409.0">PnO</text><text x="96.0" y="407.2">M1</text><text x="25.1" y="415.1">Rh</text><text x="37.5" y="417.6">DI</text><text x="46.1" y="414.2">LPO</text><text x="57.6" y="415.6">S1FL</text><text x="71.1" y="414.8">AcbC</text><text x="81.3" y="414.3">RSG</text><text x="91.9" y="414.8">RSG</text><text x="28.3" y="424.7">Pir</text><text x="42.2" y="424.1">opt</text><text x="63.8" y="426.1">VLG</text><text x="83.2" y="423.1">AcbSh</text><text x="70.0" y="431.8">S1BF</text></g>
<path d="M67.8,392.9 L66.4,379.0 L57.2,384.0 L63.3,393.4 L67.8,392.9ZM55.8,369.2 L52.8,370.1 L56.6,383.9 L57.2,384.0 L66.4,379.0 L66.1,375.9 L55.8,369.2ZM36.0,384.9 L45.9,384.7 L46.3,374.7 L35.7,373.9 L35.5,384.2 L36.0,384.9ZM34.5,363.8 L50.9,369.7 L51.0,369.7 L48.8,358.5 L45.0,358.0 L33.8,361.0 L34.5,363.8ZM18.0,425.3 L28.4,412.4 L17.0,405.7 L17.0,425.5 L18.0,425.3ZM55.8,369.2 L66.1,375.9 L66.0,375.0 L61.1,362.8 L55.8,369.2ZM49.3,389.4 L43.1,397.4 L46.0,404.2 L55.8,398.6 L49.3,389.4ZM44.5,411.1 L46.0,404.2 L43.1,397.4 L40.8,396.7 L33.9,400.2 L33.5,411.8 L44.5,411.1ZM45.9,384.7 L49.4,387.1 L56.6,383.9 L52.8,370.1 L51.0,369.7 L50.9,369.7 L46.3,374.7 L45.9,384.7ZM30.1,396.1 L33.9,400.2 L40.8,396.7 L35.1,387.9 L31.2,391.5 L30.1,396.1ZM58.6,399.2 L63.3,393.4 L57.2,384.0 L56.6,383.9 L49.4,387.1 L49.3,389.4 L55.8,398.6 L58.6,399.2ZM40.9,427.9 L50.7,416.3 L44.5,411.1 L33.5,411.8 L31.4,413.0 L31.7,415.7 L40.9,427.9ZM33.8,361.0 L30.0,362.0 L21.5,367.2 L24.8,374.4 L33.6,370.6 L34.5,363.8 L33.8,361.0ZM35.1,387.9 L40.8,396.7 L43.1,397.4 L49.3,389.4 L49.4,387.1 L45.9,384.7 L36.0,384.9 L35.1,387.9ZM17.0,425.5 L17.0,432.0 L28.0,432.0 L29.8,431.8 L28.5,429.0 L18.0,425.3 L17.0,425.5ZM46.3,374.7 L50.9,369.7 L34.5,363.8 L33.6,370.6 L35.7,373.9 L46.3,374.7ZM28.5,429.0 L31.7,415.7 L31.4,413.0 L28.4,412.4 L18.0,425.3 L28.5,429.0ZM33.5,411.8 L33.9,400.2 L30.1,396.1 L17.0,401.9 L17.0,405.7 L28.4,412.4 L31.4,413.0 L33.5,411.8ZM21.6,388.6 L27.7,382.3 L23.5,376.2 L17.0,378.1 L17.0,389.6 L21.6,388.6ZM55.6,418.5 L62.0,412.0 L64.6,404.5 L59.2,400.5 L53.1,417.0 L55.6,418.5ZM46.0,404.2 L44.5,411.1 L50.7,416.3 L53.1,417.0 L59.2,400.5 L58.6,399.2 L55.8,398.6 L46.0,404.2ZM35.7,373.9 L33.6,370.6 L24.8,374.4 L23.5,376.2 L27.7,382.3 L35.5,384.2 L35.7,373.9ZM27.7,382.3 L21.6,388.6 L31.2,391.5 L35.1,387.9 L36.0,384.9 L35.5,384.2 L27.7,382.3ZM51.0,369.7 L52.8,370.1 L55.8,369.2 L61.1,362.8 L60.0,360.0 L48.8,358.5 L51.0,369.7ZM21.6,388.6 L17.0,389.6 L17.0,401.9 L30.1,396.1 L31.2,391.5 L21.6,388.6ZM40.4,430.9 L48.7,428.0 L52.5,421.7 L55.6,418.5 L53.1,417.0 L50.7,416.3 L40.9,427.9 L40.4,430.9ZM23.5,376.2 L24.8,374.4 L21.5,367.2 L17.0,370.0 L17.0,378.1 L23.5,376.2ZM29.8,431.8 L40.0,431.0 L40.4,430.9 L40.9,427.9 L31.7,415.7 L28.5,429.0 L29.8,431.8ZM59.2,400.5 L64.6,404.5 L68.0,395.0 L67.8,392.9 L63.3,393.4 L58.6,399.2 L59.2,400.5Z" stroke="#c9e3ee" stroke-width="0.50" fill="none" stroke-linejoin="round"/>
<g class="tl" font-size="2.6"><text x="61.2" y="389.5">ml</text><text x="58.0" y="378.4">IC</text><text x="44.0" y="367.8">DG</text><text x="17.6" y="419.9">AcbSh</text><text x="60.1" y="373.1">MS</text><text x="46.7" y="394.4">mlf</text><text x="32.3" y="394.8">S1</text><text x="53.9" y="392.4">LV</text><text x="38.7" y="423.1">Pn</text><text x="25.6" y="369.9">M1</text><text x="39.9" y="394.0">V1</text><text x="17.8" y="428.2">S1</text><text x="18.3" y="386.4">Rh</text><text x="57.3" y="409.3">MS</text><text x="48.4" y="408.7">IG</text><text x="28.1" y="380.3">ic</text><text x="51.9" y="367.0">Tu</text><text x="21.3" y="394.8">PAG</text><text x="44.6" y="425.8">cp</text><text x="17.9" y="373.2">AcbC</text><text x="61.3" y="398.1">RSG</text></g>
<path d="M73.1,421.5 L68.9,417.7 L66.0,420.0 L60.0,430.0 L72.0,434.0 L72.4,434.0 L73.1,421.5ZM88.8,421.8 L85.7,425.2 L87.3,431.5 L98.8,426.5 L99.9,425.3 L94.1,420.0 L88.8,421.8ZM110.0,404.8 L110.0,398.0 L100.0,390.0 L96.9,391.0 L98.0,405.3 L104.7,406.9 L110.0,404.8ZM94.8,408.2 L89.7,407.2 L85.7,408.7 L88.8,421.8 L94.1,420.0 L97.0,416.4 L94.8,408.2ZM89.7,407.2 L94.8,408.2 L98.0,405.3 L96.9,391.0 L90.8,393.1 L89.7,407.2ZM73.1,421.5 L85.7,425.2 L88.8,421.8 L85.7,408.7 L80.3,407.0 L76.0,412.0 L68.9,417.7 L73.1,421.5ZM85.7,408.7 L89.7,407.2 L90.8,393.1 L85.0,395.0 L82.0,405.0 L80.3,407.0 L85.7,408.7ZM102.0,415.7 L104.7,406.9 L98.0,405.3 L94.8,408.2 L97.0,416.4 L102.0,415.7ZM106.3,418.0 L106.5,417.8 L110.0,408.0 L110.0,404.8 L104.7,406.9 L102.0,415.7 L106.3,418.0ZM73.1,421.5 L72.4,434.0 L85.3,432.3 L87.3,431.5 L85.7,425.2 L73.1,421.5ZM94.1,420.0 L99.9,425.3 L106.3,418.0 L102.0,415.7 L97.0,416.4 L94.1,420.0Z" stroke="#c9e3ee" stroke-width="0.50" fill="none" stroke-linejoin="round"/>
<g class="tl" font-size="2.6"><text x="65.2" y="426.7">ml</text><text x="90.1" y="426.9">M2</text><text x="91.4" y="400.2">PnO</text><text x="84.4" y="401.0">f</text><text x="97.0" y="413.0">Str</text><text x="77.1" y="429.3">Re</text><text x="97.1" y="423.6">AcbSh</text></g>
<path d="M17.0,342.4 C19.1,341.9 26.2,340.5 29.5,339.5 C32.8,338.5 34.4,337.5 36.8,336.5 C39.2,335.5 41.7,334.4 44.1,333.6 C46.5,332.8 47.8,331.7 51.4,331.5 C55.0,331.3 61.3,331.1 65.9,332.2 C70.5,333.3 75.4,335.8 79.0,338.0 C82.6,340.2 85.3,342.6 87.7,345.3 C90.1,348.0 92.0,350.6 93.5,354.0 C95.0,357.4 96.1,361.7 97.0,366.0 C97.9,370.3 98.7,377.7 99.0,380.0" stroke="#a8d2e6" stroke-width="0.80" fill="none"/>
<path d="M17.0,333.0 C20.0,332.2 28.7,329.5 35.0,328.5 C41.3,327.5 48.3,326.8 55.0,327.0 C61.7,327.2 69.2,328.2 75.0,330.0 C80.8,331.8 85.8,334.7 90.0,338.0 C94.2,341.3 97.7,345.7 100.0,350.0 C102.3,354.3 103.3,361.7 104.0,364.0" stroke="#bedde9" stroke-width="0.70" fill="none"/>
<path d="M20.8,356.9 C22.8,356.8 29.4,357.2 32.5,356.2 C35.6,355.2 38.1,353.4 39.7,351.1 C41.3,348.8 41.1,344.9 41.9,342.4 C42.7,339.9 43.3,337.4 44.5,336.3 C45.7,335.2 47.0,335.5 49.2,335.5 C51.4,335.5 54.7,335.7 57.5,336.5 C60.3,337.3 63.0,338.0 65.8,340.5 C68.6,343.0 72.1,347.4 74.2,351.7 C76.3,356.0 77.6,360.4 78.3,366.3 C79.0,372.2 78.8,381.2 78.5,387.1 C78.2,393.0 77.7,397.5 76.3,401.7 C74.9,405.9 72.4,409.3 70.0,412.1 C67.6,414.9 64.5,416.6 61.7,418.3 C58.9,420.0 54.7,421.8 53.3,422.5" stroke="#93c6dc" stroke-width="3.30" fill="none" stroke-linecap="round"/>
<path d="M20.8,356.9 C22.8,356.8 29.4,357.2 32.5,356.2 C35.6,355.2 38.1,353.4 39.7,351.1 C41.3,348.8 41.1,344.9 41.9,342.4 C42.7,339.9 43.3,337.4 44.5,336.3 C45.7,335.2 47.0,335.5 49.2,335.5 C51.4,335.5 54.7,335.7 57.5,336.5 C60.3,337.3 63.0,338.0 65.8,340.5 C68.6,343.0 72.1,347.4 74.2,351.7 C76.3,356.0 77.6,360.4 78.3,366.3 C79.0,372.2 78.8,381.2 78.5,387.1 C78.2,393.0 77.7,397.5 76.3,401.7 C74.9,405.9 72.4,409.3 70.0,412.1 C67.6,414.9 64.5,416.6 61.7,418.3 C58.9,420.0 54.7,421.8 53.3,422.5" stroke="#d9edf5" stroke-width="2.00" fill="none" stroke-linecap="round"/>
<path d="M44.1,356.9 C44.8,356.3 46.6,354.5 48.5,353.3 C50.4,352.1 53.5,350.5 55.7,349.6 C57.9,348.8 59.7,347.2 61.7,348.2 C63.7,349.2 66.4,352.1 67.9,355.8 C69.5,359.5 70.5,365.2 71.0,370.4 C71.5,375.6 71.3,382.6 71.0,387.1 C70.7,391.6 70.0,394.4 69.0,397.5 C68.0,400.6 65.5,404.4 64.8,405.8" stroke="#93c6dc" stroke-width="2.80" fill="none" stroke-linecap="round"/>
<path d="M44.1,356.9 C44.8,356.3 46.6,354.5 48.5,353.3 C50.4,352.1 53.5,350.5 55.7,349.6 C57.9,348.8 59.7,347.2 61.7,348.2 C63.7,349.2 66.4,352.1 67.9,355.8 C69.5,359.5 70.5,365.2 71.0,370.4 C71.5,375.6 71.3,382.6 71.0,387.1 C70.7,391.6 70.0,394.4 69.0,397.5 C68.0,400.6 65.5,404.4 64.8,405.8" stroke="#d9edf5" stroke-width="1.50" fill="none" stroke-linecap="round"/>
<path d="M23.7,361.3 C25.9,360.8 32.9,359.1 36.8,358.4 C40.7,357.7 45.3,357.1 47.0,356.9" stroke="#9ccbe2" stroke-width="0.90" fill="none"/>
<path d="M17.0,347.0 C19.1,347.1 25.9,347.6 29.5,347.5 C33.0,347.4 36.8,346.8 38.3,346.7" stroke="#b0d6e8" stroke-width="0.60" fill="none"/>
<path d="M80.4,347.5 C81.1,350.6 83.5,359.0 84.6,366.3 C85.6,373.6 86.0,385.4 86.7,391.3 C87.4,397.2 88.8,398.6 88.8,401.7 C88.8,404.8 87.0,408.6 86.7,410.0" stroke="#9ccbe2" stroke-width="0.90" fill="none"/>
<path d="M30.0,370.0 C31.7,367.0 36.7,365.7 40.0,366.0 C43.3,366.3 48.0,368.7 50.0,372.0 C52.0,375.3 52.7,382.3 52.0,386.0 C51.3,389.7 48.7,393.0 46.0,394.0 C43.3,395.0 38.7,393.7 36.0,392.0 C33.3,390.3 31.0,387.7 30.0,384.0 C29.0,380.3 28.3,373.0 30.0,370.0Z" stroke="#bedde9" stroke-width="0.60" fill="none"/>
<path d="M17.0,400.0 C18.8,400.7 24.5,402.0 28.0,404.0 C31.5,406.0 35.3,409.3 38.0,412.0 C40.7,414.7 42.3,417.3 44.0,420.0 C45.7,422.7 47.3,426.7 48.0,428.0" stroke="#bedde9" stroke-width="0.60" fill="none"/>
<path d="M21.7,315.6 C22.7,318.2 26.5,328.4 27.5,331.0" stroke="#bedde9" stroke-width="0.60" fill="none"/>
<path d="M52.5,312.7 C52.1,315.8 50.4,327.9 50.0,331.0" stroke="#bedde9" stroke-width="0.60" fill="none"/>
<path d="M71.8,316.6 C70.8,319.3 67.0,330.3 66.0,333.0" stroke="#bedde9" stroke-width="0.60" fill="none"/>
<path d="M91.0,327.2 C89.2,329.3 81.8,337.9 80.0,340.0" stroke="#bedde9" stroke-width="0.60" fill="none"/>
<path d="M104.6,342.6 C102.5,343.8 94.1,348.8 92.0,350.0" stroke="#bedde9" stroke-width="0.60" fill="none"/>
<path d="M111.3,358.0 C109.2,358.7 101.0,361.3 99.0,362.0" stroke="#bedde9" stroke-width="0.60" fill="none"/>
<path d="M113.0,372.0 C111.2,372.3 103.8,373.7 102.0,374.0" stroke="#bedde9" stroke-width="0.60" fill="none"/>
<path d="M110.0,398.0 C108.3,397.7 101.7,396.3 100.0,396.0" stroke="#bedde9" stroke-width="0.60" fill="none"/>
<path d="M106.5,417.8 C104.8,416.8 97.8,413.0 96.0,412.0" stroke="#bedde9" stroke-width="0.60" fill="none"/>
<polygon points="17.0,354.2 24.6,360.9 17.0,367.7" fill="#128ed2"/>
<rect x="17" y="367" width="1.3" height="24" fill="#8cc6e6"/>
<polygon points="83.5,355.8 86.5,362.0 90.0,372.0 92.9,387.0 91.0,384.0 87.5,372.0 84.5,363.0" fill="#128ed2"/>
<polygon points="65.8,420.4 78.3,415.2 88.8,411.0 92.9,407.9 90.0,412.0 80.0,417.5 68.0,421.8" fill="#7fbfe6"/>
<circle cx="26.6" cy="400.7" r="2.4" fill="#f0db68" stroke="#000" stroke-opacity="0.12" stroke-width="0.5"/>
<circle cx="106.1" cy="409.1" r="2.4" fill="#eb5f5b" stroke="#000" stroke-opacity="0.12" stroke-width="0.5"/>
<text x="99.3" y="419.5" font-size="8.0" textLength="13.7" lengthAdjust="spacingAndGlyphs">ENT</text>
<text x="83.6" y="441.6" font-size="8.0" textLength="31.9" lengthAdjust="spacingAndGlyphs">-4.80mm</text>
<path d="M128.0,324.5 C128.3,323.8 129.1,321.1 130.0,320.0 C130.9,318.9 130.7,318.7 133.2,317.7 C135.7,316.7 140.4,314.8 145.0,314.0 C149.6,313.2 155.5,312.6 160.5,312.7 C165.5,312.8 170.5,313.7 175.0,314.5 C179.5,315.3 183.5,316.1 187.7,317.7 C191.9,319.3 196.2,321.4 200.0,324.0 C203.8,326.6 207.5,330.4 210.5,333.6 C213.5,336.8 215.8,339.6 218.0,343.0 C220.2,346.4 222.6,350.6 224.0,354.0 C225.4,357.4 226.2,360.3 226.6,363.3 C227.0,366.3 226.7,368.1 226.4,372.0 C226.1,375.9 226.4,381.0 225.0,386.5 C223.6,392.0 221.1,400.1 218.0,405.1 C214.9,410.1 210.3,413.8 206.4,416.7 C202.5,419.6 199.1,421.4 194.8,422.6 C190.5,423.8 184.7,424.1 180.8,423.7 C176.9,423.3 174.0,421.4 171.5,420.2 C169.0,419.0 166.7,417.3 165.7,416.7" stroke="#9fcfe1" stroke-width="1.20" fill="none"/>
<path d="M165.7,416.7 C164.7,417.3 162.8,419.4 159.9,420.2 C157.0,421.0 152.2,421.4 148.3,421.4 C144.4,421.4 140.0,420.6 136.6,420.2 C133.2,419.8 129.4,419.2 128.0,419.0" stroke="#9fcfe1" stroke-width="1.20" fill="none"/>
<g class="tl" font-size="2.3"><text x="130.2" y="321.0">ZI</text><text x="151.9" y="319.8">S1BF</text><text x="186.8" y="319.9">MS</text><text x="136.2" y="328.5">LD</text><text x="148.5" y="328.1">RSG</text><text x="159.5" y="327.7">Pir</text><text x="170.8" y="327.4">LEnt</text><text x="179.0" y="328.4">S2</text><text x="128.0" y="337.4">Ect</text><text x="140.1" y="336.1">APT</text><text x="152.8" y="335.4">cc</text><text x="160.8" y="336.8">sm</text><text x="185.8" y="336.6">fr</text><text x="195.4" y="335.8">PV</text><text x="206.0" y="338.4">fr</text><text x="134.2" y="344.3">M2</text><text x="148.1" y="345.0">VP</text><text x="156.3" y="344.5">M2</text><text x="169.4" y="345.2">PV</text><text x="203.3" y="344.7">DLG</text><text x="139.8" y="355.3">MD</text><text x="164.8" y="353.0">AM</text><text x="183.7" y="352.6">S1BF</text><text x="194.9" y="352.7">ns</text><text x="207.1" y="353.0">S1BF</text><text x="219.8" y="355.1">Rh</text><text x="138.0" y="365.0">PnO</text><text x="149.5" y="365.2">VLG</text><text x="158.0" y="361.6">Tu</text><text x="172.7" y="361.6">ac</text><text x="183.3" y="364.2">PAG</text><text x="205.2" y="363.0">Str</text><text x="215.0" y="363.8">Rh</text><text x="151.2" y="371.9">f</text><text x="159.7" y="373.1">MD</text><text x="181.9" y="373.2">V2MM</text><text x="193.4" y="370.1">AM</text><text x="135.6" y="379.7">Rt</text><text x="147.5" y="380.4">ml</text><text x="155.8" y="379.4">ac</text><text x="168.8" y="382.7">HDB</text><text x="191.3" y="380.4">ml</text><text x="201.8" y="382.3">cp</text><text x="221.1" y="381.7">SNC</text><text x="131.1" y="390.3">ic</text><text x="140.0" y="391.0">ICj</text><text x="154.0" y="391.6">S2</text><text x="176.7" y="390.4">V2L</text><text x="184.9" y="390.6">opt</text><text x="197.7" y="388.4">MnR</text><text x="208.0" y="391.5">MS</text><text x="135.6" y="399.4">RSG</text><text x="143.7" y="400.0">mt</text><text x="156.2" y="400.0">PAG</text><text x="166.7" y="399.1">GI</text><text x="190.8" y="398.6">cp</text><text x="198.9" y="399.4">GP</text><text x="209.2" y="398.3">PRh</text><text x="129.8" y="408.5">IPN</text><text x="143.3" y="409.0">Sub</text><text x="155.2" y="407.4">S1J</text><text x="173.9" y="406.2">MEnt</text><text x="187.9" y="407.5">ZI</text><text x="198.9" y="407.5">Pn</text><text x="134.3" y="415.2">APT</text><text x="145.3" y="416.1">S1</text><text x="176.6" y="414.5">opt</text><text x="199.7" y="415.1">PAG</text></g>
<path d="M152.3,364.4 L153.2,378.2 L157.7,380.5 L165.1,377.8 L160.0,366.0 L152.5,364.0 L152.3,364.4ZM168.0,400.0 L166.7,386.7 L160.8,387.8 L159.0,392.1 L161.7,398.8 L168.0,400.0ZM148.4,396.2 L137.2,391.1 L136.1,392.0 L136.3,396.7 L146.0,408.4 L149.9,402.1 L148.4,396.2ZM138.4,381.2 L140.6,370.9 L136.9,369.2 L128.0,373.1 L128.0,376.5 L138.4,381.2ZM153.2,378.2 L152.3,364.4 L140.6,370.9 L138.4,381.2 L140.1,384.3 L147.7,383.1 L153.2,378.2ZM160.8,387.8 L157.7,380.5 L153.2,378.2 L147.7,383.1 L152.4,391.3 L159.0,392.1 L160.8,387.8ZM130.2,405.9 L141.5,411.3 L145.2,411.1 L145.9,410.5 L146.0,408.4 L136.3,396.7 L130.2,405.9ZM166.7,386.7 L166.0,380.0 L165.1,377.8 L157.7,380.5 L160.8,387.8 L166.7,386.7ZM158.0,413.6 L166.7,410.0 L168.0,400.0 L168.0,400.0 L161.7,398.8 L160.5,399.8 L158.0,413.6ZM136.9,369.2 L134.4,363.9 L128.0,365.0 L128.0,373.1 L136.9,369.2ZM145.2,411.1 L141.5,411.3 L129.2,419.2 L136.6,420.2 L144.3,421.0 L145.2,411.1ZM128.0,391.3 L128.0,406.7 L130.2,405.9 L136.3,396.7 L136.1,392.0 L128.0,391.3ZM158.0,413.6 L157.5,414.1 L159.6,420.0 L160.0,420.0 L166.0,416.0 L166.7,410.0 L158.0,413.6ZM149.9,402.1 L146.0,408.4 L145.9,410.5 L157.5,414.1 L158.0,413.6 L160.5,399.8 L149.9,402.1ZM147.7,383.1 L140.1,384.3 L137.2,391.1 L148.4,396.2 L152.4,391.3 L147.7,383.1ZM145.2,411.1 L144.3,421.0 L148.0,421.4 L159.6,420.0 L157.5,414.1 L145.9,410.5 L145.2,411.1ZM136.9,369.2 L140.6,370.9 L152.3,364.4 L152.5,364.0 L145.0,362.0 L134.4,363.9 L136.9,369.2ZM136.1,392.0 L137.2,391.1 L140.1,384.3 L138.4,381.2 L128.0,376.5 L128.0,391.3 L136.1,392.0ZM141.5,411.3 L130.2,405.9 L128.0,406.7 L128.0,419.0 L129.2,419.2 L141.5,411.3ZM161.7,398.8 L159.0,392.1 L152.4,391.3 L148.4,396.2 L149.9,402.1 L160.5,399.8 L161.7,398.8Z" stroke="#c9e3ee" stroke-width="0.50" fill="none" stroke-linejoin="round"/>
<g class="tl" font-size="2.6"><text x="155.2" y="372.9">ml</text><text x="161.4" y="396.5">SC</text><text x="141.4" y="400.4">mt</text><text x="131.4" y="375.8">ZI</text><text x="143.9" y="375.6">cp</text><text x="134.2" y="402.3">fr</text><text x="161.0" y="406.0">PV</text><text x="137.6" y="416.2">M2</text><text x="128.1" y="402.3">ns</text><text x="159.5" y="416.1">AID</text><text x="151.2" y="406.3">st</text><text x="142.0" y="388.7">mt</text><text x="149.1" y="418.1">LD</text><text x="131.1" y="383.7">IG</text><text x="152.5" y="398.5">PRh</text></g>
<path d="M131.0,347.0 C132.5,345.8 135.5,341.9 140.0,340.0 C144.5,338.1 151.0,336.2 158.2,335.9 C165.4,335.6 176.0,336.3 183.2,338.2 C190.4,340.1 196.5,343.5 201.4,347.3 C206.3,351.1 210.3,356.1 212.7,360.9 C215.1,365.7 215.8,370.8 216.0,376.0 C216.2,381.2 215.3,387.3 214.0,392.0 C212.7,396.7 209.0,402.0 208.0,404.0" stroke="#bedde9" stroke-width="0.70" fill="none"/>
<path d="M128.0,333.0 C130.0,332.5 135.0,330.8 140.0,330.0 C145.0,329.2 151.3,328.0 158.0,328.0 C164.7,328.0 173.3,328.7 180.0,330.0 C186.7,331.3 193.0,333.3 198.0,336.0 C203.0,338.7 208.0,344.3 210.0,346.0" stroke="#bedde9" stroke-width="0.60" fill="none"/>
<path d="M128.6,354.0 C132.0,353.8 143.3,352.6 149.0,353.0 C154.7,353.4 159.6,354.7 162.7,356.4 C165.8,358.1 166.5,362.1 167.3,363.2" stroke="#a8d2e6" stroke-width="0.90" fill="none"/>
<path d="M128.6,360.0 C131.5,359.8 141.1,358.7 146.0,359.0 C150.9,359.3 155.0,360.5 158.0,362.0 C161.0,363.5 162.7,365.0 164.0,368.0 C165.3,371.0 165.7,378.0 166.0,380.0" stroke="#a8d2e6" stroke-width="0.90" fill="none"/>
<path d="M176.3,347.5 C179.2,347.7 189.5,346.4 193.9,348.6 C198.3,350.8 200.8,355.4 202.6,360.7 C204.4,366.0 205.2,373.8 205.0,380.4 C204.8,387.0 203.3,395.1 201.5,400.2 C199.7,405.3 197.0,408.4 193.9,411.1 C190.8,413.8 184.7,415.7 182.9,416.6" stroke="#8ec4de" stroke-width="1.00" fill="none"/>
<path d="M171.9,354.1 C174.2,353.8 181.8,351.4 186.0,352.0 C190.2,352.6 194.6,354.7 197.0,358.0 C199.4,361.3 199.8,367.3 200.4,372.0 C201.0,376.7 201.0,381.7 200.4,386.0 C199.8,390.3 198.9,394.5 197.0,398.0 C195.1,401.5 190.3,405.5 189.0,407.0" stroke="#9ccbe2" stroke-width="0.90" fill="none"/>
<path d="M166.4,360.7 C166.4,362.6 166.2,368.0 166.2,372.0 C166.2,376.0 166.0,379.7 166.4,384.8 C166.8,389.9 167.7,398.4 168.6,402.4 C169.5,406.4 170.0,407.1 171.9,409.0 C173.8,410.9 178.7,413.2 180.0,414.0" stroke="#9ccbe2" stroke-width="0.90" fill="none"/>
<path d="M180.0,343.0 C183.3,343.4 195.0,343.2 200.0,345.5 C205.0,347.8 207.6,351.2 210.0,357.0 C212.4,362.8 214.2,372.8 214.5,380.0 C214.8,387.2 213.4,394.5 211.5,400.0 C209.6,405.5 206.6,409.8 203.0,413.0 C199.4,416.2 192.2,418.4 190.0,419.5" stroke="#9ccbe2" stroke-width="0.90" fill="none"/>
<path d="M168.0,388.0 C168.5,390.3 169.0,398.0 171.0,402.0 C173.0,406.0 176.2,409.8 180.0,412.0 C183.8,414.2 189.7,415.3 194.0,415.0 C198.3,414.7 204.0,410.8 206.0,410.0" stroke="#a8d2e6" stroke-width="0.90" fill="none"/>
<path d="M170.8,358.5 C172.1,358.3 175.9,356.7 178.5,357.4 C181.1,358.1 184.2,360.1 186.2,362.9 C188.2,365.6 189.5,370.2 190.6,373.9 C191.7,377.5 192.4,381.8 192.5,384.8 C192.6,387.8 191.2,390.8 191.0,392.0" stroke="#93c6dc" stroke-width="3.50" fill="none" stroke-linecap="round"/>
<path d="M170.8,358.5 C172.1,358.3 175.9,356.7 178.5,357.4 C181.1,358.1 184.2,360.1 186.2,362.9 C188.2,365.6 189.5,370.2 190.6,373.9 C191.7,377.5 192.4,381.8 192.5,384.8 C192.6,387.8 191.2,390.8 191.0,392.0" stroke="#d9edf5" stroke-width="2.20" fill="none" stroke-linecap="round"/>
<path d="M171.5,361.0 C171.7,362.7 171.7,367.5 172.5,371.0 C173.3,374.5 175.2,378.3 176.5,382.0 C177.8,385.7 179.9,389.7 180.5,393.0 C181.1,396.3 180.1,400.5 180.0,402.0" stroke="#93c6dc" stroke-width="2.70" fill="none" stroke-linecap="round"/>
<path d="M171.5,361.0 C171.7,362.7 171.7,367.5 172.5,371.0 C173.3,374.5 175.2,378.3 176.5,382.0 C177.8,385.7 179.9,389.7 180.5,393.0 C181.1,396.3 180.1,400.5 180.0,402.0" stroke="#d9edf5" stroke-width="1.40" fill="none" stroke-linecap="round"/>
<path d="M167.5,406.8 C168.6,407.3 170.8,408.9 174.1,410.0 C177.4,411.1 182.9,413.5 187.3,413.3 C191.7,413.1 198.2,409.7 200.4,409.0" stroke="#93c6dc" stroke-width="2.50" fill="none" stroke-linecap="round"/>
<path d="M167.5,406.8 C168.6,407.3 170.8,408.9 174.1,410.0 C177.4,411.1 182.9,413.5 187.3,413.3 C191.7,413.1 198.2,409.7 200.4,409.0" stroke="#d9edf5" stroke-width="1.20" fill="none" stroke-linecap="round"/>
<path d="M130.0,372.0 C132.0,372.7 138.7,373.7 142.0,376.0 C145.3,378.3 148.3,382.0 150.0,386.0 C151.7,390.0 152.3,395.7 152.0,400.0 C151.7,404.3 150.0,409.0 148.0,412.0 C146.0,415.0 141.3,417.0 140.0,418.0" stroke="#bedde9" stroke-width="0.60" fill="none"/>
<path d="M140.0,388.0 C141.7,387.3 145.0,390.0 146.0,392.0 C147.0,394.0 147.0,398.3 146.0,400.0 C145.0,401.7 141.7,402.7 140.0,402.0 C138.3,401.3 136.0,398.3 136.0,396.0 C136.0,393.7 138.3,388.7 140.0,388.0Z" stroke="#bedde9" stroke-width="0.60" fill="none"/>
<path d="M154.0,372.0 C155.0,373.3 158.7,376.0 160.0,380.0 C161.3,384.0 162.0,391.3 162.0,396.0 C162.0,400.7 161.0,404.7 160.0,408.0 C159.0,411.3 156.7,414.7 156.0,416.0" stroke="#bedde9" stroke-width="0.60" fill="none"/>
<path d="M133.2,317.7 C133.7,320.1 135.5,329.6 136.0,332.0" stroke="#bedde9" stroke-width="0.60" fill="none"/>
<path d="M160.5,312.7 C160.1,315.2 158.4,325.4 158.0,328.0" stroke="#bedde9" stroke-width="0.60" fill="none"/>
<path d="M187.7,317.7 C186.8,319.8 182.9,327.9 182.0,330.0" stroke="#bedde9" stroke-width="0.60" fill="none"/>
<path d="M210.5,333.6 C208.8,334.7 201.8,338.9 200.0,340.0" stroke="#bedde9" stroke-width="0.60" fill="none"/>
<path d="M224.0,354.0 C221.7,354.3 212.3,355.7 210.0,356.0" stroke="#bedde9" stroke-width="0.60" fill="none"/>
<path d="M226.0,375.0 C224.0,375.2 216.0,375.8 214.0,376.0" stroke="#bedde9" stroke-width="0.60" fill="none"/>
<path d="M222.0,396.0 C220.3,395.7 213.7,394.3 212.0,394.0" stroke="#bedde9" stroke-width="0.60" fill="none"/>
<rect x="128" y="374" width="1.3" height="6" fill="#128ed2"/>
<text x="185.0" y="398.6" font-size="8.0" textLength="14.9" lengthAdjust="spacingAndGlyphs">HPC</text>
<circle cx="186.2" cy="365.1" r="2.4" fill="#eb5f5b" stroke="#000" stroke-opacity="0.12" stroke-width="0.5"/>
<circle cx="136.2" cy="396.5" r="2.4" fill="#eb5f5b" stroke="#000" stroke-opacity="0.12" stroke-width="0.5"/>
<circle cx="136.6" cy="401.6" r="2.4" fill="#f39e5e" stroke="#000" stroke-opacity="0.12" stroke-width="0.5"/>
<circle cx="157.1" cy="407.4" r="2.4" fill="#eb5f5b" stroke="#000" stroke-opacity="0.12" stroke-width="0.5"/>
<circle cx="157.6" cy="410.9" r="2.4" fill="#ef7552" stroke="#000" stroke-opacity="0.12" stroke-width="0.5"/>
<circle cx="155.2" cy="412.6" r="2.4" fill="#ef7552" stroke="#000" stroke-opacity="0.12" stroke-width="0.5"/>
<circle cx="157.6" cy="414.0" r="2.4" fill="#f39e5e" stroke="#000" stroke-opacity="0.12" stroke-width="0.5"/>
<circle cx="192.0" cy="406.7" r="2.4" fill="#eb5f5b" stroke="#000" stroke-opacity="0.12" stroke-width="0.5"/>
<circle cx="186.6" cy="410.5" r="2.4" fill="#eb5f5b" stroke="#000" stroke-opacity="0.12" stroke-width="0.5"/>
<path d="M137.8,429.5L136.6,414.3" stroke="#111" stroke-width="1.70"/>
<polygon points="136.2,409.8 138.9,414.6 134.3,415.0" fill="#111"/>
<path d="M161.0,429.5L160.0,421.2" stroke="#111" stroke-width="1.70"/>
<polygon points="159.4,416.7 162.3,421.4 157.7,421.9" fill="#111"/>
<text x="130.8" y="438.8" font-size="8.0" textLength="14.7" lengthAdjust="spacingAndGlyphs">VTA</text>
<text x="155.9" y="438.8" font-size="8.0" textLength="8.6" lengthAdjust="spacingAndGlyphs">SN</text>
<text x="192.4" y="441.8" font-size="8.0" textLength="33.1" lengthAdjust="spacingAndGlyphs">-6.00mm</text>
<path d="M241.5,338.0 C241.8,336.2 241.9,330.2 243.0,327.0 C244.1,323.8 246.3,320.9 248.3,319.0 C250.3,317.1 251.8,316.4 255.0,315.5 C258.2,314.6 263.2,313.8 267.7,313.7 C272.2,313.6 276.9,314.0 282.0,314.8 C287.1,315.6 293.6,316.6 298.4,318.3 C303.2,320.0 307.4,322.4 311.0,325.0 C314.6,327.6 317.2,330.3 319.9,333.6 C322.6,336.9 324.9,340.9 327.0,345.0 C329.1,349.1 330.9,354.0 332.2,358.2 C333.4,362.4 334.0,365.9 334.5,370.0 C335.0,374.1 335.4,378.5 335.2,382.8 C334.9,387.1 334.0,391.9 333.0,396.0 C332.0,400.1 330.8,404.3 329.1,407.3 C327.4,410.3 325.1,411.9 323.0,414.0 C320.9,416.1 319.3,418.1 316.8,419.6 C314.3,421.1 311.1,422.2 308.0,423.0 C304.9,423.8 301.4,424.2 298.4,424.2 C295.4,424.2 292.6,423.8 290.0,423.0 C287.4,422.2 285.1,421.1 283.1,419.6 C281.1,418.1 278.9,414.9 278.0,414.0" stroke="#9fcfe1" stroke-width="1.20" fill="none"/>
<g class="tl" font-size="2.3"><text x="253.2" y="318.3">PRh</text><text x="275.5" y="318.3">S1J</text><text x="287.1" y="319.7">Re</text><text x="263.8" y="327.6">Tu</text><text x="273.2" y="330.6">AcbC</text><text x="284.2" y="329.1">CM</text><text x="294.7" y="329.5">mlf</text><text x="306.2" y="329.7">ic</text><text x="245.2" y="336.4">SC</text><text x="255.0" y="338.2">LPO</text><text x="264.6" y="339.2">Sub</text><text x="275.6" y="338.6">VPM</text><text x="289.6" y="336.3">LPO</text><text x="297.8" y="337.0">Str</text><text x="309.9" y="338.4">RSG</text><text x="249.7" y="348.7">mt</text><text x="261.2" y="345.5">CM</text><text x="270.8" y="345.8">PAG</text><text x="282.5" y="347.9">CA1</text><text x="305.8" y="344.8">PRh</text><text x="317.3" y="345.6">V1</text><text x="255.3" y="356.0">IPN</text><text x="268.3" y="355.6">VPL</text><text x="278.4" y="355.6">Cg1</text><text x="299.2" y="354.5">AcbSh</text><text x="323.4" y="356.5">PV</text><text x="259.4" y="363.8">SHi</text><text x="282.5" y="364.4">Pn</text><text x="293.0" y="365.1">Ect</text><text x="304.6" y="365.1">AV</text><text x="314.3" y="363.1">fr</text><text x="325.2" y="362.6">Pir</text><text x="277.0" y="371.2">S1J</text><text x="288.5" y="371.3">RSG</text><text x="308.5" y="372.5">Rt</text><text x="322.3" y="372.3">ICj</text><text x="279.6" y="382.1">fr</text><text x="291.8" y="381.7">S2</text><text x="302.9" y="382.6">M1</text><text x="313.0" y="381.9">SNC</text><text x="276.3" y="391.9">ICj</text><text x="297.5" y="391.8">AV</text><text x="308.7" y="390.1">Str</text><text x="328.8" y="389.5">Ect</text><text x="302.4" y="398.7">HDB</text><text x="276.3" y="406.3">fr</text><text x="288.9" y="408.8">VLG</text><text x="309.0" y="409.7">SHi</text><text x="321.9" y="409.7">RMC</text><text x="283.0" y="418.8">st</text><text x="304.6" y="418.9">LD</text></g>
<g class="tl" font-size="2.3"><text x="239.9" y="357.9">LP</text><text x="252.1" y="358.3">cp</text><text x="246.5" y="367.4">sm</text><text x="256.6" y="368.4">DG</text><text x="242.1" y="377.0">VPM</text><text x="252.0" y="375.3">Re</text><text x="262.6" y="374.3">LP</text><text x="244.7" y="383.3">SC</text><text x="256.3" y="384.2">PAG</text><text x="242.3" y="393.8">MG</text><text x="255.8" y="393.0">SC</text><text x="246.7" y="401.8">Pir</text><text x="259.7" y="403.8">Sub</text><text x="240.4" y="409.7">ml</text><text x="251.0" y="411.7">LSI</text><text x="247.6" y="419.3">M2</text></g>
<path d="M252.5,397.4 L247.9,404.5 L248.2,409.9 L257.4,406.7 L257.5,400.6 L252.5,397.4ZM249.6,374.0 L250.4,373.5 L251.2,369.2 L244.2,350.0 L239.5,350.0 L239.5,370.5 L249.6,374.0ZM249.1,388.1 L250.7,390.0 L260.8,380.9 L260.5,377.8 L250.4,373.5 L249.6,374.0 L248.9,375.4 L249.1,388.1ZM251.5,391.2 L250.7,390.1 L239.8,397.7 L247.9,404.5 L252.5,397.4 L251.5,391.2ZM267.4,370.5 L265.4,363.5 L251.2,369.2 L250.4,373.5 L260.5,377.8 L267.4,370.5ZM247.7,411.1 L248.2,409.9 L247.9,404.5 L239.8,397.7 L239.5,397.7 L239.5,409.8 L247.7,411.1ZM268.1,388.2 L262.9,392.9 L262.8,398.9 L266.4,402.3 L268.0,400.0 L269.2,388.2 L268.1,388.2ZM250.7,390.0 L250.7,390.1 L251.5,391.2 L262.9,392.9 L268.1,388.2 L260.8,380.9 L250.7,390.0ZM239.5,409.8 L239.5,430.0 L248.0,425.0 L250.5,422.3 L247.7,411.1 L239.5,409.8ZM251.2,369.2 L265.4,363.5 L265.0,362.0 L255.0,350.0 L244.2,350.0 L251.2,369.2ZM249.1,388.1 L248.9,375.4 L239.5,380.5 L239.5,385.2 L249.1,388.1ZM262.8,398.9 L262.9,392.9 L251.5,391.2 L252.5,397.4 L257.5,400.6 L262.8,398.9ZM239.8,397.7 L250.7,390.1 L250.7,390.0 L249.1,388.1 L239.5,385.2 L239.5,397.7 L239.8,397.7ZM262.8,398.9 L257.5,400.6 L257.4,406.7 L262.1,408.9 L266.4,402.3 L262.8,398.9ZM260.5,377.8 L260.8,380.9 L268.1,388.2 L269.2,388.2 L270.0,380.0 L267.4,370.5 L260.5,377.8ZM257.4,406.7 L248.2,409.9 L247.7,411.1 L250.5,422.3 L260.0,412.0 L262.1,408.9 L257.4,406.7ZM249.6,374.0 L239.5,370.5 L239.5,380.5 L248.9,375.4 L249.6,374.0Z" stroke="#c9e3ee" stroke-width="0.50" fill="none" stroke-linejoin="round"/>
<g class="tl" font-size="2.6"><text x="250.8" y="403.5">VPL</text><text x="241.1" y="360.6">fr</text><text x="250.4" y="385.5">AcbC</text><text x="245.8" y="395.3">opt</text><text x="255.8" y="373.0">S1J</text><text x="239.2" y="402.1">f</text><text x="263.1" y="396.9">PRh</text><text x="258.1" y="385.5">M1</text><text x="241.8" y="417.7">S1J</text><text x="250.7" y="357.0">PRh</text><text x="241.8" y="383.9">cp</text><text x="239.9" y="394.9">SNR</text><text x="249.8" y="418.1">S1J</text><text x="239.4" y="379.0">PBP</text></g>
<path d="M241.5,338.0 C242.8,337.5 246.6,335.5 249.3,335.2 C252.1,334.9 254.9,335.5 258.0,336.0 C261.1,336.5 264.6,337.1 267.7,338.2 C270.8,339.3 274.6,340.5 276.9,342.8 C279.2,345.1 280.5,347.9 281.5,352.0 C282.5,356.1 282.8,362.2 283.1,367.4 C283.4,372.6 283.5,377.9 283.5,383.0 C283.5,388.1 283.6,393.9 283.1,398.1 C282.6,402.3 281.4,405.4 280.5,408.0 C279.6,410.6 278.4,413.0 278.0,414.0" stroke="#8ec4de" stroke-width="1.00" fill="none"/>
<path d="M280.5,341.3 C283.3,342.6 292.5,345.7 297.4,349.0 C302.3,352.3 306.6,356.7 309.7,361.3 C312.8,365.9 314.5,371.5 315.8,376.6 C317.1,381.7 317.6,386.9 317.4,392.0 C317.1,397.1 314.8,404.8 314.3,407.3" stroke="#8ec4de" stroke-width="0.90" fill="none"/>
<path d="M239.5,338.0 C241.2,338.0 246.6,337.0 250.0,338.0 C253.4,339.0 257.2,341.0 260.0,344.0 C262.8,347.0 265.3,351.3 267.0,356.0 C268.7,360.7 269.8,366.3 270.0,372.0 C270.2,377.7 269.3,384.7 268.0,390.0 C266.7,395.3 264.3,399.7 262.0,404.0 C259.7,408.3 257.0,412.3 254.0,416.0 C251.0,419.7 246.4,423.7 244.0,426.0 C241.6,428.3 240.2,429.3 239.5,430.0" stroke="#9ccbe2" stroke-width="0.90" fill="none"/>
<path d="M239.5,346.0 C241.2,346.0 246.9,344.7 250.0,346.0 C253.1,347.3 256.0,350.3 258.0,354.0 C260.0,357.7 261.3,362.7 262.0,368.0 C262.7,373.3 263.0,380.3 262.0,386.0 C261.0,391.7 258.7,397.3 256.0,402.0 C253.3,406.7 247.7,412.0 246.0,414.0" stroke="#b0d6e8" stroke-width="0.60" fill="none"/>
<path d="M239.5,354.0 C240.9,354.3 245.6,354.0 248.0,356.0 C250.4,358.0 253.0,361.3 254.0,366.0 C255.0,370.7 255.0,378.7 254.0,384.0 C253.0,389.3 249.0,395.7 248.0,398.0" stroke="#b0d6e8" stroke-width="0.60" fill="none"/>
<circle cx="275.9" cy="419.6" r="4" fill="none" stroke="#bedde9" stroke-width="0.7"/>
<circle cx="269" cy="422" r="3" fill="none" stroke="#bedde9" stroke-width="0.7"/>
<path d="M255.0,315.5 C255.2,318.8 255.8,331.8 256.0,335.0" stroke="#bedde9" stroke-width="0.60" fill="none"/>
<path d="M279.0,314.5 C278.5,318.8 276.5,335.8 276.0,340.0" stroke="#bedde9" stroke-width="0.60" fill="none"/>
<path d="M302.0,322.0 C301.0,326.3 297.0,343.7 296.0,348.0" stroke="#bedde9" stroke-width="0.60" fill="none"/>
<path d="M320.0,337.0 C318.0,340.5 310.0,354.5 308.0,358.0" stroke="#bedde9" stroke-width="0.60" fill="none"/>
<path d="M329.0,356.0 C326.5,358.3 316.5,367.7 314.0,370.0" stroke="#bedde9" stroke-width="0.60" fill="none"/>
<path d="M332.5,380.0 C329.9,380.3 319.6,381.7 317.0,382.0" stroke="#bedde9" stroke-width="0.60" fill="none"/>
<path d="M329.0,398.0 C326.8,398.0 318.2,398.0 316.0,398.0" stroke="#bedde9" stroke-width="0.60" fill="none"/>
<path d="M320.0,412.0 C318.7,411.0 313.3,407.0 312.0,406.0" stroke="#bedde9" stroke-width="0.60" fill="none"/>
<path d="M286.0,356.0 C288.3,356.7 297.7,359.3 300.0,360.0" stroke="#bedde9" stroke-width="0.60" fill="none"/>
<path d="M284.0,380.0 C289.3,380.0 310.7,380.0 316.0,380.0" stroke="#bedde9" stroke-width="0.60" fill="none"/>
<rect x="239.5" y="339.5" width="1.5" height="3" fill="#128ed2"/>
<polygon points="239.5,372.0 243.5,375.0 242.0,379.0 239.5,380.0" fill="#128ed2"/>
<text x="320.4" y="370.5" font-size="8.0" textLength="13.8" lengthAdjust="spacingAndGlyphs">TeA</text>
<text x="301.4" y="404.9" font-size="8.0" textLength="13.8" lengthAdjust="spacingAndGlyphs">ENT</text>
<circle cx="314.3" cy="364.3" r="2.4" fill="#eb5f5b" stroke="#000" stroke-opacity="0.12" stroke-width="0.5"/>
<circle cx="311.2" cy="368.3" r="2.4" fill="#f0db68" stroke="#000" stroke-opacity="0.12" stroke-width="0.5"/>
<circle cx="312.1" cy="382.8" r="2.4" fill="#eb5f5b" stroke="#000" stroke-opacity="0.12" stroke-width="0.5"/>
<circle cx="305.1" cy="411.9" r="2.4" fill="#eb5f5b" stroke="#000" stroke-opacity="0.12" stroke-width="0.5"/>
<text x="305.1" y="441.6" font-size="8.0" textLength="32.2" lengthAdjust="spacingAndGlyphs">-7.08mm</text>
<path d="M360.9,329.0 C361.1,326.4 361.6,323.1 363.9,321.3 C366.2,319.5 369.8,318.7 374.7,318.3 C379.6,317.9 387.0,317.4 393.1,318.9 C399.2,320.4 406.1,323.5 411.5,327.5 C416.9,331.5 421.7,337.2 425.3,342.8 C428.9,348.4 431.3,355.1 433.0,361.2 C434.7,367.3 435.7,374.0 435.4,379.6 C435.1,385.2 433.6,390.9 431.4,395.0 C429.2,399.1 426.0,401.9 422.2,404.2 C418.4,406.5 412.2,408.3 408.4,408.8 C404.6,409.3 401.8,408.5 399.2,407.2 C396.6,405.9 394.6,404.2 393.1,401.1 C391.6,398.0 391.0,394.4 390.0,388.8 C389.0,383.2 388.4,373.4 386.9,367.3 C385.4,361.2 383.4,356.3 380.8,352.0 C378.2,347.7 374.7,343.9 371.6,341.3 C368.5,338.8 364.2,338.8 362.4,336.7 C360.6,334.6 360.6,331.6 360.9,329.0Z" stroke="#9fcfe1" stroke-width="1.20" fill="none"/>
<path d="M347.0,341.3 C348.6,340.9 352.7,339.4 356.3,339.1 C359.9,338.8 364.7,338.6 368.5,339.7 C372.3,340.8 376.2,342.8 379.3,345.9 C382.4,349.0 385.1,353.0 386.9,358.1 C388.7,363.2 389.2,370.0 390.0,376.6 C390.8,383.2 390.5,392.9 391.5,398.0 C392.5,403.1 394.8,405.1 396.1,407.2 C397.4,409.2 399.2,408.8 399.2,410.3 C399.2,411.8 398.2,414.1 396.1,416.4 C394.1,418.7 390.5,421.5 386.9,424.1 C383.3,426.7 378.8,429.8 374.7,431.8 C370.6,433.9 366.5,435.4 362.4,436.4 C358.3,437.4 352.7,437.6 350.1,437.9 C347.5,438.1 347.5,437.9 347.0,437.9" stroke="#9fcfe1" stroke-width="1.20" fill="none"/>
<g class="tl" font-size="2.3"><text x="371.8" y="323.8">Po</text><text x="384.6" y="323.6">VPL</text><text x="396.0" y="323.0">CM</text><text x="367.4" y="333.4">CA3</text><text x="389.8" y="335.6">S1FL</text><text x="401.1" y="334.3">MD</text><text x="412.7" y="335.6">mt</text><text x="373.7" y="342.0">PRh</text><text x="384.8" y="341.0">LP</text><text x="396.5" y="344.0">DI</text><text x="401.8" y="352.7">Tu</text><text x="415.6" y="352.1">Str</text><text x="423.8" y="351.8">PV</text><text x="392.7" y="359.8">f</text><text x="416.7" y="360.2">SNC</text><text x="425.6" y="359.3">MD</text><text x="390.8" y="367.5">opt</text><text x="402.5" y="368.8">MEnt</text><text x="414.7" y="368.4">MS</text><text x="425.4" y="367.9">VPL</text><text x="393.2" y="377.3">ac</text><text x="406.4" y="375.7">ic</text><text x="416.8" y="379.7">AcbSh</text><text x="427.2" y="377.4">AcbC</text><text x="412.9" y="384.7">DI</text><text x="423.8" y="384.7">f</text><text x="399.1" y="393.5">LP</text><text x="408.9" y="397.0">Re</text><text x="419.4" y="393.5">AcbC</text><text x="400.0" y="402.2">S2</text><text x="412.8" y="403.2">IPN</text></g>
<g class="tl" font-size="2.3"><text x="349.5" y="344.1">mlf</text><text x="360.5" y="344.2">cc</text><text x="371.2" y="344.6">S1J</text><text x="357.3" y="355.4">VPM</text><text x="367.3" y="355.8">M2</text><text x="378.6" y="355.6">IG</text><text x="349.4" y="363.7">f</text><text x="360.7" y="363.8">MS</text><text x="378.8" y="364.2">LEnt</text><text x="355.9" y="371.9">S1FL</text><text x="374.2" y="370.7">fr</text><text x="347.1" y="382.0">AcbSh</text><text x="358.8" y="382.1">RSG</text><text x="371.7" y="380.7">PBP</text><text x="383.6" y="379.5">Cg1</text><text x="351.5" y="389.2">Po</text><text x="363.2" y="389.2">Ect</text><text x="351.5" y="398.5">MS</text><text x="371.5" y="399.3">AV</text><text x="354.0" y="406.5">PV</text><text x="377.6" y="406.5">AM</text><text x="385.1" y="408.1">Rt</text><text x="348.2" y="416.4">SHi</text><text x="360.7" y="416.4">PAG</text><text x="370.5" y="415.8">mlf</text><text x="392.3" y="414.4">DG</text><text x="352.1" y="423.2">LP</text><text x="350.0" y="435.1">Rt</text><text x="360.5" y="433.8">SNR</text></g>
<path d="M347.0,420.5 L347.0,433.7 L353.8,424.6 L353.5,423.6 L347.0,420.5ZM368.2,371.6 L387.7,369.7 L387.0,365.0 L384.9,360.5 L371.1,362.7 L367.4,368.6 L368.2,371.6ZM364.8,408.6 L365.1,408.6 L367.7,392.8 L360.2,393.0 L357.0,404.2 L364.8,408.6ZM367.9,372.3 L361.3,377.1 L361.5,379.2 L369.6,389.3 L373.0,380.7 L367.9,372.3ZM361.2,436.1 L362.0,436.0 L375.0,432.0 L377.3,430.5 L373.8,427.3 L362.5,430.4 L361.2,436.1ZM395.6,409.0 L392.0,400.0 L391.6,397.3 L387.5,395.0 L381.4,395.2 L380.1,403.3 L389.4,410.3 L395.6,409.0ZM382.9,415.2 L389.4,410.3 L380.1,403.3 L375.3,404.2 L369.9,410.4 L373.6,415.7 L382.9,415.2ZM361.5,379.2 L361.3,377.1 L359.0,376.1 L347.0,380.2 L347.0,383.3 L349.6,384.9 L357.6,384.7 L361.5,379.2ZM364.0,358.3 L357.5,354.9 L352.5,360.1 L355.1,365.1 L363.8,365.5 L364.0,358.3ZM364.8,408.6 L357.0,404.2 L347.0,404.5 L347.0,411.2 L357.7,416.4 L358.5,416.2 L364.8,408.6ZM353.8,424.6 L347.0,433.7 L347.0,438.0 L361.2,436.1 L362.5,430.4 L362.1,429.4 L353.8,424.6ZM359.9,392.9 L357.6,384.7 L349.6,384.9 L354.1,392.9 L359.9,392.9ZM352.5,360.1 L357.5,354.9 L359.0,343.7 L347.0,345.0 L347.0,359.2 L352.5,360.1ZM382.9,415.2 L373.6,415.7 L372.9,417.9 L373.8,427.3 L377.3,430.5 L384.7,425.5 L382.9,415.2ZM359.0,376.1 L354.5,368.6 L347.0,372.8 L347.0,380.2 L359.0,376.1ZM380.1,403.3 L381.4,395.2 L376.5,391.6 L371.1,391.7 L375.3,404.2 L380.1,403.3ZM373.6,415.7 L369.9,410.4 L365.1,408.6 L364.8,408.6 L358.5,416.2 L363.3,422.1 L372.9,417.9 L373.6,415.7ZM387.5,395.0 L386.8,378.5 L376.5,391.6 L381.4,395.2 L387.5,395.0ZM368.2,371.6 L367.9,372.3 L373.0,380.7 L387.2,377.6 L388.6,375.8 L387.7,369.7 L368.2,371.6ZM368.5,356.6 L371.1,362.7 L384.9,360.5 L380.0,350.0 L374.2,347.3 L368.5,356.6ZM389.4,410.3 L382.9,415.2 L384.7,425.5 L387.0,424.0 L396.0,410.0 L395.6,409.0 L389.4,410.3ZM363.3,422.1 L358.5,416.2 L357.7,416.4 L353.5,423.6 L353.8,424.6 L362.1,429.4 L363.3,422.1ZM367.7,392.8 L369.9,391.4 L369.6,389.3 L361.5,379.2 L357.6,384.7 L359.9,392.9 L360.2,393.0 L367.7,392.8ZM387.2,377.6 L386.8,378.5 L387.5,395.0 L391.6,397.3 L390.0,385.0 L388.6,375.8 L387.2,377.6ZM369.9,410.4 L375.3,404.2 L371.1,391.7 L369.9,391.4 L367.7,392.8 L365.1,408.6 L369.9,410.4ZM354.5,368.6 L355.1,365.1 L352.5,360.1 L347.0,359.2 L347.0,372.8 L354.5,368.6ZM354.1,392.9 L349.6,384.9 L347.0,383.3 L347.0,399.4 L354.1,392.9ZM347.0,411.2 L347.0,420.5 L353.5,423.6 L357.7,416.4 L347.0,411.2ZM362.5,430.4 L373.8,427.3 L372.9,417.9 L363.3,422.1 L362.1,429.4 L362.5,430.4ZM357.5,354.9 L364.0,358.3 L368.5,356.6 L374.2,347.3 L365.0,343.0 L359.0,343.7 L357.5,354.9ZM363.8,365.5 L355.1,365.1 L354.5,368.6 L359.0,376.1 L361.3,377.1 L367.9,372.3 L368.2,371.6 L367.4,368.6 L363.8,365.5ZM373.0,380.7 L369.6,389.3 L369.9,391.4 L371.1,391.7 L376.5,391.6 L386.8,378.5 L387.2,377.6 L373.0,380.7ZM371.1,362.7 L368.5,356.6 L364.0,358.3 L363.8,365.5 L367.4,368.6 L371.1,362.7ZM360.2,393.0 L359.9,392.9 L354.1,392.9 L347.0,399.4 L347.0,404.5 L357.0,404.2 L360.2,393.0Z" stroke="#c9e3ee" stroke-width="0.50" fill="none" stroke-linejoin="round"/>
<g class="tl" font-size="2.6"><text x="346.2" y="430.2">ac</text><text x="375.4" y="367.8">SNR</text><text x="360.2" y="399.6">LSI</text><text x="366.2" y="386.0">S1J</text><text x="366.7" y="432.2">Rh</text><text x="384.0" y="402.6">DG</text><text x="376.5" y="408.3">PV</text><text x="350.8" y="382.7">IPN</text><text x="352.9" y="410.9">M1</text><text x="352.7" y="433.1">VPL</text><text x="350.1" y="351.0">AM</text><text x="376.1" y="422.7">CM</text><text x="350.0" y="375.4">Pn</text><text x="374.7" y="400.2">GP</text><text x="363.9" y="414.1">S1J</text><text x="381.9" y="386.1">Rh</text><text x="376.2" y="375.1">S1</text><text x="373.5" y="354.3">mlf</text><text x="384.2" y="420.6">VPL</text><text x="356.1" y="423.9">AM</text><text x="360.5" y="388.0">PRh</text><text x="386.5" y="391.0">f</text><text x="367.6" y="399.5">V2L</text><text x="348.4" y="367.8">SNR</text><text x="346.9" y="389.9">cc</text><text x="349.3" y="419.4">Ect</text><text x="359.1" y="371.1">GI</text><text x="374.0" y="386.0">V2MM</text><text x="364.6" y="361.5">LD</text><text x="352.4" y="397.2">ZI</text></g>
<path d="M376.0,320.0 C377.8,324.0 383.3,336.0 387.0,344.0 C390.7,352.0 396.2,364.0 398.0,368.0" stroke="#bedde9" stroke-width="0.60" fill="none"/>
<path d="M393.0,319.0 C393.8,323.0 396.5,335.2 398.0,343.0 C399.5,350.8 401.3,362.2 402.0,366.0" stroke="#bedde9" stroke-width="0.60" fill="none"/>
<path d="M411.5,327.5 C410.9,330.8 409.2,340.4 408.0,347.0 C406.8,353.6 404.7,363.7 404.0,367.0" stroke="#bedde9" stroke-width="0.60" fill="none"/>
<path d="M425.0,343.0 C423.3,345.2 418.2,351.5 415.0,356.0 C411.8,360.5 407.5,367.7 406.0,370.0" stroke="#bedde9" stroke-width="0.60" fill="none"/>
<path d="M433.0,361.0 C430.8,362.0 424.2,364.8 420.0,367.0 C415.8,369.2 410.0,372.8 408.0,374.0" stroke="#bedde9" stroke-width="0.60" fill="none"/>
<path d="M435.4,379.6 C433.2,379.5 426.4,379.3 422.0,379.0 C417.6,378.7 411.2,378.2 409.0,378.0" stroke="#bedde9" stroke-width="0.60" fill="none"/>
<path d="M431.4,395.0 C429.5,394.0 423.9,391.0 420.0,389.0 C416.1,387.0 410.0,384.0 408.0,383.0" stroke="#bedde9" stroke-width="0.60" fill="none"/>
<path d="M422.0,404.0 C420.7,402.5 416.7,398.0 414.0,395.0 C411.3,392.0 407.3,387.5 406.0,386.0" stroke="#bedde9" stroke-width="0.60" fill="none"/>
<path d="M347.0,356.0 C348.5,355.3 352.8,352.0 356.0,352.0 C359.2,352.0 362.7,354.0 366.0,356.0 C369.3,358.0 373.3,360.7 376.0,364.0 C378.7,367.3 381.0,374.0 382.0,376.0" stroke="#bedde9" stroke-width="0.60" fill="none"/>
<path d="M362.0,360.0 C364.3,357.7 369.3,362.7 372.0,366.0 C374.7,369.3 377.3,375.0 378.0,380.0 C378.7,385.0 377.7,392.0 376.0,396.0 C374.3,400.0 370.7,403.7 368.0,404.0 C365.3,404.3 361.7,402.0 360.0,398.0 C358.3,394.0 357.7,386.3 358.0,380.0 C358.3,373.7 359.7,362.3 362.0,360.0Z" stroke="#bedde9" stroke-width="0.60" fill="none"/>
<path d="M347.0,396.0 C349.2,396.7 355.8,398.3 360.0,400.0 C364.2,401.7 368.7,403.7 372.0,406.0 C375.3,408.3 377.7,411.0 380.0,414.0 C382.3,417.0 385.0,422.3 386.0,424.0" stroke="#bedde9" stroke-width="0.60" fill="none"/>
<path d="M356.0,412.0 C357.7,409.7 363.3,410.7 366.0,412.0 C368.7,413.3 372.0,417.3 372.0,420.0 C372.0,422.7 368.7,427.0 366.0,428.0 C363.3,429.0 357.7,428.7 356.0,426.0 C354.3,423.3 354.3,414.3 356.0,412.0Z" stroke="#bedde9" stroke-width="0.60" fill="none"/>
<path d="M347.0,420.0 C348.5,420.7 353.5,422.0 356.0,424.0 C358.5,426.0 361.0,430.7 362.0,432.0" stroke="#bedde9" stroke-width="0.60" fill="none"/>
<path d="M347.0,329.0 C347.7,326.5 349.8,329.0 351.0,329.4 C352.2,329.8 353.5,330.2 354.5,331.5 C355.5,332.8 357.0,335.2 357.0,337.0 C357.0,338.8 355.5,341.3 354.5,342.5 C353.5,343.7 352.2,344.0 351.0,344.3 C349.8,344.6 347.7,347.1 347.0,344.5 C346.3,341.9 346.3,331.5 347.0,329.0Z" fill="#4fa9e0"/>
<path d="M347.0,367.5 C347.7,365.3 349.8,367.0 351.0,367.2 C352.2,367.4 353.7,367.7 354.5,368.5 C355.3,369.3 355.8,370.7 356.0,372.0 C356.2,373.3 356.2,375.2 356.0,376.5 C355.8,377.8 355.4,378.8 354.5,379.5 C353.6,380.2 351.8,380.3 350.5,380.5 C349.2,380.7 347.6,382.7 347.0,380.5 C346.4,378.3 346.3,369.7 347.0,367.5Z" fill="#128ed2"/>
<circle cx="349.8" cy="380.9" r="2.4" fill="#f0db68" stroke="#000" stroke-opacity="0.12" stroke-width="0.5"/>
<circle cx="354.3" cy="383.2" r="2.4" fill="#f0db68" stroke="#000" stroke-opacity="0.12" stroke-width="0.5"/>
<circle cx="352.0" cy="381.8" r="2.4" fill="#f0db68" stroke="#000" stroke-opacity="0.12" stroke-width="0.5"/>
<text x="345.2" y="391.6" font-size="8.0" textLength="10.3" lengthAdjust="spacingAndGlyphs">DR</text>
<text x="415.0" y="441.9" font-size="8.0" textLength="32.0" lengthAdjust="spacingAndGlyphs">-8.04mm</text>
<path d="M16.4,7.6H107.6M107.6,7.6V146.2H16.4" stroke="#a4a4a4" stroke-width="1.2" fill="none"/>
<path d="M16.4,7.6v-2.6M16.4,146.2v2.6M29.3,7.6v-2.6M29.3,146.2v2.6M42.3,7.6v-2.6M42.3,146.2v2.6M55.2,7.6v-2.6M55.2,146.2v2.6M68.2,7.6v-2.6M68.2,146.2v2.6M81.2,7.6v-2.6M81.2,146.2v2.6M94.1,7.6v-2.6M94.1,146.2v2.6M107.6,7.6h2.4M107.6,21.4h2.4M107.6,35.2h2.4M107.6,49.0h2.4M107.6,62.8h2.4M107.6,76.6h2.4M107.6,90.4h2.4M107.6,104.2h2.4M107.6,118.0h2.4M107.6,131.8h2.4" stroke="#b0b0b0" stroke-width="0.7" fill="none"/>
<path d="M16.4,7.6v-1.2M16.4,146.2v1.2M19.0,7.6v-1.2M19.0,146.2v1.2M21.6,7.6v-1.2M21.6,146.2v1.2M24.2,7.6v-1.2M24.2,146.2v1.2M26.8,7.6v-1.2M26.8,146.2v1.2M29.3,7.6v-1.2M29.3,146.2v1.2M31.9,7.6v-1.2M31.9,146.2v1.2M34.5,7.6v-1.2M34.5,146.2v1.2M37.1,7.6v-1.2M37.1,146.2v1.2M39.7,7.6v-1.2M39.7,146.2v1.2M42.3,7.6v-1.2M42.3,146.2v1.2M44.9,7.6v-1.2M44.9,146.2v1.2M47.5,7.6v-1.2M47.5,146.2v1.2M50.1,7.6v-1.2M50.1,146.2v1.2M52.7,7.6v-1.2M52.7,146.2v1.2M55.3,7.6v-1.2M55.3,146.2v1.2M57.8,7.6v-1.2M57.8,146.2v1.2M60.4,7.6v-1.2M60.4,146.2v1.2M63.0,7.6v-1.2M63.0,146.2v1.2M65.6,7.6v-1.2M65.6,146.2v1.2M68.2,7.6v-1.2M68.2,146.2v1.2M70.8,7.6v-1.2M70.8,146.2v1.2M73.4,7.6v-1.2M73.4,146.2v1.2M76.0,7.6v-1.2M76.0,146.2v1.2M78.6,7.6v-1.2M78.6,146.2v1.2M81.2,7.6v-1.2M81.2,146.2v1.2M83.7,7.6v-1.2M83.7,146.2v1.2M86.3,7.6v-1.2M86.3,146.2v1.2M88.9,7.6v-1.2M88.9,146.2v1.2M91.5,7.6v-1.2M91.5,146.2v1.2M94.1,7.6v-1.2M94.1,146.2v1.2M96.7,7.6v-1.2M96.7,146.2v1.2M99.3,7.6v-1.2M99.3,146.2v1.2M101.9,7.6v-1.2M101.9,146.2v1.2M104.5,7.6v-1.2M104.5,146.2v1.2M107.6,7.6h1.2M107.6,10.4h1.2M107.6,13.1h1.2M107.6,15.9h1.2M107.6,18.6h1.2M107.6,21.4h1.2M107.6,24.2h1.2M107.6,26.9h1.2M107.6,29.7h1.2M107.6,32.4h1.2M107.6,35.2h1.2M107.6,38.0h1.2M107.6,40.7h1.2M107.6,43.5h1.2M107.6,46.2h1.2M107.6,49.0h1.2M107.6,51.8h1.2M107.6,54.5h1.2M107.6,57.3h1.2M107.6,60.0h1.2M107.6,62.8h1.2M107.6,65.6h1.2M107.6,68.3h1.2M107.6,71.1h1.2M107.6,73.8h1.2M107.6,76.6h1.2M107.6,79.4h1.2M107.6,82.1h1.2M107.6,84.9h1.2M107.6,87.6h1.2M107.6,90.4h1.2M107.6,93.2h1.2M107.6,95.9h1.2M107.6,98.7h1.2M107.6,101.4h1.2M107.6,104.2h1.2M107.6,107.0h1.2M107.6,109.7h1.2M107.6,112.5h1.2M107.6,115.2h1.2M107.6,118.0h1.2M107.6,120.8h1.2M107.6,123.5h1.2M107.6,126.3h1.2M107.6,129.0h1.2M107.6,131.8h1.2M107.6,134.6h1.2M107.6,137.3h1.2M107.6,140.1h1.2M107.6,142.8h1.2" stroke="#c4c4c4" stroke-width="0.5" fill="none"/>
<path d="M117.5,7.6H212.5M212.5,7.6V146.2H117.5" stroke="#a4a4a4" stroke-width="1.2" fill="none"/>
<path d="M117.5,7.6v-2.6M117.5,146.2v2.6M129.3,7.6v-2.6M129.3,146.2v2.6M141.2,7.6v-2.6M141.2,146.2v2.6M153.0,7.6v-2.6M153.0,146.2v2.6M164.8,7.6v-2.6M164.8,146.2v2.6M176.7,7.6v-2.6M176.7,146.2v2.6M188.5,7.6v-2.6M188.5,146.2v2.6M200.3,7.6v-2.6M200.3,146.2v2.6M212.5,7.6h2.4M212.5,20.4h2.4M212.5,33.1h2.4M212.5,45.9h2.4M212.5,58.6h2.4M212.5,71.3h2.4M212.5,84.1h2.4M212.5,96.8h2.4M212.5,109.6h2.4M212.5,122.3h2.4M212.5,135.1h2.4" stroke="#b0b0b0" stroke-width="0.7" fill="none"/>
<path d="M117.5,7.6v-1.2M117.5,146.2v1.2M119.9,7.6v-1.2M119.9,146.2v1.2M122.2,7.6v-1.2M122.2,146.2v1.2M124.6,7.6v-1.2M124.6,146.2v1.2M127.0,7.6v-1.2M127.0,146.2v1.2M129.3,7.6v-1.2M129.3,146.2v1.2M131.7,7.6v-1.2M131.7,146.2v1.2M134.1,7.6v-1.2M134.1,146.2v1.2M136.4,7.6v-1.2M136.4,146.2v1.2M138.8,7.6v-1.2M138.8,146.2v1.2M141.2,7.6v-1.2M141.2,146.2v1.2M143.5,7.6v-1.2M143.5,146.2v1.2M145.9,7.6v-1.2M145.9,146.2v1.2M148.3,7.6v-1.2M148.3,146.2v1.2M150.6,7.6v-1.2M150.6,146.2v1.2M153.0,7.6v-1.2M153.0,146.2v1.2M155.4,7.6v-1.2M155.4,146.2v1.2M157.7,7.6v-1.2M157.7,146.2v1.2M160.1,7.6v-1.2M160.1,146.2v1.2M162.5,7.6v-1.2M162.5,146.2v1.2M164.8,7.6v-1.2M164.8,146.2v1.2M167.2,7.6v-1.2M167.2,146.2v1.2M169.6,7.6v-1.2M169.6,146.2v1.2M171.9,7.6v-1.2M171.9,146.2v1.2M174.3,7.6v-1.2M174.3,146.2v1.2M176.7,7.6v-1.2M176.7,146.2v1.2M179.0,7.6v-1.2M179.0,146.2v1.2M181.4,7.6v-1.2M181.4,146.2v1.2M183.7,7.6v-1.2M183.7,146.2v1.2M186.1,7.6v-1.2M186.1,146.2v1.2M188.5,7.6v-1.2M188.5,146.2v1.2M190.8,7.6v-1.2M190.8,146.2v1.2M193.2,7.6v-1.2M193.2,146.2v1.2M195.6,7.6v-1.2M195.6,146.2v1.2M197.9,7.6v-1.2M197.9,146.2v1.2M200.3,7.6v-1.2M200.3,146.2v1.2M202.7,7.6v-1.2M202.7,146.2v1.2M205.0,7.6v-1.2M205.0,146.2v1.2M207.4,7.6v-1.2M207.4,146.2v1.2M209.8,7.6v-1.2M209.8,146.2v1.2M212.5,7.6h1.2M212.5,10.1h1.2M212.5,12.7h1.2M212.5,15.2h1.2M212.5,17.8h1.2M212.5,20.4h1.2M212.5,22.9h1.2M212.5,25.5h1.2M212.5,28.0h1.2M212.5,30.6h1.2M212.5,33.1h1.2M212.5,35.6h1.2M212.5,38.2h1.2M212.5,40.7h1.2M212.5,43.3h1.2M212.5,45.8h1.2M212.5,48.4h1.2M212.5,50.9h1.2M212.5,53.5h1.2M212.5,56.0h1.2M212.5,58.6h1.2M212.5,61.1h1.2M212.5,63.7h1.2M212.5,66.2h1.2M212.5,68.8h1.2M212.5,71.3h1.2M212.5,73.9h1.2M212.5,76.4h1.2M212.5,79.0h1.2M212.5,81.5h1.2M212.5,84.1h1.2M212.5,86.6h1.2M212.5,89.2h1.2M212.5,91.7h1.2M212.5,94.3h1.2M212.5,96.8h1.2M212.5,99.4h1.2M212.5,101.9h1.2M212.5,104.5h1.2M212.5,107.0h1.2M212.5,109.6h1.2M212.5,112.1h1.2M212.5,114.7h1.2M212.5,117.2h1.2M212.5,119.8h1.2M212.5,122.3h1.2M212.5,124.9h1.2M212.5,127.4h1.2M212.5,130.0h1.2M212.5,132.5h1.2M212.5,135.1h1.2M212.5,137.6h1.2M212.5,140.2h1.2M212.5,142.7h1.2" stroke="#c4c4c4" stroke-width="0.5" fill="none"/>
<path d="M221.8,7.6H322.8M322.8,7.6V146.2H221.8" stroke="#a4a4a4" stroke-width="1.2" fill="none"/>
<path d="M221.8,7.6v-2.6M221.8,146.2v2.6M234.4,7.6v-2.6M234.4,146.2v2.6M247.0,7.6v-2.6M247.0,146.2v2.6M259.6,7.6v-2.6M259.6,146.2v2.6M272.2,7.6v-2.6M272.2,146.2v2.6M284.8,7.6v-2.6M284.8,146.2v2.6M297.4,7.6v-2.6M297.4,146.2v2.6M310.0,7.6v-2.6M310.0,146.2v2.6M322.8,7.6h2.4M322.8,20.4h2.4M322.8,33.2h2.4M322.8,46.0h2.4M322.8,58.8h2.4M322.8,71.6h2.4M322.8,84.4h2.4M322.8,97.2h2.4M322.8,110.0h2.4M322.8,122.8h2.4M322.8,135.6h2.4" stroke="#b0b0b0" stroke-width="0.7" fill="none"/>
<path d="M221.8,7.6v-1.2M221.8,146.2v1.2M224.3,7.6v-1.2M224.3,146.2v1.2M226.8,7.6v-1.2M226.8,146.2v1.2M229.4,7.6v-1.2M229.4,146.2v1.2M231.9,7.6v-1.2M231.9,146.2v1.2M234.4,7.6v-1.2M234.4,146.2v1.2M236.9,7.6v-1.2M236.9,146.2v1.2M239.4,7.6v-1.2M239.4,146.2v1.2M242.0,7.6v-1.2M242.0,146.2v1.2M244.5,7.6v-1.2M244.5,146.2v1.2M247.0,7.6v-1.2M247.0,146.2v1.2M249.5,7.6v-1.2M249.5,146.2v1.2M252.0,7.6v-1.2M252.0,146.2v1.2M254.6,7.6v-1.2M254.6,146.2v1.2M257.1,7.6v-1.2M257.1,146.2v1.2M259.6,7.6v-1.2M259.6,146.2v1.2M262.1,7.6v-1.2M262.1,146.2v1.2M264.6,7.6v-1.2M264.6,146.2v1.2M267.2,7.6v-1.2M267.2,146.2v1.2M269.7,7.6v-1.2M269.7,146.2v1.2M272.2,7.6v-1.2M272.2,146.2v1.2M274.7,7.6v-1.2M274.7,146.2v1.2M277.2,7.6v-1.2M277.2,146.2v1.2M279.8,7.6v-1.2M279.8,146.2v1.2M282.3,7.6v-1.2M282.3,146.2v1.2M284.8,7.6v-1.2M284.8,146.2v1.2M287.3,7.6v-1.2M287.3,146.2v1.2M289.8,7.6v-1.2M289.8,146.2v1.2M292.4,7.6v-1.2M292.4,146.2v1.2M294.9,7.6v-1.2M294.9,146.2v1.2M297.4,7.6v-1.2M297.4,146.2v1.2M299.9,7.6v-1.2M299.9,146.2v1.2M302.4,7.6v-1.2M302.4,146.2v1.2M305.0,7.6v-1.2M305.0,146.2v1.2M307.5,7.6v-1.2M307.5,146.2v1.2M310.0,7.6v-1.2M310.0,146.2v1.2M312.5,7.6v-1.2M312.5,146.2v1.2M315.0,7.6v-1.2M315.0,146.2v1.2M317.6,7.6v-1.2M317.6,146.2v1.2M320.1,7.6v-1.2M320.1,146.2v1.2M322.8,7.6h1.2M322.8,10.2h1.2M322.8,12.7h1.2M322.8,15.3h1.2M322.8,17.8h1.2M322.8,20.4h1.2M322.8,23.0h1.2M322.8,25.5h1.2M322.8,28.1h1.2M322.8,30.6h1.2M322.8,33.2h1.2M322.8,35.8h1.2M322.8,38.3h1.2M322.8,40.9h1.2M322.8,43.4h1.2M322.8,46.0h1.2M322.8,48.6h1.2M322.8,51.1h1.2M322.8,53.7h1.2M322.8,56.2h1.2M322.8,58.8h1.2M322.8,61.4h1.2M322.8,63.9h1.2M322.8,66.5h1.2M322.8,69.0h1.2M322.8,71.6h1.2M322.8,74.2h1.2M322.8,76.7h1.2M322.8,79.3h1.2M322.8,81.8h1.2M322.8,84.4h1.2M322.8,87.0h1.2M322.8,89.5h1.2M322.8,92.1h1.2M322.8,94.6h1.2M322.8,97.2h1.2M322.8,99.8h1.2M322.8,102.3h1.2M322.8,104.9h1.2M322.8,107.4h1.2M322.8,110.0h1.2M322.8,112.6h1.2M322.8,115.1h1.2M322.8,117.7h1.2M322.8,120.2h1.2M322.8,122.8h1.2M322.8,125.4h1.2M322.8,127.9h1.2M322.8,130.5h1.2M322.8,133.0h1.2M322.8,135.6h1.2M322.8,138.2h1.2M322.8,140.7h1.2M322.8,143.3h1.2" stroke="#c4c4c4" stroke-width="0.5" fill="none"/>
<path d="M333.5,7.6H433.5M433.5,7.6V146.2H333.5" stroke="#a4a4a4" stroke-width="1.2" fill="none"/>
<path d="M333.5,7.6v-2.6M333.5,146.2v2.6M346.0,7.6v-2.6M346.0,146.2v2.6M358.4,7.6v-2.6M358.4,146.2v2.6M370.9,7.6v-2.6M370.9,146.2v2.6M383.4,7.6v-2.6M383.4,146.2v2.6M395.9,7.6v-2.6M395.9,146.2v2.6M408.3,7.6v-2.6M408.3,146.2v2.6M420.8,7.6v-2.6M420.8,146.2v2.6M433.5,7.6h2.4M433.5,20.0h2.4M433.5,32.4h2.4M433.5,44.8h2.4M433.5,57.2h2.4M433.5,69.6h2.4M433.5,82.0h2.4M433.5,94.4h2.4M433.5,106.8h2.4M433.5,119.2h2.4M433.5,131.6h2.4M433.5,144.0h2.4" stroke="#b0b0b0" stroke-width="0.7" fill="none"/>
<path d="M333.5,7.6v-1.2M333.5,146.2v1.2M336.0,7.6v-1.2M336.0,146.2v1.2M338.5,7.6v-1.2M338.5,146.2v1.2M341.0,7.6v-1.2M341.0,146.2v1.2M343.5,7.6v-1.2M343.5,146.2v1.2M346.0,7.6v-1.2M346.0,146.2v1.2M348.5,7.6v-1.2M348.5,146.2v1.2M351.0,7.6v-1.2M351.0,146.2v1.2M353.5,7.6v-1.2M353.5,146.2v1.2M355.9,7.6v-1.2M355.9,146.2v1.2M358.4,7.6v-1.2M358.4,146.2v1.2M360.9,7.6v-1.2M360.9,146.2v1.2M363.4,7.6v-1.2M363.4,146.2v1.2M365.9,7.6v-1.2M365.9,146.2v1.2M368.4,7.6v-1.2M368.4,146.2v1.2M370.9,7.6v-1.2M370.9,146.2v1.2M373.4,7.6v-1.2M373.4,146.2v1.2M375.9,7.6v-1.2M375.9,146.2v1.2M378.4,7.6v-1.2M378.4,146.2v1.2M380.9,7.6v-1.2M380.9,146.2v1.2M383.4,7.6v-1.2M383.4,146.2v1.2M385.9,7.6v-1.2M385.9,146.2v1.2M388.4,7.6v-1.2M388.4,146.2v1.2M390.9,7.6v-1.2M390.9,146.2v1.2M393.4,7.6v-1.2M393.4,146.2v1.2M395.9,7.6v-1.2M395.9,146.2v1.2M398.3,7.6v-1.2M398.3,146.2v1.2M400.8,7.6v-1.2M400.8,146.2v1.2M403.3,7.6v-1.2M403.3,146.2v1.2M405.8,7.6v-1.2M405.8,146.2v1.2M408.3,7.6v-1.2M408.3,146.2v1.2M410.8,7.6v-1.2M410.8,146.2v1.2M413.3,7.6v-1.2M413.3,146.2v1.2M415.8,7.6v-1.2M415.8,146.2v1.2M418.3,7.6v-1.2M418.3,146.2v1.2M420.8,7.6v-1.2M420.8,146.2v1.2M423.3,7.6v-1.2M423.3,146.2v1.2M425.8,7.6v-1.2M425.8,146.2v1.2M428.3,7.6v-1.2M428.3,146.2v1.2M430.8,7.6v-1.2M430.8,146.2v1.2M433.5,7.6h1.2M433.5,10.1h1.2M433.5,12.6h1.2M433.5,15.0h1.2M433.5,17.5h1.2M433.5,20.0h1.2M433.5,22.5h1.2M433.5,25.0h1.2M433.5,27.4h1.2M433.5,29.9h1.2M433.5,32.4h1.2M433.5,34.9h1.2M433.5,37.4h1.2M433.5,39.8h1.2M433.5,42.3h1.2M433.5,44.8h1.2M433.5,47.3h1.2M433.5,49.8h1.2M433.5,52.2h1.2M433.5,54.7h1.2M433.5,57.2h1.2M433.5,59.7h1.2M433.5,62.2h1.2M433.5,64.6h1.2M433.5,67.1h1.2M433.5,69.6h1.2M433.5,72.1h1.2M433.5,74.6h1.2M433.5,77.0h1.2M433.5,79.5h1.2M433.5,82.0h1.2M433.5,84.5h1.2M433.5,87.0h1.2M433.5,89.4h1.2M433.5,91.9h1.2M433.5,94.4h1.2M433.5,96.9h1.2M433.5,99.4h1.2M433.5,101.8h1.2M433.5,104.3h1.2M433.5,106.8h1.2M433.5,109.3h1.2M433.5,111.8h1.2M433.5,114.2h1.2M433.5,116.7h1.2M433.5,119.2h1.2M433.5,121.7h1.2M433.5,124.2h1.2M433.5,126.6h1.2M433.5,129.1h1.2M433.5,131.6h1.2M433.5,134.1h1.2M433.5,136.6h1.2M433.5,139.0h1.2M433.5,141.5h1.2M433.5,144.0h1.2" stroke="#c4c4c4" stroke-width="0.5" fill="none"/>
<path d="M443.0,7.6H539.5M539.5,7.6V146.2H443.0" stroke="#a4a4a4" stroke-width="1.2" fill="none"/>
<path d="M443.0,7.6v-2.6M443.0,146.2v2.6M455.1,7.6v-2.6M455.1,146.2v2.6M467.1,7.6v-2.6M467.1,146.2v2.6M479.2,7.6v-2.6M479.2,146.2v2.6M491.2,7.6v-2.6M491.2,146.2v2.6M503.3,7.6v-2.6M503.3,146.2v2.6M515.3,7.6v-2.6M515.3,146.2v2.6M527.4,7.6v-2.6M527.4,146.2v2.6M539.5,7.6h2.4M539.5,20.1h2.4M539.5,32.6h2.4M539.5,45.1h2.4M539.5,57.6h2.4M539.5,70.1h2.4M539.5,82.6h2.4M539.5,95.1h2.4M539.5,107.6h2.4M539.5,120.1h2.4M539.5,132.6h2.4M539.5,145.1h2.4" stroke="#b0b0b0" stroke-width="0.7" fill="none"/>
<path d="M443.0,7.6v-1.2M443.0,146.2v1.2M445.4,7.6v-1.2M445.4,146.2v1.2M447.8,7.6v-1.2M447.8,146.2v1.2M450.2,7.6v-1.2M450.2,146.2v1.2M452.6,7.6v-1.2M452.6,146.2v1.2M455.1,7.6v-1.2M455.1,146.2v1.2M457.5,7.6v-1.2M457.5,146.2v1.2M459.9,7.6v-1.2M459.9,146.2v1.2M462.3,7.6v-1.2M462.3,146.2v1.2M464.7,7.6v-1.2M464.7,146.2v1.2M467.1,7.6v-1.2M467.1,146.2v1.2M469.5,7.6v-1.2M469.5,146.2v1.2M471.9,7.6v-1.2M471.9,146.2v1.2M474.3,7.6v-1.2M474.3,146.2v1.2M476.7,7.6v-1.2M476.7,146.2v1.2M479.2,7.6v-1.2M479.2,146.2v1.2M481.6,7.6v-1.2M481.6,146.2v1.2M484.0,7.6v-1.2M484.0,146.2v1.2M486.4,7.6v-1.2M486.4,146.2v1.2M488.8,7.6v-1.2M488.8,146.2v1.2M491.2,7.6v-1.2M491.2,146.2v1.2M493.6,7.6v-1.2M493.6,146.2v1.2M496.0,7.6v-1.2M496.0,146.2v1.2M498.4,7.6v-1.2M498.4,146.2v1.2M500.8,7.6v-1.2M500.8,146.2v1.2M503.3,7.6v-1.2M503.3,146.2v1.2M505.7,7.6v-1.2M505.7,146.2v1.2M508.1,7.6v-1.2M508.1,146.2v1.2M510.5,7.6v-1.2M510.5,146.2v1.2M512.9,7.6v-1.2M512.9,146.2v1.2M515.3,7.6v-1.2M515.3,146.2v1.2M517.7,7.6v-1.2M517.7,146.2v1.2M520.1,7.6v-1.2M520.1,146.2v1.2M522.5,7.6v-1.2M522.5,146.2v1.2M524.9,7.6v-1.2M524.9,146.2v1.2M527.4,7.6v-1.2M527.4,146.2v1.2M529.8,7.6v-1.2M529.8,146.2v1.2M532.2,7.6v-1.2M532.2,146.2v1.2M534.6,7.6v-1.2M534.6,146.2v1.2M537.0,7.6v-1.2M537.0,146.2v1.2M539.5,7.6h1.2M539.5,10.1h1.2M539.5,12.6h1.2M539.5,15.1h1.2M539.5,17.6h1.2M539.5,20.1h1.2M539.5,22.6h1.2M539.5,25.1h1.2M539.5,27.6h1.2M539.5,30.1h1.2M539.5,32.6h1.2M539.5,35.1h1.2M539.5,37.6h1.2M539.5,40.1h1.2M539.5,42.6h1.2M539.5,45.1h1.2M539.5,47.6h1.2M539.5,50.1h1.2M539.5,52.6h1.2M539.5,55.1h1.2M539.5,57.6h1.2M539.5,60.1h1.2M539.5,62.6h1.2M539.5,65.1h1.2M539.5,67.6h1.2M539.5,70.1h1.2M539.5,72.6h1.2M539.5,75.1h1.2M539.5,77.6h1.2M539.5,80.1h1.2M539.5,82.6h1.2M539.5,85.1h1.2M539.5,87.6h1.2M539.5,90.1h1.2M539.5,92.6h1.2M539.5,95.1h1.2M539.5,97.6h1.2M539.5,100.1h1.2M539.5,102.6h1.2M539.5,105.1h1.2M539.5,107.6h1.2M539.5,110.1h1.2M539.5,112.6h1.2M539.5,115.1h1.2M539.5,117.6h1.2M539.5,120.1h1.2M539.5,122.6h1.2M539.5,125.1h1.2M539.5,127.6h1.2M539.5,130.1h1.2M539.5,132.6h1.2M539.5,135.1h1.2M539.5,137.6h1.2M539.5,140.1h1.2M539.5,142.6h1.2M539.5,145.1h1.2" stroke="#c4c4c4" stroke-width="0.5" fill="none"/>
<path d="M16.4,159.4H118.0M118.0,159.4V296.3H16.4" stroke="#a4a4a4" stroke-width="1.2" fill="none"/>
<path d="M16.4,159.4v-2.6M16.4,296.3v2.6M29.0,159.4v-2.6M29.0,296.3v2.6M41.6,159.4v-2.6M41.6,296.3v2.6M54.2,159.4v-2.6M54.2,296.3v2.6M66.8,159.4v-2.6M66.8,296.3v2.6M79.4,159.4v-2.6M79.4,296.3v2.6M92.0,159.4v-2.6M92.0,296.3v2.6M104.6,159.4v-2.6M104.6,296.3v2.6M118.0,159.4h2.4M118.0,171.9h2.4M118.0,184.4h2.4M118.0,196.9h2.4M118.0,209.4h2.4M118.0,221.9h2.4M118.0,234.4h2.4M118.0,246.9h2.4M118.0,259.4h2.4M118.0,271.9h2.4M118.0,284.4h2.4" stroke="#b0b0b0" stroke-width="0.7" fill="none"/>
<path d="M16.4,159.4v-1.2M16.4,296.3v1.2M18.9,159.4v-1.2M18.9,296.3v1.2M21.4,159.4v-1.2M21.4,296.3v1.2M24.0,159.4v-1.2M24.0,296.3v1.2M26.5,159.4v-1.2M26.5,296.3v1.2M29.0,159.4v-1.2M29.0,296.3v1.2M31.5,159.4v-1.2M31.5,296.3v1.2M34.0,159.4v-1.2M34.0,296.3v1.2M36.6,159.4v-1.2M36.6,296.3v1.2M39.1,159.4v-1.2M39.1,296.3v1.2M41.6,159.4v-1.2M41.6,296.3v1.2M44.1,159.4v-1.2M44.1,296.3v1.2M46.6,159.4v-1.2M46.6,296.3v1.2M49.2,159.4v-1.2M49.2,296.3v1.2M51.7,159.4v-1.2M51.7,296.3v1.2M54.2,159.4v-1.2M54.2,296.3v1.2M56.7,159.4v-1.2M56.7,296.3v1.2M59.2,159.4v-1.2M59.2,296.3v1.2M61.8,159.4v-1.2M61.8,296.3v1.2M64.3,159.4v-1.2M64.3,296.3v1.2M66.8,159.4v-1.2M66.8,296.3v1.2M69.3,159.4v-1.2M69.3,296.3v1.2M71.8,159.4v-1.2M71.8,296.3v1.2M74.4,159.4v-1.2M74.4,296.3v1.2M76.9,159.4v-1.2M76.9,296.3v1.2M79.4,159.4v-1.2M79.4,296.3v1.2M81.9,159.4v-1.2M81.9,296.3v1.2M84.4,159.4v-1.2M84.4,296.3v1.2M87.0,159.4v-1.2M87.0,296.3v1.2M89.5,159.4v-1.2M89.5,296.3v1.2M92.0,159.4v-1.2M92.0,296.3v1.2M94.5,159.4v-1.2M94.5,296.3v1.2M97.0,159.4v-1.2M97.0,296.3v1.2M99.6,159.4v-1.2M99.6,296.3v1.2M102.1,159.4v-1.2M102.1,296.3v1.2M104.6,159.4v-1.2M104.6,296.3v1.2M107.1,159.4v-1.2M107.1,296.3v1.2M109.6,159.4v-1.2M109.6,296.3v1.2M112.2,159.4v-1.2M112.2,296.3v1.2M114.7,159.4v-1.2M114.7,296.3v1.2M118.0,159.4h1.2M118.0,161.9h1.2M118.0,164.4h1.2M118.0,166.9h1.2M118.0,169.4h1.2M118.0,171.9h1.2M118.0,174.4h1.2M118.0,176.9h1.2M118.0,179.4h1.2M118.0,181.9h1.2M118.0,184.4h1.2M118.0,186.9h1.2M118.0,189.4h1.2M118.0,191.9h1.2M118.0,194.4h1.2M118.0,196.9h1.2M118.0,199.4h1.2M118.0,201.9h1.2M118.0,204.4h1.2M118.0,206.9h1.2M118.0,209.4h1.2M118.0,211.9h1.2M118.0,214.4h1.2M118.0,216.9h1.2M118.0,219.4h1.2M118.0,221.9h1.2M118.0,224.4h1.2M118.0,226.9h1.2M118.0,229.4h1.2M118.0,231.9h1.2M118.0,234.4h1.2M118.0,236.9h1.2M118.0,239.4h1.2M118.0,241.9h1.2M118.0,244.4h1.2M118.0,246.9h1.2M118.0,249.4h1.2M118.0,251.9h1.2M118.0,254.4h1.2M118.0,256.9h1.2M118.0,259.4h1.2M118.0,261.9h1.2M118.0,264.4h1.2M118.0,266.9h1.2M118.0,269.4h1.2M118.0,271.9h1.2M118.0,274.4h1.2M118.0,276.9h1.2M118.0,279.4h1.2M118.0,281.9h1.2M118.0,284.4h1.2M118.0,286.9h1.2M118.0,289.4h1.2M118.0,291.9h1.2M118.0,294.4h1.2" stroke="#c4c4c4" stroke-width="0.5" fill="none"/>
<path d="M128.0,159.4H227.5M227.5,159.4V296.3H128.0" stroke="#a4a4a4" stroke-width="1.2" fill="none"/>
<path d="M128.0,159.4v-2.6M128.0,296.3v2.6M140.5,159.4v-2.6M140.5,296.3v2.6M153.0,159.4v-2.6M153.0,296.3v2.6M165.5,159.4v-2.6M165.5,296.3v2.6M178.0,159.4v-2.6M178.0,296.3v2.6M190.5,159.4v-2.6M190.5,296.3v2.6M203.0,159.4v-2.6M203.0,296.3v2.6M215.5,159.4v-2.6M215.5,296.3v2.6M227.5,159.4h2.4M227.5,171.8h2.4M227.5,184.2h2.4M227.5,196.6h2.4M227.5,209.0h2.4M227.5,221.4h2.4M227.5,233.8h2.4M227.5,246.2h2.4M227.5,258.6h2.4M227.5,271.0h2.4M227.5,283.4h2.4" stroke="#b0b0b0" stroke-width="0.7" fill="none"/>
<path d="M128.0,159.4v-1.2M128.0,296.3v1.2M130.5,159.4v-1.2M130.5,296.3v1.2M133.0,159.4v-1.2M133.0,296.3v1.2M135.5,159.4v-1.2M135.5,296.3v1.2M138.0,159.4v-1.2M138.0,296.3v1.2M140.5,159.4v-1.2M140.5,296.3v1.2M143.0,159.4v-1.2M143.0,296.3v1.2M145.5,159.4v-1.2M145.5,296.3v1.2M148.0,159.4v-1.2M148.0,296.3v1.2M150.5,159.4v-1.2M150.5,296.3v1.2M153.0,159.4v-1.2M153.0,296.3v1.2M155.5,159.4v-1.2M155.5,296.3v1.2M158.0,159.4v-1.2M158.0,296.3v1.2M160.5,159.4v-1.2M160.5,296.3v1.2M163.0,159.4v-1.2M163.0,296.3v1.2M165.5,159.4v-1.2M165.5,296.3v1.2M168.0,159.4v-1.2M168.0,296.3v1.2M170.5,159.4v-1.2M170.5,296.3v1.2M173.0,159.4v-1.2M173.0,296.3v1.2M175.5,159.4v-1.2M175.5,296.3v1.2M178.0,159.4v-1.2M178.0,296.3v1.2M180.5,159.4v-1.2M180.5,296.3v1.2M183.0,159.4v-1.2M183.0,296.3v1.2M185.5,159.4v-1.2M185.5,296.3v1.2M188.0,159.4v-1.2M188.0,296.3v1.2M190.5,159.4v-1.2M190.5,296.3v1.2M193.0,159.4v-1.2M193.0,296.3v1.2M195.5,159.4v-1.2M195.5,296.3v1.2M198.0,159.4v-1.2M198.0,296.3v1.2M200.5,159.4v-1.2M200.5,296.3v1.2M203.0,159.4v-1.2M203.0,296.3v1.2M205.5,159.4v-1.2M205.5,296.3v1.2M208.0,159.4v-1.2M208.0,296.3v1.2M210.5,159.4v-1.2M210.5,296.3v1.2M213.0,159.4v-1.2M213.0,296.3v1.2M215.5,159.4v-1.2M215.5,296.3v1.2M218.0,159.4v-1.2M218.0,296.3v1.2M220.5,159.4v-1.2M220.5,296.3v1.2M223.0,159.4v-1.2M223.0,296.3v1.2M225.5,159.4v-1.2M225.5,296.3v1.2M227.5,159.4h1.2M227.5,161.9h1.2M227.5,164.4h1.2M227.5,166.8h1.2M227.5,169.3h1.2M227.5,171.8h1.2M227.5,174.3h1.2M227.5,176.8h1.2M227.5,179.2h1.2M227.5,181.7h1.2M227.5,184.2h1.2M227.5,186.7h1.2M227.5,189.2h1.2M227.5,191.6h1.2M227.5,194.1h1.2M227.5,196.6h1.2M227.5,199.1h1.2M227.5,201.6h1.2M227.5,204.0h1.2M227.5,206.5h1.2M227.5,209.0h1.2M227.5,211.5h1.2M227.5,214.0h1.2M227.5,216.4h1.2M227.5,218.9h1.2M227.5,221.4h1.2M227.5,223.9h1.2M227.5,226.4h1.2M227.5,228.8h1.2M227.5,231.3h1.2M227.5,233.8h1.2M227.5,236.3h1.2M227.5,238.8h1.2M227.5,241.2h1.2M227.5,243.7h1.2M227.5,246.2h1.2M227.5,248.7h1.2M227.5,251.2h1.2M227.5,253.6h1.2M227.5,256.1h1.2M227.5,258.6h1.2M227.5,261.1h1.2M227.5,263.6h1.2M227.5,266.0h1.2M227.5,268.5h1.2M227.5,271.0h1.2M227.5,273.5h1.2M227.5,276.0h1.2M227.5,278.4h1.2M227.5,280.9h1.2M227.5,283.4h1.2M227.5,285.9h1.2M227.5,288.4h1.2M227.5,290.8h1.2M227.5,293.3h1.2" stroke="#c4c4c4" stroke-width="0.5" fill="none"/>
<path d="M239.5,159.4H340.2M340.2,159.4V296.3H239.5" stroke="#a4a4a4" stroke-width="1.2" fill="none"/>
<path d="M239.5,159.4v-2.6M239.5,296.3v2.6M252.0,159.4v-2.6M252.0,296.3v2.6M264.5,159.4v-2.6M264.5,296.3v2.6M277.0,159.4v-2.6M277.0,296.3v2.6M289.5,159.4v-2.6M289.5,296.3v2.6M302.0,159.4v-2.6M302.0,296.3v2.6M314.5,159.4v-2.6M314.5,296.3v2.6M327.0,159.4v-2.6M327.0,296.3v2.6M340.2,159.4h2.4M340.2,171.9h2.4M340.2,184.4h2.4M340.2,196.9h2.4M340.2,209.4h2.4M340.2,221.9h2.4M340.2,234.4h2.4M340.2,246.9h2.4M340.2,259.4h2.4M340.2,271.9h2.4M340.2,284.4h2.4" stroke="#b0b0b0" stroke-width="0.7" fill="none"/>
<path d="M239.5,159.4v-1.2M239.5,296.3v1.2M242.0,159.4v-1.2M242.0,296.3v1.2M244.5,159.4v-1.2M244.5,296.3v1.2M247.0,159.4v-1.2M247.0,296.3v1.2M249.5,159.4v-1.2M249.5,296.3v1.2M252.0,159.4v-1.2M252.0,296.3v1.2M254.5,159.4v-1.2M254.5,296.3v1.2M257.0,159.4v-1.2M257.0,296.3v1.2M259.5,159.4v-1.2M259.5,296.3v1.2M262.0,159.4v-1.2M262.0,296.3v1.2M264.5,159.4v-1.2M264.5,296.3v1.2M267.0,159.4v-1.2M267.0,296.3v1.2M269.5,159.4v-1.2M269.5,296.3v1.2M272.0,159.4v-1.2M272.0,296.3v1.2M274.5,159.4v-1.2M274.5,296.3v1.2M277.0,159.4v-1.2M277.0,296.3v1.2M279.5,159.4v-1.2M279.5,296.3v1.2M282.0,159.4v-1.2M282.0,296.3v1.2M284.5,159.4v-1.2M284.5,296.3v1.2M287.0,159.4v-1.2M287.0,296.3v1.2M289.5,159.4v-1.2M289.5,296.3v1.2M292.0,159.4v-1.2M292.0,296.3v1.2M294.5,159.4v-1.2M294.5,296.3v1.2M297.0,159.4v-1.2M297.0,296.3v1.2M299.5,159.4v-1.2M299.5,296.3v1.2M302.0,159.4v-1.2M302.0,296.3v1.2M304.5,159.4v-1.2M304.5,296.3v1.2M307.0,159.4v-1.2M307.0,296.3v1.2M309.5,159.4v-1.2M309.5,296.3v1.2M312.0,159.4v-1.2M312.0,296.3v1.2M314.5,159.4v-1.2M314.5,296.3v1.2M317.0,159.4v-1.2M317.0,296.3v1.2M319.5,159.4v-1.2M319.5,296.3v1.2M322.0,159.4v-1.2M322.0,296.3v1.2M324.5,159.4v-1.2M324.5,296.3v1.2M327.0,159.4v-1.2M327.0,296.3v1.2M329.5,159.4v-1.2M329.5,296.3v1.2M332.0,159.4v-1.2M332.0,296.3v1.2M334.5,159.4v-1.2M334.5,296.3v1.2M337.0,159.4v-1.2M337.0,296.3v1.2M340.2,159.4h1.2M340.2,161.9h1.2M340.2,164.4h1.2M340.2,166.9h1.2M340.2,169.4h1.2M340.2,171.9h1.2M340.2,174.4h1.2M340.2,176.9h1.2M340.2,179.4h1.2M340.2,181.9h1.2M340.2,184.4h1.2M340.2,186.9h1.2M340.2,189.4h1.2M340.2,191.9h1.2M340.2,194.4h1.2M340.2,196.9h1.2M340.2,199.4h1.2M340.2,201.9h1.2M340.2,204.4h1.2M340.2,206.9h1.2M340.2,209.4h1.2M340.2,211.9h1.2M340.2,214.4h1.2M340.2,216.9h1.2M340.2,219.4h1.2M340.2,221.9h1.2M340.2,224.4h1.2M340.2,226.9h1.2M340.2,229.4h1.2M340.2,231.9h1.2M340.2,234.4h1.2M340.2,236.9h1.2M340.2,239.4h1.2M340.2,241.9h1.2M340.2,244.4h1.2M340.2,246.9h1.2M340.2,249.4h1.2M340.2,251.9h1.2M340.2,254.4h1.2M340.2,256.9h1.2M340.2,259.4h1.2M340.2,261.9h1.2M340.2,264.4h1.2M340.2,266.9h1.2M340.2,269.4h1.2M340.2,271.9h1.2M340.2,274.4h1.2M340.2,276.9h1.2M340.2,279.4h1.2M340.2,281.9h1.2M340.2,284.4h1.2M340.2,286.9h1.2M340.2,289.4h1.2M340.2,291.9h1.2M340.2,294.4h1.2" stroke="#c4c4c4" stroke-width="0.5" fill="none"/>
<path d="M350.8,159.4H450.2M450.2,159.4V296.3H350.8" stroke="#a4a4a4" stroke-width="1.2" fill="none"/>
<path d="M350.8,159.4v-2.6M350.8,296.3v2.6M363.2,159.4v-2.6M363.2,296.3v2.6M375.5,159.4v-2.6M375.5,296.3v2.6M387.9,159.4v-2.6M387.9,296.3v2.6M400.2,159.4v-2.6M400.2,296.3v2.6M412.6,159.4v-2.6M412.6,296.3v2.6M425.0,159.4v-2.6M425.0,296.3v2.6M437.3,159.4v-2.6M437.3,296.3v2.6M450.2,159.4h2.4M450.2,172.1h2.4M450.2,184.8h2.4M450.2,197.5h2.4M450.2,210.2h2.4M450.2,222.9h2.4M450.2,235.6h2.4M450.2,248.3h2.4M450.2,261.0h2.4M450.2,273.7h2.4M450.2,286.4h2.4" stroke="#b0b0b0" stroke-width="0.7" fill="none"/>
<path d="M350.8,159.4v-1.2M350.8,296.3v1.2M353.3,159.4v-1.2M353.3,296.3v1.2M355.7,159.4v-1.2M355.7,296.3v1.2M358.2,159.4v-1.2M358.2,296.3v1.2M360.7,159.4v-1.2M360.7,296.3v1.2M363.2,159.4v-1.2M363.2,296.3v1.2M365.6,159.4v-1.2M365.6,296.3v1.2M368.1,159.4v-1.2M368.1,296.3v1.2M370.6,159.4v-1.2M370.6,296.3v1.2M373.0,159.4v-1.2M373.0,296.3v1.2M375.5,159.4v-1.2M375.5,296.3v1.2M378.0,159.4v-1.2M378.0,296.3v1.2M380.5,159.4v-1.2M380.5,296.3v1.2M382.9,159.4v-1.2M382.9,296.3v1.2M385.4,159.4v-1.2M385.4,296.3v1.2M387.9,159.4v-1.2M387.9,296.3v1.2M390.4,159.4v-1.2M390.4,296.3v1.2M392.8,159.4v-1.2M392.8,296.3v1.2M395.3,159.4v-1.2M395.3,296.3v1.2M397.8,159.4v-1.2M397.8,296.3v1.2M400.2,159.4v-1.2M400.2,296.3v1.2M402.7,159.4v-1.2M402.7,296.3v1.2M405.2,159.4v-1.2M405.2,296.3v1.2M407.7,159.4v-1.2M407.7,296.3v1.2M410.1,159.4v-1.2M410.1,296.3v1.2M412.6,159.4v-1.2M412.6,296.3v1.2M415.1,159.4v-1.2M415.1,296.3v1.2M417.5,159.4v-1.2M417.5,296.3v1.2M420.0,159.4v-1.2M420.0,296.3v1.2M422.5,159.4v-1.2M422.5,296.3v1.2M425.0,159.4v-1.2M425.0,296.3v1.2M427.4,159.4v-1.2M427.4,296.3v1.2M429.9,159.4v-1.2M429.9,296.3v1.2M432.4,159.4v-1.2M432.4,296.3v1.2M434.8,159.4v-1.2M434.8,296.3v1.2M437.3,159.4v-1.2M437.3,296.3v1.2M439.8,159.4v-1.2M439.8,296.3v1.2M442.3,159.4v-1.2M442.3,296.3v1.2M444.7,159.4v-1.2M444.7,296.3v1.2M447.2,159.4v-1.2M447.2,296.3v1.2M450.2,159.4h1.2M450.2,161.9h1.2M450.2,164.5h1.2M450.2,167.0h1.2M450.2,169.6h1.2M450.2,172.1h1.2M450.2,174.6h1.2M450.2,177.2h1.2M450.2,179.7h1.2M450.2,182.3h1.2M450.2,184.8h1.2M450.2,187.3h1.2M450.2,189.9h1.2M450.2,192.4h1.2M450.2,195.0h1.2M450.2,197.5h1.2M450.2,200.0h1.2M450.2,202.6h1.2M450.2,205.1h1.2M450.2,207.7h1.2M450.2,210.2h1.2M450.2,212.7h1.2M450.2,215.3h1.2M450.2,217.8h1.2M450.2,220.4h1.2M450.2,222.9h1.2M450.2,225.4h1.2M450.2,228.0h1.2M450.2,230.5h1.2M450.2,233.1h1.2M450.2,235.6h1.2M450.2,238.1h1.2M450.2,240.7h1.2M450.2,243.2h1.2M450.2,245.8h1.2M450.2,248.3h1.2M450.2,250.8h1.2M450.2,253.4h1.2M450.2,255.9h1.2M450.2,258.5h1.2M450.2,261.0h1.2M450.2,263.5h1.2M450.2,266.1h1.2M450.2,268.6h1.2M450.2,271.2h1.2M450.2,273.7h1.2M450.2,276.2h1.2M450.2,278.8h1.2M450.2,281.3h1.2M450.2,283.9h1.2M450.2,286.4h1.2M450.2,288.9h1.2M450.2,291.5h1.2M450.2,294.0h1.2" stroke="#c4c4c4" stroke-width="0.5" fill="none"/>
<path d="M17.0,308.3H117.7M117.7,308.3V444.2H17.0" stroke="#a4a4a4" stroke-width="1.2" fill="none"/>
<path d="M17.0,308.3v-2.6M17.0,444.2v2.6M29.6,308.3v-2.6M29.6,444.2v2.6M42.2,308.3v-2.6M42.2,444.2v2.6M54.8,308.3v-2.6M54.8,444.2v2.6M67.4,308.3v-2.6M67.4,444.2v2.6M80.0,308.3v-2.6M80.0,444.2v2.6M92.6,308.3v-2.6M92.6,444.2v2.6M105.2,308.3v-2.6M105.2,444.2v2.6M117.7,308.3h2.4M117.7,320.8h2.4M117.7,333.3h2.4M117.7,345.8h2.4M117.7,358.3h2.4M117.7,370.8h2.4M117.7,383.3h2.4M117.7,395.8h2.4M117.7,408.3h2.4M117.7,420.8h2.4M117.7,433.3h2.4" stroke="#b0b0b0" stroke-width="0.7" fill="none"/>
<path d="M17.0,308.3v-1.2M17.0,444.2v1.2M19.5,308.3v-1.2M19.5,444.2v1.2M22.0,308.3v-1.2M22.0,444.2v1.2M24.6,308.3v-1.2M24.6,444.2v1.2M27.1,308.3v-1.2M27.1,444.2v1.2M29.6,308.3v-1.2M29.6,444.2v1.2M32.1,308.3v-1.2M32.1,444.2v1.2M34.6,308.3v-1.2M34.6,444.2v1.2M37.2,308.3v-1.2M37.2,444.2v1.2M39.7,308.3v-1.2M39.7,444.2v1.2M42.2,308.3v-1.2M42.2,444.2v1.2M44.7,308.3v-1.2M44.7,444.2v1.2M47.2,308.3v-1.2M47.2,444.2v1.2M49.8,308.3v-1.2M49.8,444.2v1.2M52.3,308.3v-1.2M52.3,444.2v1.2M54.8,308.3v-1.2M54.8,444.2v1.2M57.3,308.3v-1.2M57.3,444.2v1.2M59.8,308.3v-1.2M59.8,444.2v1.2M62.4,308.3v-1.2M62.4,444.2v1.2M64.9,308.3v-1.2M64.9,444.2v1.2M67.4,308.3v-1.2M67.4,444.2v1.2M69.9,308.3v-1.2M69.9,444.2v1.2M72.4,308.3v-1.2M72.4,444.2v1.2M75.0,308.3v-1.2M75.0,444.2v1.2M77.5,308.3v-1.2M77.5,444.2v1.2M80.0,308.3v-1.2M80.0,444.2v1.2M82.5,308.3v-1.2M82.5,444.2v1.2M85.0,308.3v-1.2M85.0,444.2v1.2M87.6,308.3v-1.2M87.6,444.2v1.2M90.1,308.3v-1.2M90.1,444.2v1.2M92.6,308.3v-1.2M92.6,444.2v1.2M95.1,308.3v-1.2M95.1,444.2v1.2M97.6,308.3v-1.2M97.6,444.2v1.2M100.2,308.3v-1.2M100.2,444.2v1.2M102.7,308.3v-1.2M102.7,444.2v1.2M105.2,308.3v-1.2M105.2,444.2v1.2M107.7,308.3v-1.2M107.7,444.2v1.2M110.2,308.3v-1.2M110.2,444.2v1.2M112.8,308.3v-1.2M112.8,444.2v1.2M115.3,308.3v-1.2M115.3,444.2v1.2M117.7,308.3h1.2M117.7,310.8h1.2M117.7,313.3h1.2M117.7,315.8h1.2M117.7,318.3h1.2M117.7,320.8h1.2M117.7,323.3h1.2M117.7,325.8h1.2M117.7,328.3h1.2M117.7,330.8h1.2M117.7,333.3h1.2M117.7,335.8h1.2M117.7,338.3h1.2M117.7,340.8h1.2M117.7,343.3h1.2M117.7,345.8h1.2M117.7,348.3h1.2M117.7,350.8h1.2M117.7,353.3h1.2M117.7,355.8h1.2M117.7,358.3h1.2M117.7,360.8h1.2M117.7,363.3h1.2M117.7,365.8h1.2M117.7,368.3h1.2M117.7,370.8h1.2M117.7,373.3h1.2M117.7,375.8h1.2M117.7,378.3h1.2M117.7,380.8h1.2M117.7,383.3h1.2M117.7,385.8h1.2M117.7,388.3h1.2M117.7,390.8h1.2M117.7,393.3h1.2M117.7,395.8h1.2M117.7,398.3h1.2M117.7,400.8h1.2M117.7,403.3h1.2M117.7,405.8h1.2M117.7,408.3h1.2M117.7,410.8h1.2M117.7,413.3h1.2M117.7,415.8h1.2M117.7,418.3h1.2M117.7,420.8h1.2M117.7,423.3h1.2M117.7,425.8h1.2M117.7,428.3h1.2M117.7,430.8h1.2M117.7,433.3h1.2M117.7,435.8h1.2M117.7,438.3h1.2M117.7,440.8h1.2" stroke="#c4c4c4" stroke-width="0.5" fill="none"/>
<path d="M128.0,308.3H228.2M228.2,308.3V444.2H128.0" stroke="#a4a4a4" stroke-width="1.2" fill="none"/>
<path d="M128.0,308.3v-2.6M128.0,444.2v2.6M140.6,308.3v-2.6M140.6,444.2v2.6M153.2,308.3v-2.6M153.2,444.2v2.6M165.8,308.3v-2.6M165.8,444.2v2.6M178.4,308.3v-2.6M178.4,444.2v2.6M191.0,308.3v-2.6M191.0,444.2v2.6M203.6,308.3v-2.6M203.6,444.2v2.6M216.2,308.3v-2.6M216.2,444.2v2.6M228.2,308.3h2.4M228.2,320.8h2.4M228.2,333.3h2.4M228.2,345.8h2.4M228.2,358.3h2.4M228.2,370.8h2.4M228.2,383.3h2.4M228.2,395.8h2.4M228.2,408.3h2.4M228.2,420.8h2.4M228.2,433.3h2.4" stroke="#b0b0b0" stroke-width="0.7" fill="none"/>
<path d="M128.0,308.3v-1.2M128.0,444.2v1.2M130.5,308.3v-1.2M130.5,444.2v1.2M133.0,308.3v-1.2M133.0,444.2v1.2M135.6,308.3v-1.2M135.6,444.2v1.2M138.1,308.3v-1.2M138.1,444.2v1.2M140.6,308.3v-1.2M140.6,444.2v1.2M143.1,308.3v-1.2M143.1,444.2v1.2M145.6,308.3v-1.2M145.6,444.2v1.2M148.2,308.3v-1.2M148.2,444.2v1.2M150.7,308.3v-1.2M150.7,444.2v1.2M153.2,308.3v-1.2M153.2,444.2v1.2M155.7,308.3v-1.2M155.7,444.2v1.2M158.2,308.3v-1.2M158.2,444.2v1.2M160.8,308.3v-1.2M160.8,444.2v1.2M163.3,308.3v-1.2M163.3,444.2v1.2M165.8,308.3v-1.2M165.8,444.2v1.2M168.3,308.3v-1.2M168.3,444.2v1.2M170.8,308.3v-1.2M170.8,444.2v1.2M173.4,308.3v-1.2M173.4,444.2v1.2M175.9,308.3v-1.2M175.9,444.2v1.2M178.4,308.3v-1.2M178.4,444.2v1.2M180.9,308.3v-1.2M180.9,444.2v1.2M183.4,308.3v-1.2M183.4,444.2v1.2M186.0,308.3v-1.2M186.0,444.2v1.2M188.5,308.3v-1.2M188.5,444.2v1.2M191.0,308.3v-1.2M191.0,444.2v1.2M193.5,308.3v-1.2M193.5,444.2v1.2M196.0,308.3v-1.2M196.0,444.2v1.2M198.6,308.3v-1.2M198.6,444.2v1.2M201.1,308.3v-1.2M201.1,444.2v1.2M203.6,308.3v-1.2M203.6,444.2v1.2M206.1,308.3v-1.2M206.1,444.2v1.2M208.6,308.3v-1.2M208.6,444.2v1.2M211.2,308.3v-1.2M211.2,444.2v1.2M213.7,308.3v-1.2M213.7,444.2v1.2M216.2,308.3v-1.2M216.2,444.2v1.2M218.7,308.3v-1.2M218.7,444.2v1.2M221.2,308.3v-1.2M221.2,444.2v1.2M223.8,308.3v-1.2M223.8,444.2v1.2M226.3,308.3v-1.2M226.3,444.2v1.2M228.2,308.3h1.2M228.2,310.8h1.2M228.2,313.3h1.2M228.2,315.8h1.2M228.2,318.3h1.2M228.2,320.8h1.2M228.2,323.3h1.2M228.2,325.8h1.2M228.2,328.3h1.2M228.2,330.8h1.2M228.2,333.3h1.2M228.2,335.8h1.2M228.2,338.3h1.2M228.2,340.8h1.2M228.2,343.3h1.2M228.2,345.8h1.2M228.2,348.3h1.2M228.2,350.8h1.2M228.2,353.3h1.2M228.2,355.8h1.2M228.2,358.3h1.2M228.2,360.8h1.2M228.2,363.3h1.2M228.2,365.8h1.2M228.2,368.3h1.2M228.2,370.8h1.2M228.2,373.3h1.2M228.2,375.8h1.2M228.2,378.3h1.2M228.2,380.8h1.2M228.2,383.3h1.2M228.2,385.8h1.2M228.2,388.3h1.2M228.2,390.8h1.2M228.2,393.3h1.2M228.2,395.8h1.2M228.2,398.3h1.2M228.2,400.8h1.2M228.2,403.3h1.2M228.2,405.8h1.2M228.2,408.3h1.2M228.2,410.8h1.2M228.2,413.3h1.2M228.2,415.8h1.2M228.2,418.3h1.2M228.2,420.8h1.2M228.2,423.3h1.2M228.2,425.8h1.2M228.2,428.3h1.2M228.2,430.8h1.2M228.2,433.3h1.2M228.2,435.8h1.2M228.2,438.3h1.2M228.2,440.8h1.2" stroke="#c4c4c4" stroke-width="0.5" fill="none"/>
<path d="M239.5,308.3H339.6M339.6,308.3V444.2H239.5" stroke="#a4a4a4" stroke-width="1.2" fill="none"/>
<path d="M239.5,308.3v-2.6M239.5,444.2v2.6M252.1,308.3v-2.6M252.1,444.2v2.6M264.7,308.3v-2.6M264.7,444.2v2.6M277.3,308.3v-2.6M277.3,444.2v2.6M289.9,308.3v-2.6M289.9,444.2v2.6M302.5,308.3v-2.6M302.5,444.2v2.6M315.1,308.3v-2.6M315.1,444.2v2.6M327.7,308.3v-2.6M327.7,444.2v2.6M339.6,308.3h2.4M339.6,320.8h2.4M339.6,333.3h2.4M339.6,345.8h2.4M339.6,358.3h2.4M339.6,370.8h2.4M339.6,383.3h2.4M339.6,395.8h2.4M339.6,408.3h2.4M339.6,420.8h2.4M339.6,433.3h2.4" stroke="#b0b0b0" stroke-width="0.7" fill="none"/>
<path d="M239.5,308.3v-1.2M239.5,444.2v1.2M242.0,308.3v-1.2M242.0,444.2v1.2M244.5,308.3v-1.2M244.5,444.2v1.2M247.1,308.3v-1.2M247.1,444.2v1.2M249.6,308.3v-1.2M249.6,444.2v1.2M252.1,308.3v-1.2M252.1,444.2v1.2M254.6,308.3v-1.2M254.6,444.2v1.2M257.1,308.3v-1.2M257.1,444.2v1.2M259.7,308.3v-1.2M259.7,444.2v1.2M262.2,308.3v-1.2M262.2,444.2v1.2M264.7,308.3v-1.2M264.7,444.2v1.2M267.2,308.3v-1.2M267.2,444.2v1.2M269.7,308.3v-1.2M269.7,444.2v1.2M272.3,308.3v-1.2M272.3,444.2v1.2M274.8,308.3v-1.2M274.8,444.2v1.2M277.3,308.3v-1.2M277.3,444.2v1.2M279.8,308.3v-1.2M279.8,444.2v1.2M282.3,308.3v-1.2M282.3,444.2v1.2M284.9,308.3v-1.2M284.9,444.2v1.2M287.4,308.3v-1.2M287.4,444.2v1.2M289.9,308.3v-1.2M289.9,444.2v1.2M292.4,308.3v-1.2M292.4,444.2v1.2M294.9,308.3v-1.2M294.9,444.2v1.2M297.5,308.3v-1.2M297.5,444.2v1.2M300.0,308.3v-1.2M300.0,444.2v1.2M302.5,308.3v-1.2M302.5,444.2v1.2M305.0,308.3v-1.2M305.0,444.2v1.2M307.5,308.3v-1.2M307.5,444.2v1.2M310.1,308.3v-1.2M310.1,444.2v1.2M312.6,308.3v-1.2M312.6,444.2v1.2M315.1,308.3v-1.2M315.1,444.2v1.2M317.6,308.3v-1.2M317.6,444.2v1.2M320.1,308.3v-1.2M320.1,444.2v1.2M322.7,308.3v-1.2M322.7,444.2v1.2M325.2,308.3v-1.2M325.2,444.2v1.2M327.7,308.3v-1.2M327.7,444.2v1.2M330.2,308.3v-1.2M330.2,444.2v1.2M332.7,308.3v-1.2M332.7,444.2v1.2M335.3,308.3v-1.2M335.3,444.2v1.2M337.8,308.3v-1.2M337.8,444.2v1.2M339.6,308.3h1.2M339.6,310.8h1.2M339.6,313.3h1.2M339.6,315.8h1.2M339.6,318.3h1.2M339.6,320.8h1.2M339.6,323.3h1.2M339.6,325.8h1.2M339.6,328.3h1.2M339.6,330.8h1.2M339.6,333.3h1.2M339.6,335.8h1.2M339.6,338.3h1.2M339.6,340.8h1.2M339.6,343.3h1.2M339.6,345.8h1.2M339.6,348.3h1.2M339.6,350.8h1.2M339.6,353.3h1.2M339.6,355.8h1.2M339.6,358.3h1.2M339.6,360.8h1.2M339.6,363.3h1.2M339.6,365.8h1.2M339.6,368.3h1.2M339.6,370.8h1.2M339.6,373.3h1.2M339.6,375.8h1.2M339.6,378.3h1.2M339.6,380.8h1.2M339.6,383.3h1.2M339.6,385.8h1.2M339.6,388.3h1.2M339.6,390.8h1.2M339.6,393.3h1.2M339.6,395.8h1.2M339.6,398.3h1.2M339.6,400.8h1.2M339.6,403.3h1.2M339.6,405.8h1.2M339.6,408.3h1.2M339.6,410.8h1.2M339.6,413.3h1.2M339.6,415.8h1.2M339.6,418.3h1.2M339.6,420.8h1.2M339.6,423.3h1.2M339.6,425.8h1.2M339.6,428.3h1.2M339.6,430.8h1.2M339.6,433.3h1.2M339.6,435.8h1.2M339.6,438.3h1.2M339.6,440.8h1.2" stroke="#c4c4c4" stroke-width="0.5" fill="none"/>
<path d="M347.0,308.3H449.8M449.8,308.3V444.2H347.0" stroke="#a4a4a4" stroke-width="1.2" fill="none"/>
<path d="M347.0,308.3v-2.6M347.0,444.2v2.6M359.6,308.3v-2.6M359.6,444.2v2.6M372.2,308.3v-2.6M372.2,444.2v2.6M384.8,308.3v-2.6M384.8,444.2v2.6M397.4,308.3v-2.6M397.4,444.2v2.6M410.0,308.3v-2.6M410.0,444.2v2.6M422.6,308.3v-2.6M422.6,444.2v2.6M435.2,308.3v-2.6M435.2,444.2v2.6M447.8,308.3v-2.6M447.8,444.2v2.6M449.8,308.3h2.4M449.8,320.8h2.4M449.8,333.3h2.4M449.8,345.8h2.4M449.8,358.3h2.4M449.8,370.8h2.4M449.8,383.3h2.4M449.8,395.8h2.4M449.8,408.3h2.4M449.8,420.8h2.4M449.8,433.3h2.4" stroke="#b0b0b0" stroke-width="0.7" fill="none"/>
<path d="M347.0,308.3v-1.2M347.0,444.2v1.2M349.5,308.3v-1.2M349.5,444.2v1.2M352.0,308.3v-1.2M352.0,444.2v1.2M354.6,308.3v-1.2M354.6,444.2v1.2M357.1,308.3v-1.2M357.1,444.2v1.2M359.6,308.3v-1.2M359.6,444.2v1.2M362.1,308.3v-1.2M362.1,444.2v1.2M364.6,308.3v-1.2M364.6,444.2v1.2M367.2,308.3v-1.2M367.2,444.2v1.2M369.7,308.3v-1.2M369.7,444.2v1.2M372.2,308.3v-1.2M372.2,444.2v1.2M374.7,308.3v-1.2M374.7,444.2v1.2M377.2,308.3v-1.2M377.2,444.2v1.2M379.8,308.3v-1.2M379.8,444.2v1.2M382.3,308.3v-1.2M382.3,444.2v1.2M384.8,308.3v-1.2M384.8,444.2v1.2M387.3,308.3v-1.2M387.3,444.2v1.2M389.8,308.3v-1.2M389.8,444.2v1.2M392.4,308.3v-1.2M392.4,444.2v1.2M394.9,308.3v-1.2M394.9,444.2v1.2M397.4,308.3v-1.2M397.4,444.2v1.2M399.9,308.3v-1.2M399.9,444.2v1.2M402.4,308.3v-1.2M402.4,444.2v1.2M405.0,308.3v-1.2M405.0,444.2v1.2M407.5,308.3v-1.2M407.5,444.2v1.2M410.0,308.3v-1.2M410.0,444.2v1.2M412.5,308.3v-1.2M412.5,444.2v1.2M415.0,308.3v-1.2M415.0,444.2v1.2M417.6,308.3v-1.2M417.6,444.2v1.2M420.1,308.3v-1.2M420.1,444.2v1.2M422.6,308.3v-1.2M422.6,444.2v1.2M425.1,308.3v-1.2M425.1,444.2v1.2M427.6,308.3v-1.2M427.6,444.2v1.2M430.2,308.3v-1.2M430.2,444.2v1.2M432.7,308.3v-1.2M432.7,444.2v1.2M435.2,308.3v-1.2M435.2,444.2v1.2M437.7,308.3v-1.2M437.7,444.2v1.2M440.2,308.3v-1.2M440.2,444.2v1.2M442.8,308.3v-1.2M442.8,444.2v1.2M445.3,308.3v-1.2M445.3,444.2v1.2M447.8,308.3v-1.2M447.8,444.2v1.2M449.8,308.3h1.2M449.8,310.8h1.2M449.8,313.3h1.2M449.8,315.8h1.2M449.8,318.3h1.2M449.8,320.8h1.2M449.8,323.3h1.2M449.8,325.8h1.2M449.8,328.3h1.2M449.8,330.8h1.2M449.8,333.3h1.2M449.8,335.8h1.2M449.8,338.3h1.2M449.8,340.8h1.2M449.8,343.3h1.2M449.8,345.8h1.2M449.8,348.3h1.2M449.8,350.8h1.2M449.8,353.3h1.2M449.8,355.8h1.2M449.8,358.3h1.2M449.8,360.8h1.2M449.8,363.3h1.2M449.8,365.8h1.2M449.8,368.3h1.2M449.8,370.8h1.2M449.8,373.3h1.2M449.8,375.8h1.2M449.8,378.3h1.2M449.8,380.8h1.2M449.8,383.3h1.2M449.8,385.8h1.2M449.8,388.3h1.2M449.8,390.8h1.2M449.8,393.3h1.2M449.8,395.8h1.2M449.8,398.3h1.2M449.8,400.8h1.2M449.8,403.3h1.2M449.8,405.8h1.2M449.8,408.3h1.2M449.8,410.8h1.2M449.8,413.3h1.2M449.8,415.8h1.2M449.8,418.3h1.2M449.8,420.8h1.2M449.8,423.3h1.2M449.8,425.8h1.2M449.8,428.3h1.2M449.8,430.8h1.2M449.8,433.3h1.2M449.8,435.8h1.2M449.8,438.3h1.2M449.8,440.8h1.2" stroke="#c4c4c4" stroke-width="0.5" fill="none"/>
</svg>
</body></html>
